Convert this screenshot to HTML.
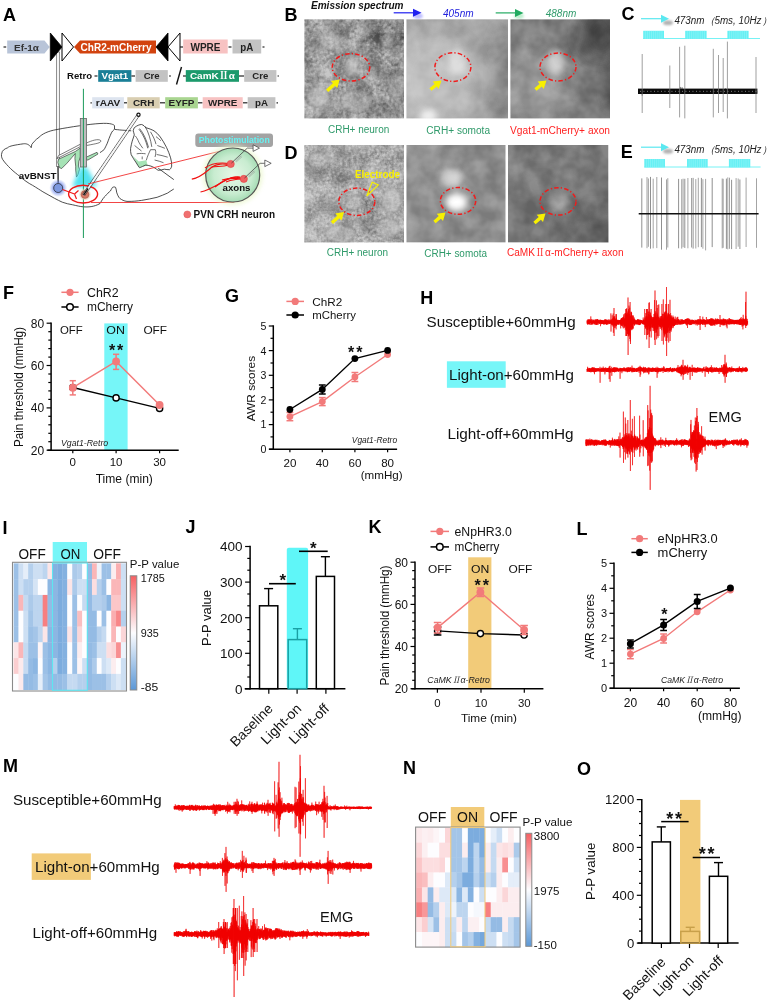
<!DOCTYPE html>
<html><head><meta charset="utf-8"><title>Figure</title>
<style>
html,body{margin:0;padding:0;background:#fff;}
body{width:770px;height:1000px;overflow:hidden;}
svg{display:block;font-family:"Liberation Sans", Arial, sans-serif;}
</style></head>
<body>
<svg width="770" height="1000" viewBox="0 0 770 1000">
<defs>
<filter id="blur1" x="-50%" y="-50%" width="200%" height="200%"><feGaussianBlur stdDeviation="1"/></filter>
<filter id="blur2" x="-50%" y="-50%" width="200%" height="200%"><feGaussianBlur stdDeviation="2"/></filter>
<filter id="blur3" x="-50%" y="-50%" width="200%" height="200%"><feGaussianBlur stdDeviation="3"/></filter>
<filter id="blur4" x="-50%" y="-50%" width="200%" height="200%"><feGaussianBlur stdDeviation="4"/></filter>
<filter id="blur5" x="-50%" y="-50%" width="200%" height="200%"><feGaussianBlur stdDeviation="5"/></filter>
<filter id="blur8" x="-50%" y="-50%" width="200%" height="200%"><feGaussianBlur stdDeviation="8"/></filter>
<radialGradient id="gcirc" cx="0.5" cy="0.5" r="0.5"><stop offset="0" stop-color="#e6f7e6"/><stop offset="0.7" stop-color="#c8ecd0"/><stop offset="1" stop-color="#a6dcb4"/></radialGradient>
<radialGradient id="bglow" cx="0.5" cy="0.5" r="0.5"><stop offset="0.4" stop-color="#5a78e8" stop-opacity="0.9"/><stop offset="1" stop-color="#8aa0f0" stop-opacity="0"/></radialGradient>
<radialGradient id="pglow" cx="0.5" cy="0.5" r="0.5"><stop offset="0.3" stop-color="#d88070"/><stop offset="0.6" stop-color="#e8b0a0"/><stop offset="1" stop-color="#f0f0d0" stop-opacity="0"/></radialGradient>

<filter id="texA" x="0" y="0" width="100%" height="100%" color-interpolation-filters="sRGB"><feTurbulence type="fractalNoise" baseFrequency="0.06" numOctaves="2" seed="3" result="lo"/><feTurbulence type="fractalNoise" baseFrequency="0.3" numOctaves="2" seed="4" result="hi"/><feComposite in="lo" in2="hi" operator="arithmetic" k1="0" k2="0.55" k3="0.45" k4="0"/><feColorMatrix type="matrix" values="2.4 0 0 0 -0.7  2.4 0 0 0 -0.7  2.4 0 0 0 -0.7  0 0 0 0 1"/></filter>
<filter id="texB" x="0" y="0" width="100%" height="100%" color-interpolation-filters="sRGB"><feTurbulence type="fractalNoise" baseFrequency="0.06" numOctaves="2" seed="12" result="lo"/><feTurbulence type="fractalNoise" baseFrequency="0.35" numOctaves="2" seed="13" result="hi"/><feComposite in="lo" in2="hi" operator="arithmetic" k1="0" k2="0.5" k3="0.5" k4="0"/><feColorMatrix type="matrix" values="2.4 0 0 0 -0.7  2.4 0 0 0 -0.7  2.4 0 0 0 -0.7  0 0 0 0 1"/></filter>
<filter id="texF" x="0" y="0" width="100%" height="100%" color-interpolation-filters="sRGB"><feTurbulence type="fractalNoise" baseFrequency="0.05" numOctaves="3" seed="5"/><feColorMatrix type="matrix" values="2 0 0 0 -0.5  2 0 0 0 -0.5  2 0 0 0 -0.5  0 0 0 0 1"/></filter>
<clipPath id="cB1"><rect x="304.3" y="19.2" width="99.7" height="99.4"/></clipPath>
<clipPath id="cB2"><rect x="406.3" y="19.2" width="101.7" height="99.4"/></clipPath>
<clipPath id="cB3"><rect x="510.3" y="19.2" width="99.7" height="99.4"/></clipPath>
<clipPath id="cD1"><rect x="304.3" y="145" width="99.7" height="97.6"/></clipPath>
<clipPath id="cD2"><rect x="406.3" y="145" width="99.4" height="97.6"/></clipPath>
<clipPath id="cD3"><rect x="508" y="145" width="100.5" height="97.6"/></clipPath>
<linearGradient id="cbar" x1="0" y1="0" x2="0" y2="1"><stop offset="0" stop-color="#f66062"/><stop offset="0.5" stop-color="#fdfdff"/><stop offset="1" stop-color="#5c98d6"/></linearGradient></defs>
<rect width="770" height="1000" fill="#fff"/>
<text x="3.0" y="21.0" font-size="18" fill="#000" font-weight="bold">A</text>
<line x1="3.5" y1="47.0" x2="6.2" y2="47.0" stroke="#222" stroke-width="1.2" />
<path d="M7.2,40.5 L44.5,40.5 L49.7,47.0 L44.5,53.5 L7.2,53.5 Z" fill="#b8c4d8" stroke="none" stroke-width="1" />
<text x="26.5" y="50.8" font-size="9.5" fill="#333" text-anchor="middle" font-weight="bold" textLength="25.0" lengthAdjust="spacingAndGlyphs">Ef-1α</text>
<rect x="56.40" y="52.00" width="3.20" height="114.50" fill="#f4f4f4" stroke="#777" stroke-width="0.8" />
<line x1="58.0" y1="166.5" x2="58.2" y2="186.0" stroke="#222" stroke-width="1.3" />
<path d="M50.3,33 L50.3,61 L62,47 Z" fill="#000" stroke="#000" stroke-width="0.8" />
<path d="M62,33 L62,61 L73.5,47 Z" fill="#fff" stroke="#000" stroke-width="1" />
<path d="M74,47.0 L80,40.5 L156,40.5 L156,53.5 L80,53.5 Z" fill="#d2430f" stroke="none" stroke-width="1" />
<text x="116.0" y="51.2" font-size="10" fill="#fff" text-anchor="middle" font-weight="bold" textLength="71.0" lengthAdjust="spacingAndGlyphs">ChR2-mCherry</text>
<path d="M168,33 L168,61 L156,47 Z" fill="#000" stroke="#000" stroke-width="0.8" />
<path d="M180,33 L180,61 L168,47 Z" fill="#fff" stroke="#000" stroke-width="1" />
<line x1="180.0" y1="47.0" x2="183.0" y2="47.0" stroke="#222" stroke-width="1.2" />
<rect x="183.20" y="39.50" width="44.50" height="14.00" fill="#f7c2c2" stroke="none" stroke-width="1" />
<text x="205.5" y="50.5" font-size="10" fill="#222" text-anchor="middle" font-weight="bold" textLength="30.0" lengthAdjust="spacingAndGlyphs">WPRE</text>
<line x1="228.5" y1="47.0" x2="231.5" y2="47.0" stroke="#222" stroke-width="1.2" />
<rect x="232.50" y="39.50" width="28.70" height="14.00" fill="#c3c3c3" stroke="none" stroke-width="1" />
<text x="246.8" y="50.5" font-size="10" fill="#222" text-anchor="middle" font-weight="bold" textLength="13.0" lengthAdjust="spacingAndGlyphs">pA</text>
<line x1="262.5" y1="47.0" x2="264.5" y2="47.0" stroke="#222" stroke-width="1.2" />
<text x="67.0" y="79.2" font-size="9.6" fill="#111" font-weight="bold" textLength="25.0" lengthAdjust="spacingAndGlyphs">Retro</text>
<line x1="94.5" y1="76.0" x2="97.5" y2="76.0" stroke="#222" stroke-width="1.2" />
<rect x="98.20" y="70.10" width="33.20" height="11.70" fill="#1a7f97" stroke="none" stroke-width="1" />
<text x="114.8" y="79.4" font-size="9.8" fill="#fff" text-anchor="middle" font-weight="bold" textLength="26.8" lengthAdjust="spacingAndGlyphs">Vgat1</text>
<line x1="131.4" y1="76.0" x2="135.0" y2="76.0" stroke="#222" stroke-width="1.2" />
<rect x="135.60" y="70.10" width="32.20" height="11.70" fill="#c3c3c3" stroke="none" stroke-width="1" />
<text x="151.7" y="79.4" font-size="9.8" fill="#222" text-anchor="middle" font-weight="bold" textLength="16.0" lengthAdjust="spacingAndGlyphs">Cre</text>
<line x1="169.0" y1="76.0" x2="171.0" y2="76.0" stroke="#222" stroke-width="1.2" />
<line x1="181.5" y1="67.0" x2="176.5" y2="84.5" stroke="#111" stroke-width="1.4" />
<line x1="183.0" y1="76.0" x2="186.0" y2="76.0" stroke="#222" stroke-width="1.2" />
<rect x="185.80" y="70.10" width="53.20" height="11.70" fill="#1c9a6c" stroke="none" stroke-width="1" />
<text x="212.4" y="79.4" font-size="9.8" fill="#fff" text-anchor="middle" font-weight="bold" textLength="45.0" lengthAdjust="spacingAndGlyphs">CamK<tspan font-family="Noto Serif CJK SC, Noto Sans CJK SC, serif">Ⅱ</tspan>α</text>
<line x1="239.0" y1="76.0" x2="244.0" y2="76.0" stroke="#222" stroke-width="1.2" />
<rect x="244.20" y="70.10" width="32.20" height="11.70" fill="#c3c3c3" stroke="none" stroke-width="1" />
<text x="260.3" y="79.4" font-size="9.8" fill="#222" text-anchor="middle" font-weight="bold" textLength="16.0" lengthAdjust="spacingAndGlyphs">Cre</text>
<line x1="277.5" y1="76.0" x2="279.0" y2="76.0" stroke="#222" stroke-width="1.2" />
<line x1="90.5" y1="102.8" x2="91.8" y2="102.8" stroke="#222" stroke-width="1.2" />
<rect x="92.20" y="97.20" width="31.70" height="11.20" fill="#dde4ef" stroke="none" stroke-width="1" />
<text x="108.0" y="106.3" font-size="9.8" fill="#222" text-anchor="middle" font-weight="bold" textLength="24.5" lengthAdjust="spacingAndGlyphs">rAAV</text>
<line x1="124.0" y1="102.8" x2="127.0" y2="102.8" stroke="#222" stroke-width="1.2" />
<rect x="127.30" y="97.20" width="32.40" height="11.20" fill="#d9ceb1" stroke="none" stroke-width="1" />
<text x="143.7" y="106.3" font-size="9.8" fill="#222" text-anchor="middle" font-weight="bold" textLength="21.5" lengthAdjust="spacingAndGlyphs">CRH</text>
<line x1="160.0" y1="102.8" x2="165.0" y2="102.8" stroke="#222" stroke-width="1.2" />
<rect x="165.20" y="97.20" width="32.70" height="11.20" fill="#a9d590" stroke="none" stroke-width="1" />
<text x="181.5" y="106.3" font-size="9.8" fill="#222" text-anchor="middle" font-weight="bold" textLength="26.0" lengthAdjust="spacingAndGlyphs">EYFP</text>
<line x1="198.0" y1="102.8" x2="202.5" y2="102.8" stroke="#222" stroke-width="1.2" />
<rect x="202.70" y="97.20" width="40.00" height="11.20" fill="#f7c2c2" stroke="none" stroke-width="1" />
<text x="222.7" y="106.3" font-size="9.8" fill="#222" text-anchor="middle" font-weight="bold" textLength="29.5" lengthAdjust="spacingAndGlyphs">WPRE</text>
<line x1="243.0" y1="102.8" x2="247.5" y2="102.8" stroke="#222" stroke-width="1.2" />
<rect x="247.70" y="97.20" width="27.70" height="11.20" fill="#c3c3c3" stroke="none" stroke-width="1" />
<text x="261.5" y="106.3" font-size="9.8" fill="#222" text-anchor="middle" font-weight="bold" textLength="13.0" lengthAdjust="spacingAndGlyphs">pA</text>
<line x1="276.5" y1="102.8" x2="278.0" y2="102.8" stroke="#222" stroke-width="1.2" />
<path d="M57.8,162.3 L58.6,159.2 L75.3,151.5 L80.3,148 L80.3,157 L78.8,161.5 L78.4,166.2 L79.6,169.3 L78,174.7 L76.5,177.1 L75.7,170.1 L75.7,166.2 L74.9,158.4 L75.3,153.5 L71.8,157.6 L67.1,163.1 L61.7,168.5 L59.4,167.7 Z" fill="#a6e3b6" stroke="#222" stroke-width="0.6" />
<path d="M86.5,157 L97,152.3 L98,154 L88,160 L86.5,160 Z" fill="#a6e3b6" stroke="#222" stroke-width="0.6" />
<path d="M131.2,153.8 L134.6,159.3 L138.8,166.9 L147.7,165.5 L146.3,160.3 L138.8,161.4 L133.3,156.5 Z" fill="#a6e3b6" stroke="none" stroke-width="1" />
<path d="M57,158.6 L80.4,146.6 L80.4,144.2 L58.5,155.6 Z" fill="#fff" stroke="#222" stroke-width="0.6" />
<path d="M86.5,143 C92,140.5 98,138.5 100.7,140.5 C101.5,143 97,143.5 86.5,145.5 Z" fill="#fff" stroke="#222" stroke-width="0.6" />
<path d="M100,123.5 C90,124 70,127 57,129.5 C48,131 42,134 39,137.3 C35,140 33,143 31.8,144.4 L31.2,147.7 C29,144 26,143.5 23.4,143.8 C15,145 9,146 7.8,147.7 C4,149 2,151 1.9,152.9 C1,155 1.5,157.5 2.6,159.4 C5,163 8,166 10.4,168.4 C14,172 17,174 19.5,176.2 C24,180 28,183 32.5,185.3 C37,188 40,190 42.9,191.8 C47,194 51,196.5 54.5,198.3 C57,199.8 60,201 62.3,202.2 C66,203.5 69,204.2 72.7,204.8 C77,205.8 80,206.5 83.1,206.8 C88,207.2 94,207 100,203.5 C102,200 104,197 105.2,196.2 C107,194 109,192 110.4,191 C111.5,189 112,188 112.5,187.4 C113.5,186.8 115,186.8 115.6,187.4 C116.3,189 116.4,191 116.6,192.1 C117.5,195 118.5,197 119.7,198.3 C122,200 124,201 127,201.4 C133,201.5 137,201 141.6,200.4 C147,199.5 152,198.5 157.1,197.3 C161,196 164,194.5 167.5,193.1 C170,191.5 172,190 173.8,189" fill="none" stroke="#222" stroke-width="0.8" />
<path d="M100,123.5 C105,123.2 109,123.3 111.4,124 C113,124.5 114.2,125 114.5,125.6 L114.5,129.2 C115.5,129.6 116.5,129.7 117.7,129.7 C120,130 122,130.2 124.9,130.3 L131.2,130.8" fill="none" stroke="#222" stroke-width="0.8" />
<path d="M114.5,129.2 C113,130.5 112,131.5 111.4,132.9 C109.5,137 108.5,140 107.3,143.2 C106,146 105,148 104.2,149.5 C102.5,151 101,152 100,152.6" fill="none" stroke="#222" stroke-width="0.8" />
<path d="M133.2,130.8 C133.5,129.5 133.8,128.5 134.3,127.7 C137,125.5 139.5,124.5 141.6,124.5 C143.5,125 144.8,126.5 145.7,127.7 C149,128.5 151.5,129.5 154,130.8 C156.5,132.5 158.5,134.5 160.3,137 C162.5,140 164.5,143.5 166.5,147.4 C168,150.5 169.5,154 170.6,157.8 C171.3,160.5 171.8,163.5 171.7,166.1 C171.3,167.8 170.5,169 169.6,169.7 C167.8,169.8 166,169.4 164.4,169.2 C162.5,169.6 160,170.3 158.2,170.3 C156.8,169.5 156,168.8 155.1,168.2 C153.5,167.2 152,166.4 150.9,166.1 C149,165.5 147.2,165.1 145.7,165.1 C143.5,166 141.5,167 139.5,167.7 C138.3,166.2 137.3,164.6 136.4,163 C134.5,160 132.5,157.5 131.2,154.7 C130.6,152.5 130.4,150.5 130.6,148.4 C131,146 131.6,143.5 132.2,141.2 C132.8,139 133.5,137 134.3,134.9 C134,133.5 133.6,132 133.2,130.8 Z" fill="none" stroke="#222" stroke-width="0.8" />
<path d="M138.8,129.2 C142,133 146,140 147.7,148.3" fill="none" stroke="#222" stroke-width="0.65" />
<path d="M139.6,128.6 C143.5,133 146.5,140 148.6,147.5" fill="none" stroke="#222" stroke-width="0.65" />
<path d="M145,126.3 C148.5,132 150.8,140 151.8,146.9" fill="none" stroke="#222" stroke-width="0.65" />
<path d="M150.5,131.8 C153,136 155,140 156,144.2" fill="none" stroke="#222" stroke-width="0.65" />
<path d="M156,136.6 C158,138 159.5,139.5 160.8,140.7" fill="none" stroke="#222" stroke-width="0.65" />
<path d="M157.3,145.5 C160,146.5 162.5,147.3 164.9,148.3" fill="none" stroke="#222" stroke-width="0.65" />
<path d="M156.7,154.5 C160,155 164,156 167.7,157.2" fill="none" stroke="#222" stroke-width="0.65" />
<path d="M154.6,160 C158,160.8 161,161.7 163.5,162.7" fill="none" stroke="#222" stroke-width="0.65" />
<path d="M134.6,145.5 C137,147.5 139.5,149.5 141.5,151" fill="none" stroke="#222" stroke-width="0.65" />
<path d="M136.7,153.8 C140,153.2 143,153.4 145.6,153.8" fill="none" stroke="#222" stroke-width="0.65" />
<path d="M142.2,156.5 L142.2,159.3" fill="none" stroke="#222" stroke-width="0.65" />
<path d="M150.5,149.7 L155.3,149.7" fill="none" stroke="#222" stroke-width="0.65" />
<path d="M135.3,135.9 C137,138 138,140 138.8,142.1 C140,144.5 141.5,146.5 142.9,148.3" fill="none" stroke="#222" stroke-width="0.65" />
<path d="M155.3,149.7 C156,152 156,154 155,157" fill="none" stroke="#222" stroke-width="0.65" />
<path d="M150.5,149.7 C149,153 147.5,156 146.3,160.3" fill="none" stroke="#222" stroke-width="0.65" />
<line x1="158.2" y1="168.2" x2="173.8" y2="179.6" stroke="#222" stroke-width="0.8" />
<path d="M80.5,167 L86.5,167 L97,185.5 C90,188 78,188 72.2,186.3 Z" fill="#3fe0f0" stroke="none" stroke-width="1" filter="url(#blur2)" opacity="0.9"/>
<rect x="80.30" y="118.40" width="6.20" height="48.60" fill="#bdbdbd" stroke="#666" stroke-width="0.8" />
<line x1="83.4" y1="88.8" x2="83.4" y2="238.0" stroke="#1a9a5a" stroke-width="1" />
<circle cx="58.2" cy="188.0" r="9" fill="url(#bglow)" stroke="none" stroke-width="1" />
<circle cx="58.2" cy="188.0" r="4.5" fill="#7d98e0" stroke="#333" stroke-width="0.8" />
<text x="18.8" y="178.8" font-size="9.8" fill="#111" font-weight="bold" textLength="37.7" lengthAdjust="spacingAndGlyphs">avBNST</text>
<circle cx="85.0" cy="194.5" r="6.5" fill="url(#pglow)" stroke="none" stroke-width="1" />
<circle cx="85.0" cy="194.5" r="3.8" fill="#d97a66" stroke="#a05040" stroke-width="0.5" />
<ellipse cx="83.1" cy="194.1" rx="14.5" ry="8.9" fill="none" stroke="#f01818" stroke-width="1.4"/>
<line x1="62.5" y1="189.5" x2="74.5" y2="194.0" stroke="#f01818" stroke-width="1.2" />
<path d="M74.5,194 L78.5,190.5 M74.5,194 L76.5,199" fill="none" stroke="#f01818" stroke-width="1.2" />
<path d="M137.4,114 L82.4,194.5 M139.6,115.4 L84.6,195.9" fill="none" stroke="#333" stroke-width="0.7" />
<path d="M138.5,114.7 L83.5,195.2" fill="none" stroke="#f6f6f6" stroke-width="1.4" />
<circle cx="138.5" cy="114.7" r="1.6" fill="#fff" stroke="#111" stroke-width="1.2" />
<line x1="83.5" y1="195.2" x2="88.0" y2="188.5" stroke="#111" stroke-width="1.4" />
<line x1="88.0" y1="184.0" x2="221.6" y2="150.8" stroke="#f03030" stroke-width="0.9" />
<line x1="91.0" y1="202.5" x2="234.4" y2="202.5" stroke="#f03030" stroke-width="0.9" />
<rect x="195.30" y="133.50" width="77.70" height="13.50" fill="#a3a3a3" stroke="none" stroke-width="1" rx="3"/>
<text x="198.8" y="143.2" font-size="8.2" fill="#66f2f2" font-weight="bold" textLength="70.9" lengthAdjust="spacingAndGlyphs">Photostimulation</text>
<circle cx="232.7" cy="175.0" r="30" fill="#e8f6c8" stroke="none" stroke-width="1" filter="url(#blur2)" opacity="0.7"/>
<circle cx="232.7" cy="175.0" r="27" fill="url(#gcirc)" stroke="#555" stroke-width="1.2" />
<path d="M191.8,179.1 C200,178 206,172 212,167 C218,163 224,164 230.7,164.5" fill="none" stroke="#f01010" stroke-width="1.1" />
<path d="M205,168 C210,164 218,162 230,163.5" fill="none" stroke="#f01010" stroke-width="1.1" />
<path d="M212,167 C216,166 222,167 229,165" fill="none" stroke="#f01010" stroke-width="1.1" />
<path d="M200.5,192 C210,190 220,183 228,179 C234,176 238,177 243.8,178.9" fill="none" stroke="#f01010" stroke-width="1.1" />
<path d="M215,187 C222,181 232,176 240,177" fill="none" stroke="#f01010" stroke-width="1.1" />
<path d="M222,180 C228,178 236,178 243,179.5" fill="none" stroke="#f01010" stroke-width="1.1" />
<path d="M226,182 C232,179 238,180 243,178" fill="none" stroke="#f01010" stroke-width="1.1" />
<circle cx="230.7" cy="164.0" r="3.6" fill="#f06060" stroke="#e04040" stroke-width="0.6" />
<circle cx="243.8" cy="178.9" r="3.6" fill="#f06060" stroke="#e04040" stroke-width="0.6" />
<path d="M231.5,163 L247.3,148.1 L253.1,148.1" fill="none" stroke="#333" stroke-width="0.7" />
<path d="M253.1,144.8 L259.5,148.1 L253.1,151.4 Z" fill="#fff" stroke="#333" stroke-width="0.7" />
<path d="M244.5,178 L260.1,163.3 L264.8,163.3" fill="none" stroke="#333" stroke-width="0.7" />
<path d="M264.8,160 L271.2,163.3 L264.8,166.6 Z" fill="#fff" stroke="#333" stroke-width="0.7" />
<line x1="234.5" y1="160.5" x2="240.5" y2="155.0" stroke="#888" stroke-width="0.5" />
<line x1="235.3" y1="161.3" x2="241.3" y2="155.8" stroke="#888" stroke-width="0.5" />
<line x1="236.1" y1="162.1" x2="242.1" y2="156.6" stroke="#888" stroke-width="0.5" />
<line x1="247.5" y1="175.5" x2="253.5" y2="170.0" stroke="#888" stroke-width="0.5" />
<line x1="248.3" y1="176.3" x2="254.3" y2="170.8" stroke="#888" stroke-width="0.5" />
<line x1="249.1" y1="177.1" x2="255.1" y2="171.6" stroke="#888" stroke-width="0.5" />
<text x="222.5" y="191.4" font-size="9.9" fill="#111" font-weight="bold" textLength="28.0" lengthAdjust="spacingAndGlyphs">axons</text>
<circle cx="187.3" cy="214.4" r="3.5" fill="#f07070" stroke="#e05858" stroke-width="0.5" />
<text x="193.6" y="218.0" font-size="10" fill="#111" font-weight="bold" textLength="81.4" lengthAdjust="spacingAndGlyphs">PVN CRH neuron</text>
<text x="284.5" y="20.5" font-size="18" fill="#000" font-weight="bold">B</text>
<text x="311.0" y="9.0" font-size="10" fill="#111" font-weight="bold" font-style="italic" textLength="92.5" lengthAdjust="spacingAndGlyphs">Emission spectrum</text>
<ellipse cx="418" cy="16" rx="5" ry="3" fill="#8080ff" opacity="0.5" filter="url(#blur1)"/>
<line x1="393.7" y1="12.8" x2="414.0" y2="12.8" stroke="#2020f0" stroke-width="1.2" />
<path d="M413,8.8 L421.5,12.8 L413,16.8 Z" fill="#2020f0" stroke="none" stroke-width="1" />
<text x="442.9" y="17.0" font-size="10" fill="#2222dd" font-style="italic" textLength="30.8" lengthAdjust="spacingAndGlyphs">405nm</text>
<ellipse cx="519" cy="16" rx="5" ry="3" fill="#80e0a0" opacity="0.5" filter="url(#blur1)"/>
<line x1="495.7" y1="12.9" x2="516.0" y2="12.9" stroke="#22aa60" stroke-width="1.2" />
<path d="M515,8.9 L523.5,12.9 L515,16.9 Z" fill="#22aa60" stroke="none" stroke-width="1" />
<text x="545.7" y="17.0" font-size="10" fill="#2f9a6a" font-style="italic" textLength="30.6" lengthAdjust="spacingAndGlyphs">488nm</text>
<g clip-path="url(#cB1)">
<rect x="304.30" y="19.20" width="99.70" height="99.40" fill="#949494" stroke="none" stroke-width="1" />
<ellipse cx="330" cy="60" rx="25" ry="25" fill="#a8a8a8" opacity="0.6" filter="url(#blur8)"/>
<ellipse cx="320" cy="105" rx="20" ry="15" fill="#b0b0b0" opacity="0.6" filter="url(#blur8)"/>
<ellipse cx="390" cy="35" rx="18" ry="10" fill="#5a5a5a" opacity="0.5" filter="url(#blur5)"/>
<ellipse cx="350" cy="70" rx="14" ry="14" fill="#a0a0a0" opacity="0.5" filter="url(#blur3)"/>
<rect x="304.3" y="19.2" width="99.7" height="99.4" filter="url(#texA)" opacity="0.42" style="mix-blend-mode:overlay"/>
</g>
<g clip-path="url(#cB2)">
<rect x="406.30" y="19.20" width="101.70" height="99.40" fill="#a2a2a2" stroke="none" stroke-width="1" />
<ellipse cx="460" cy="25" rx="45" ry="10" fill="#acacac" opacity="0.5" filter="url(#blur5)"/>
<ellipse cx="435" cy="80" rx="42" ry="48" fill="#c4c4c4" opacity="0.85" filter="url(#blur8)"/>
<ellipse cx="457" cy="62" rx="9" ry="13" fill="#dcdcdc" opacity="0.9" filter="url(#blur3)"/>
<ellipse cx="428" cy="116" rx="9" ry="7" fill="#f0f0f0" opacity="0.9" filter="url(#blur3)"/>
<ellipse cx="507" cy="80" rx="12" ry="50" fill="#767676" opacity="0.7" filter="url(#blur8)"/>
<rect x="406.3" y="19.2" width="101.7" height="99.4" filter="url(#texF)" opacity="0.15" style="mix-blend-mode:overlay"/>
</g>
<g clip-path="url(#cB3)">
<rect x="510.30" y="19.20" width="99.70" height="99.40" fill="#7a7a7a" stroke="none" stroke-width="1" />
<ellipse cx="535" cy="85" rx="35" ry="40" fill="#a0a0a0" opacity="0.8" filter="url(#blur8)"/>
<ellipse cx="556" cy="62" rx="8" ry="12" fill="#d0d0d0" opacity="0.9" filter="url(#blur3)"/>
<ellipse cx="600" cy="35" rx="20" ry="25" fill="#3c3c3c" opacity="0.8" filter="url(#blur8)"/>
<ellipse cx="612" cy="85" rx="8" ry="25" fill="#404040" opacity="0.7" filter="url(#blur5)"/>
<rect x="510.3" y="19.2" width="99.7" height="99.4" filter="url(#texF)" opacity="0.15" style="mix-blend-mode:overlay"/>
</g>
<g clip-path="url(#cB1)">
<ellipse cx="352" cy="66" rx="7" ry="11" transform="rotate(10 352 66)" fill="#c8c8c8" fill-opacity="0.5" stroke="#5a5a5a" stroke-opacity="0.45" stroke-width="1.2" filter="url(#blur1)"/>
<ellipse cx="387" cy="41" rx="7" ry="7" transform="rotate(0 387 41)" fill="#b0b0b0" fill-opacity="0.3" stroke="#5a5a5a" stroke-opacity="0.45" stroke-width="1.2" filter="url(#blur1)"/>
<ellipse cx="318" cy="97" rx="11" ry="10" transform="rotate(0 318 97)" fill="#d0d0d0" fill-opacity="0.45" stroke="#5a5a5a" stroke-opacity="0.45" stroke-width="1.2" filter="url(#blur1)"/>
<ellipse cx="356" cy="101" rx="15" ry="11" transform="rotate(0 356 101)" fill="#c8c8c8" fill-opacity="0.4" stroke="#5a5a5a" stroke-opacity="0.45" stroke-width="1.2" filter="url(#blur1)"/>
<ellipse cx="396" cy="86" rx="9" ry="12" transform="rotate(0 396 86)" fill="#c0c0c0" fill-opacity="0.35" stroke="#5a5a5a" stroke-opacity="0.45" stroke-width="1.2" filter="url(#blur1)"/>
<ellipse cx="330" cy="40" rx="10" ry="9" transform="rotate(0 330 40)" fill="#c0c0c0" fill-opacity="0.3" stroke="#5a5a5a" stroke-opacity="0.45" stroke-width="1.2" filter="url(#blur1)"/>
</g>
<ellipse cx="351" cy="67.3" rx="18.8" ry="13.7" fill="none" stroke="#f01c1c" stroke-width="1.5" stroke-dasharray="4.5,2.2,1.2,2.2"/>
<path d="M328.2,92.0 L335.2,85.8 L337.2,88.2 L339.7,79.6 L330.9,81.0 L332.9,83.3 L326.0,89.4 Z" fill="#f8f000" stroke="none" stroke-width="1" />
<ellipse cx="452.9" cy="67.1" rx="18" ry="14.3" fill="none" stroke="#f01c1c" stroke-width="1.5" stroke-dasharray="4.5,2.2,1.2,2.2"/>
<path d="M431.6,90.8 L436.8,86.6 L438.7,89.0 L441.5,80.5 L432.7,81.5 L434.6,83.9 L429.4,88.2 Z" fill="#f8f000" stroke="none" stroke-width="1" />
<ellipse cx="558" cy="67" rx="18" ry="14" fill="none" stroke="#f01c1c" stroke-width="1.5" stroke-dasharray="4.5,2.2,1.2,2.2"/>
<path d="M536.6,90.8 L541.8,86.6 L543.7,89.0 L546.5,80.5 L537.7,81.5 L539.6,83.9 L534.4,88.2 Z" fill="#f8f000" stroke="none" stroke-width="1" />
<text x="328.0" y="133.0" font-size="10" fill="#2f9a6a" textLength="61.3" lengthAdjust="spacingAndGlyphs">CRH+ neuron</text>
<text x="426.3" y="133.5" font-size="10" fill="#2f9a6a" textLength="63.7" lengthAdjust="spacingAndGlyphs">CRH+ somota</text>
<text x="510.0" y="133.5" font-size="10" fill="#ff2222" textLength="100.0" lengthAdjust="spacingAndGlyphs">Vgat1-mCherry+  axon</text>
<text x="284.4" y="158.7" font-size="18" fill="#000" font-weight="bold">D</text>
<g clip-path="url(#cD1)">
<rect x="304.30" y="145.00" width="99.70" height="97.60" fill="#a8a8a8" stroke="none" stroke-width="1" />
<ellipse cx="330" cy="190" rx="25" ry="25" fill="#b0b0b0" opacity="0.5" filter="url(#blur8)"/>
<ellipse cx="385" cy="205" rx="18" ry="22" fill="#b8b8b8" opacity="0.6" filter="url(#blur5)"/>
<ellipse cx="320" cy="230" rx="18" ry="10" fill="#b8b8b8" opacity="0.6" filter="url(#blur5)"/>
<ellipse cx="365" cy="205" rx="18" ry="12" fill="#7a7a7a" opacity="0.5" filter="url(#blur4)"/>
<ellipse cx="340" cy="175" rx="25" ry="10" fill="#888" opacity="0.4" filter="url(#blur5)"/>
<ellipse cx="365" cy="228" rx="25" ry="10" fill="#8a8a8a" opacity="0.4" filter="url(#blur5)"/>
<rect x="304.3" y="145" width="99.7" height="97.6" filter="url(#texB)" opacity="0.42" style="mix-blend-mode:overlay"/>
</g>
<g clip-path="url(#cD2)">
<rect x="406.30" y="145.00" width="99.40" height="97.60" fill="#8c8c8c" stroke="none" stroke-width="1" />
<ellipse cx="430" cy="160" rx="30" ry="20" fill="#9a9a9a" opacity="0.6" filter="url(#blur8)"/>
<ellipse cx="456.3" cy="202.2" rx="11" ry="9" fill="#ffffff" opacity="1" filter="url(#blur3)"/>
<ellipse cx="452.2" cy="177.4" rx="11" ry="9" fill="#d8d8d8" opacity="0.9" filter="url(#blur3)"/>
<ellipse cx="410" cy="225" rx="6" ry="8" fill="#a8a8a8" opacity="0.7" filter="url(#blur3)"/>
<rect x="406.3" y="145" width="99.4" height="97.6" filter="url(#texF)" opacity="0.15" style="mix-blend-mode:overlay"/>
</g>
<g clip-path="url(#cD3)">
<rect x="508.00" y="145.00" width="100.50" height="97.60" fill="#747474" stroke="none" stroke-width="1" />
<ellipse cx="540" cy="165" rx="45" ry="18" fill="#858585" opacity="0.7" filter="url(#blur8)"/>
<ellipse cx="595" cy="235" rx="30" ry="25" fill="#5c5c5c" opacity="0.7" filter="url(#blur8)"/>
<ellipse cx="558.3" cy="200.8" rx="10" ry="10" fill="#9c9c9c" opacity="0.9" filter="url(#blur3)"/>
<rect x="508" y="145" width="100.5" height="97.6" filter="url(#texF)" opacity="0.15" style="mix-blend-mode:overlay"/>
</g>
<g clip-path="url(#cD1)">
<ellipse cx="391.7" cy="200.7" rx="10" ry="12" transform="rotate(0 391.7 200.7)" fill="#cfcfcf" fill-opacity="0.45" stroke="#5a5a5a" stroke-opacity="0.45" stroke-width="1.2" filter="url(#blur1)"/>
<ellipse cx="354" cy="203" rx="9" ry="7" transform="rotate(-20 354 203)" fill="#d0d0d0" fill-opacity="0.5" stroke="#5a5a5a" stroke-opacity="0.45" stroke-width="1.2" filter="url(#blur1)"/>
<ellipse cx="387" cy="228" rx="12" ry="10" transform="rotate(0 387 228)" fill="#cccccc" fill-opacity="0.4" stroke="#5a5a5a" stroke-opacity="0.45" stroke-width="1.2" filter="url(#blur1)"/>
<ellipse cx="340" cy="234" rx="15" ry="9" transform="rotate(0 340 234)" fill="#d0d0d0" fill-opacity="0.4" stroke="#5a5a5a" stroke-opacity="0.45" stroke-width="1.2" filter="url(#blur1)"/>
<ellipse cx="318" cy="160" rx="10" ry="8" transform="rotate(0 318 160)" fill="#c8c8c8" fill-opacity="0.3" stroke="#5a5a5a" stroke-opacity="0.45" stroke-width="1.2" filter="url(#blur1)"/>
</g>
<ellipse cx="356.8" cy="201.8" rx="18" ry="13.7" fill="none" stroke="#f01c1c" stroke-width="1.5" stroke-dasharray="4.5,2.2,1.2,2.2"/>
<path d="M333.0,224.0 L339.5,218.2 L341.6,220.6 L344.0,212.0 L335.2,213.4 L337.3,215.7 L330.8,221.4 Z" fill="#f8f000" stroke="none" stroke-width="1" />
<ellipse cx="458" cy="200.9" rx="17.7" ry="13.4" fill="none" stroke="#f01c1c" stroke-width="1.5" stroke-dasharray="4.5,2.2,1.2,2.2"/>
<path d="M435.6,223.3 L440.9,218.7 L443.0,221.0 L445.5,212.5 L436.7,213.8 L438.7,216.1 L433.4,220.7 Z" fill="#f8f000" stroke="none" stroke-width="1" />
<ellipse cx="558" cy="201.4" rx="18" ry="13.7" fill="none" stroke="#f01c1c" stroke-width="1.5" stroke-dasharray="4.5,2.2,1.2,2.2"/>
<path d="M535.6,224.3 L540.9,219.7 L543.0,222.0 L545.5,213.5 L536.7,214.8 L538.7,217.1 L533.4,221.7 Z" fill="#f8f000" stroke="none" stroke-width="1" />
<text x="355.0" y="178.3" font-size="10.5" fill="#f8f000" font-weight="bold" textLength="45.0" lengthAdjust="spacingAndGlyphs">Electrode</text>
<path d="M366.7,196 L372.2,182.3 L378.4,185 Z" fill="none" stroke="#f8f000" stroke-width="1.1" />
<text x="326.8" y="256.0" font-size="10" fill="#2f9a6a" textLength="61.3" lengthAdjust="spacingAndGlyphs">CRH+ neuron</text>
<text x="424.3" y="256.5" font-size="10" fill="#2f9a6a" textLength="62.7" lengthAdjust="spacingAndGlyphs">CRH+ somota</text>
<text x="506.9" y="256.4" font-size="10" fill="#ff2222" textLength="116.7" lengthAdjust="spacingAndGlyphs">CaMK<tspan font-family="Noto Serif CJK SC, Noto Sans CJK SC, serif">Ⅱ</tspan>α-mCherry+ axon</text>
<text x="621.4" y="20.2" font-size="18" fill="#000" font-weight="bold">C</text>
<ellipse cx="668" cy="22.7" rx="5" ry="2.5" fill="#555" opacity="0.45" filter="url(#blur1)"/>
<line x1="641.0" y1="18.7" x2="662.0" y2="18.7" stroke="#5ae8f0" stroke-width="1.2" />
<path d="M661,14.7 L669,18.7 L661,22.7 Z" fill="#5ae8f0" stroke="none" stroke-width="1" />
<text x="674.4" y="24.4" font-size="10" fill="#222" font-style="italic" textLength="97.0" lengthAdjust="spacingAndGlyphs">473nm（5ms, 10Hz）</text>
<line x1="643.2" y1="38.5" x2="760.0" y2="38.5" stroke="#66f0f4" stroke-width="0.9" />
<rect x="643.20" y="30.80" width="20.80" height="8.10" fill="#66f0f4" stroke="none" stroke-width="1" />
<line x1="645.3" y1="30.8" x2="645.3" y2="38.9" stroke="#a8f8fa" stroke-width="0.4" />
<line x1="647.4" y1="30.8" x2="647.4" y2="38.9" stroke="#a8f8fa" stroke-width="0.4" />
<line x1="649.4" y1="30.8" x2="649.4" y2="38.9" stroke="#a8f8fa" stroke-width="0.4" />
<line x1="651.5" y1="30.8" x2="651.5" y2="38.9" stroke="#a8f8fa" stroke-width="0.4" />
<line x1="653.6" y1="30.8" x2="653.6" y2="38.9" stroke="#a8f8fa" stroke-width="0.4" />
<line x1="655.7" y1="30.8" x2="655.7" y2="38.9" stroke="#a8f8fa" stroke-width="0.4" />
<line x1="657.8" y1="30.8" x2="657.8" y2="38.9" stroke="#a8f8fa" stroke-width="0.4" />
<line x1="659.8" y1="30.8" x2="659.8" y2="38.9" stroke="#a8f8fa" stroke-width="0.4" />
<line x1="661.9" y1="30.8" x2="661.9" y2="38.9" stroke="#a8f8fa" stroke-width="0.4" />
<rect x="685.20" y="30.80" width="21.40" height="8.10" fill="#66f0f4" stroke="none" stroke-width="1" />
<line x1="687.3" y1="30.8" x2="687.3" y2="38.9" stroke="#a8f8fa" stroke-width="0.4" />
<line x1="689.5" y1="30.8" x2="689.5" y2="38.9" stroke="#a8f8fa" stroke-width="0.4" />
<line x1="691.6" y1="30.8" x2="691.6" y2="38.9" stroke="#a8f8fa" stroke-width="0.4" />
<line x1="693.8" y1="30.8" x2="693.8" y2="38.9" stroke="#a8f8fa" stroke-width="0.4" />
<line x1="695.9" y1="30.8" x2="695.9" y2="38.9" stroke="#a8f8fa" stroke-width="0.4" />
<line x1="698.0" y1="30.8" x2="698.0" y2="38.9" stroke="#a8f8fa" stroke-width="0.4" />
<line x1="700.2" y1="30.8" x2="700.2" y2="38.9" stroke="#a8f8fa" stroke-width="0.4" />
<line x1="702.3" y1="30.8" x2="702.3" y2="38.9" stroke="#a8f8fa" stroke-width="0.4" />
<line x1="704.5" y1="30.8" x2="704.5" y2="38.9" stroke="#a8f8fa" stroke-width="0.4" />
<rect x="727.40" y="30.80" width="21.20" height="8.10" fill="#66f0f4" stroke="none" stroke-width="1" />
<line x1="729.5" y1="30.8" x2="729.5" y2="38.9" stroke="#a8f8fa" stroke-width="0.4" />
<line x1="731.6" y1="30.8" x2="731.6" y2="38.9" stroke="#a8f8fa" stroke-width="0.4" />
<line x1="733.8" y1="30.8" x2="733.8" y2="38.9" stroke="#a8f8fa" stroke-width="0.4" />
<line x1="735.9" y1="30.8" x2="735.9" y2="38.9" stroke="#a8f8fa" stroke-width="0.4" />
<line x1="738.0" y1="30.8" x2="738.0" y2="38.9" stroke="#a8f8fa" stroke-width="0.4" />
<line x1="740.1" y1="30.8" x2="740.1" y2="38.9" stroke="#a8f8fa" stroke-width="0.4" />
<line x1="742.2" y1="30.8" x2="742.2" y2="38.9" stroke="#a8f8fa" stroke-width="0.4" />
<line x1="744.4" y1="30.8" x2="744.4" y2="38.9" stroke="#a8f8fa" stroke-width="0.4" />
<line x1="746.5" y1="30.8" x2="746.5" y2="38.9" stroke="#a8f8fa" stroke-width="0.4" />
<path d="M638.00,91.40 L638.35,91.67 L638.70,91.15 L639.05,90.60 L639.40,90.99 L639.75,90.51 L640.10,91.45 L640.45,92.61 L640.80,90.96 L641.15,90.84 L641.50,91.84 L641.85,91.72 L642.20,95.58 L642.55,90.19 L642.90,90.33 L643.25,89.85 L643.60,90.25 L643.95,92.99 L644.30,90.88 L644.65,89.17 L645.00,88.85 L645.35,90.71 L645.70,90.51 L646.05,91.48 L646.40,91.70 L646.75,91.43 L647.10,88.95 L647.45,90.89 L647.80,91.46 L648.15,91.46 L648.50,90.24 L648.85,91.71 L649.20,90.73 L649.55,90.69 L649.90,91.84 L650.25,90.67 L650.60,91.37 L650.95,92.20 L651.30,90.87 L651.65,91.30 L652.00,91.50 L652.35,91.46 L652.70,90.30 L653.05,91.47 L653.40,92.62 L653.75,90.01 L654.10,92.17 L654.45,91.51 L654.80,90.82 L655.15,93.20 L655.50,92.09 L655.85,90.32 L656.20,91.47 L656.55,91.92 L656.90,91.23 L657.25,92.01 L657.60,91.34 L657.95,92.00 L658.30,92.69 L658.65,90.79 L659.00,91.58 L659.35,90.98 L659.70,91.51 L660.05,90.33 L660.40,90.88 L660.75,91.22 L661.10,92.21 L661.45,92.43 L661.80,90.21 L662.15,90.68 L662.50,91.98 L662.85,89.61 L663.20,90.98 L663.55,91.31 L663.90,92.53 L664.25,92.02 L664.60,91.11 L664.95,91.07 L665.30,91.17 L665.65,92.77 L666.00,91.01 L666.35,91.13 L666.70,91.72 L667.05,91.29 L667.40,91.22 L667.75,90.40 L668.10,91.39 L668.45,91.00 L668.80,92.45 L669.15,91.99 L669.50,91.38 L669.85,92.00 L670.20,91.09 L670.55,92.35 L670.90,91.40 L671.25,91.93 L671.60,90.24 L671.95,91.71 L672.30,89.88 L672.65,89.57 L673.00,91.13 L673.35,90.59 L673.70,91.55 L674.05,93.42 L674.40,90.65 L674.75,90.84 L675.10,91.58 L675.45,91.84 L675.80,91.24 L676.15,91.21 L676.50,92.03 L676.85,91.87 L677.20,90.47 L677.55,91.33 L677.90,91.43 L678.25,90.45 L678.60,91.63 L678.95,90.63 L679.30,92.27 L679.65,91.57 L680.00,92.33 L680.35,86.94 L680.70,88.69 L681.05,91.05 L681.40,91.48 L681.75,91.51 L682.10,87.26 L682.45,91.72 L682.80,89.09 L683.15,92.72 L683.50,92.71 L683.85,92.28 L684.20,90.92 L684.55,89.19 L684.90,92.49 L685.25,92.59 L685.60,90.72 L685.95,91.21 L686.30,90.73 L686.65,90.99 L687.00,92.79 L687.35,91.29 L687.70,91.20 L688.05,90.84 L688.40,90.80 L688.75,90.15 L689.10,92.45 L689.45,90.99 L689.80,92.00 L690.15,91.41 L690.50,90.78 L690.85,91.11 L691.20,90.90 L691.55,91.41 L691.90,91.06 L692.25,91.13 L692.60,90.16 L692.95,90.67 L693.30,92.89 L693.65,90.80 L694.00,90.45 L694.35,91.70 L694.70,92.67 L695.05,90.09 L695.40,91.21 L695.75,90.83 L696.10,89.82 L696.45,92.06 L696.80,91.38 L697.15,91.46 L697.50,90.72 L697.85,91.81 L698.20,90.91 L698.55,91.27 L698.90,90.40 L699.25,90.31 L699.60,92.60 L699.95,90.94 L700.30,91.66 L700.65,91.37 L701.00,91.00 L701.35,90.94 L701.70,91.97 L702.05,91.13 L702.40,91.26 L702.75,91.42 L703.10,92.46 L703.45,92.01 L703.80,91.74 L704.15,90.89 L704.50,90.16 L704.85,92.25 L705.20,92.27 L705.55,91.27 L705.90,91.89 L706.25,92.10 L706.60,92.15 L706.95,92.23 L707.30,90.99 L707.65,92.76 L708.00,90.28 L708.35,92.18 L708.70,91.84 L709.05,92.19 L709.40,93.09 L709.75,92.74 L710.10,90.37 L710.45,89.88 L710.80,92.14 L711.15,90.49 L711.50,91.39 L711.85,92.16 L712.20,89.92 L712.55,89.50 L712.90,91.63 L713.25,91.44 L713.60,91.18 L713.95,91.43 L714.30,90.63 L714.65,90.04 L715.00,91.25 L715.35,90.53 L715.70,89.92 L716.05,91.86 L716.40,91.34 L716.75,91.77 L717.10,90.51 L717.45,90.81 L717.80,90.50 L718.15,90.60 L718.50,91.58 L718.85,90.70 L719.20,91.72 L719.55,91.71 L719.90,93.22 L720.25,90.15 L720.60,92.20 L720.95,91.32 L721.30,91.39 L721.65,90.10 L722.00,90.99 L722.35,92.07 L722.70,91.33 L723.05,91.47 L723.40,91.14 L723.75,92.44 L724.10,91.38 L724.45,89.42 L724.80,90.78 L725.15,89.63 L725.50,88.47 L725.85,90.92 L726.20,92.60 L726.55,91.44 L726.90,90.34 L727.25,92.19 L727.60,92.06 L727.95,91.92 L728.30,93.04 L728.65,88.83 L729.00,90.39 L729.35,92.34 L729.70,92.34 L730.05,91.21 L730.40,91.43 L730.75,92.04 L731.10,89.83 L731.45,91.71 L731.80,90.79 L732.15,91.56 L732.50,90.34 L732.85,90.89 L733.20,93.23 L733.55,93.29 L733.90,90.83 L734.25,91.99 L734.60,91.37 L734.95,89.81 L735.30,91.58 L735.65,91.75 L736.00,91.32 L736.35,90.47 L736.70,90.83 L737.05,91.24 L737.40,92.47 L737.75,91.70 L738.10,91.40 L738.45,92.78 L738.80,90.90 L739.15,91.05 L739.50,89.76 L739.85,92.81 L740.20,92.27 L740.55,92.23 L740.90,92.00 L741.25,91.50 L741.60,91.59 L741.95,91.17 L742.30,91.22 L742.65,91.45 L743.00,92.76 L743.35,91.90 L743.70,91.35 L744.05,90.88 L744.40,90.83 L744.75,92.84 L745.10,91.86 L745.45,91.46 L745.80,91.09 L746.15,90.40 L746.50,91.34 L746.85,92.19 L747.20,91.05 L747.55,91.20 L747.90,91.20 L748.25,91.50 L748.60,89.97 L748.95,91.19 L749.30,90.63 L749.65,92.20 L750.00,90.71 L750.35,91.92 L750.70,92.77 L751.05,91.12 L751.40,90.86 L751.75,91.57 L752.10,91.40 L752.45,90.51 L752.80,91.81 L753.15,93.21 L753.50,91.17 L753.85,91.22 L754.20,90.46 L754.55,91.69 L754.90,90.28 L755.25,90.40 L755.60,92.55 L755.95,90.59 L756.30,92.37 L756.65,92.77 L757.00,91.63 L757.35,91.90" fill="none" stroke="#555" stroke-width="0.5" />
<rect x="638.00" y="88.60" width="119.40" height="5.40" fill="#0a0a0a" stroke="none" stroke-width="1" />
<rect x="640.0" y="90.8" width="0.9" height="1.2" fill="#777"/>
<rect x="643.5" y="90.8" width="0.9" height="1.2" fill="#777"/>
<rect x="647.0" y="90.8" width="0.9" height="1.2" fill="#777"/>
<rect x="650.5" y="90.8" width="0.9" height="1.2" fill="#777"/>
<rect x="654.0" y="90.8" width="0.9" height="1.2" fill="#777"/>
<rect x="657.5" y="90.8" width="0.9" height="1.2" fill="#777"/>
<rect x="661.0" y="90.8" width="0.9" height="1.2" fill="#777"/>
<rect x="664.5" y="90.8" width="0.9" height="1.2" fill="#777"/>
<rect x="668.0" y="90.8" width="0.9" height="1.2" fill="#777"/>
<rect x="671.5" y="90.8" width="0.9" height="1.2" fill="#777"/>
<rect x="675.0" y="90.8" width="0.9" height="1.2" fill="#777"/>
<rect x="678.5" y="90.8" width="0.9" height="1.2" fill="#777"/>
<rect x="682.0" y="90.8" width="0.9" height="1.2" fill="#777"/>
<rect x="685.5" y="90.8" width="0.9" height="1.2" fill="#777"/>
<rect x="689.0" y="90.8" width="0.9" height="1.2" fill="#777"/>
<rect x="692.5" y="90.8" width="0.9" height="1.2" fill="#777"/>
<rect x="696.0" y="90.8" width="0.9" height="1.2" fill="#777"/>
<rect x="699.5" y="90.8" width="0.9" height="1.2" fill="#777"/>
<rect x="703.0" y="90.8" width="0.9" height="1.2" fill="#777"/>
<rect x="706.5" y="90.8" width="0.9" height="1.2" fill="#777"/>
<rect x="710.0" y="90.8" width="0.9" height="1.2" fill="#777"/>
<rect x="713.5" y="90.8" width="0.9" height="1.2" fill="#777"/>
<rect x="717.0" y="90.8" width="0.9" height="1.2" fill="#777"/>
<rect x="720.5" y="90.8" width="0.9" height="1.2" fill="#777"/>
<rect x="724.0" y="90.8" width="0.9" height="1.2" fill="#777"/>
<rect x="727.5" y="90.8" width="0.9" height="1.2" fill="#777"/>
<rect x="731.0" y="90.8" width="0.9" height="1.2" fill="#777"/>
<rect x="734.5" y="90.8" width="0.9" height="1.2" fill="#777"/>
<rect x="738.0" y="90.8" width="0.9" height="1.2" fill="#777"/>
<rect x="741.5" y="90.8" width="0.9" height="1.2" fill="#777"/>
<rect x="745.0" y="90.8" width="0.9" height="1.2" fill="#777"/>
<rect x="748.5" y="90.8" width="0.9" height="1.2" fill="#777"/>
<rect x="752.0" y="90.8" width="0.9" height="1.2" fill="#777"/>
<rect x="755.5" y="90.8" width="0.9" height="1.2" fill="#777"/>
<line x1="642.2" y1="54.0" x2="642.2" y2="113.0" stroke="#777" stroke-width="0.7" />
<line x1="669.8" y1="65.5" x2="669.8" y2="108.0" stroke="#777" stroke-width="0.7" />
<line x1="679.6" y1="46.8" x2="679.6" y2="117.4" stroke="#777" stroke-width="0.7" />
<line x1="684.8" y1="45.7" x2="684.8" y2="118.4" stroke="#777" stroke-width="0.7" />
<line x1="713.3" y1="48.8" x2="713.3" y2="117.4" stroke="#777" stroke-width="0.7" />
<line x1="718.5" y1="55.0" x2="718.5" y2="113.0" stroke="#777" stroke-width="0.7" />
<line x1="723.2" y1="58.0" x2="723.2" y2="112.0" stroke="#777" stroke-width="0.7" />
<line x1="727.4" y1="41.6" x2="727.4" y2="118.4" stroke="#777" stroke-width="0.7" />
<line x1="756.0" y1="57.0" x2="756.0" y2="113.0" stroke="#777" stroke-width="0.7" />
<text x="620.8" y="158.2" font-size="18" fill="#000" font-weight="bold">E</text>
<ellipse cx="668" cy="151.2" rx="5" ry="2.5" fill="#555" opacity="0.45" filter="url(#blur1)"/>
<line x1="641.0" y1="147.2" x2="662.0" y2="147.2" stroke="#5ae8f0" stroke-width="1.2" />
<path d="M661,143.2 L669,147.2 L661,151.2 Z" fill="#5ae8f0" stroke="none" stroke-width="1" />
<text x="674.4" y="152.7" font-size="10" fill="#222" font-style="italic" textLength="97.0" lengthAdjust="spacingAndGlyphs">473nm（5ms, 10Hz）</text>
<line x1="644.3" y1="167.0" x2="760.6" y2="167.0" stroke="#66f0f4" stroke-width="0.9" />
<rect x="644.30" y="159.00" width="20.70" height="8.40" fill="#66f0f4" stroke="none" stroke-width="1" />
<line x1="646.4" y1="159.0" x2="646.4" y2="167.4" stroke="#a8f8fa" stroke-width="0.4" />
<line x1="648.4" y1="159.0" x2="648.4" y2="167.4" stroke="#a8f8fa" stroke-width="0.4" />
<line x1="650.5" y1="159.0" x2="650.5" y2="167.4" stroke="#a8f8fa" stroke-width="0.4" />
<line x1="652.6" y1="159.0" x2="652.6" y2="167.4" stroke="#a8f8fa" stroke-width="0.4" />
<line x1="654.6" y1="159.0" x2="654.6" y2="167.4" stroke="#a8f8fa" stroke-width="0.4" />
<line x1="656.7" y1="159.0" x2="656.7" y2="167.4" stroke="#a8f8fa" stroke-width="0.4" />
<line x1="658.8" y1="159.0" x2="658.8" y2="167.4" stroke="#a8f8fa" stroke-width="0.4" />
<line x1="660.9" y1="159.0" x2="660.9" y2="167.4" stroke="#a8f8fa" stroke-width="0.4" />
<line x1="662.9" y1="159.0" x2="662.9" y2="167.4" stroke="#a8f8fa" stroke-width="0.4" />
<rect x="687.00" y="159.00" width="20.70" height="8.40" fill="#66f0f4" stroke="none" stroke-width="1" />
<line x1="689.1" y1="159.0" x2="689.1" y2="167.4" stroke="#a8f8fa" stroke-width="0.4" />
<line x1="691.1" y1="159.0" x2="691.1" y2="167.4" stroke="#a8f8fa" stroke-width="0.4" />
<line x1="693.2" y1="159.0" x2="693.2" y2="167.4" stroke="#a8f8fa" stroke-width="0.4" />
<line x1="695.3" y1="159.0" x2="695.3" y2="167.4" stroke="#a8f8fa" stroke-width="0.4" />
<line x1="697.4" y1="159.0" x2="697.4" y2="167.4" stroke="#a8f8fa" stroke-width="0.4" />
<line x1="699.4" y1="159.0" x2="699.4" y2="167.4" stroke="#a8f8fa" stroke-width="0.4" />
<line x1="701.5" y1="159.0" x2="701.5" y2="167.4" stroke="#a8f8fa" stroke-width="0.4" />
<line x1="703.6" y1="159.0" x2="703.6" y2="167.4" stroke="#a8f8fa" stroke-width="0.4" />
<line x1="705.6" y1="159.0" x2="705.6" y2="167.4" stroke="#a8f8fa" stroke-width="0.4" />
<rect x="728.90" y="159.00" width="21.40" height="8.40" fill="#66f0f4" stroke="none" stroke-width="1" />
<line x1="731.0" y1="159.0" x2="731.0" y2="167.4" stroke="#a8f8fa" stroke-width="0.4" />
<line x1="733.2" y1="159.0" x2="733.2" y2="167.4" stroke="#a8f8fa" stroke-width="0.4" />
<line x1="735.3" y1="159.0" x2="735.3" y2="167.4" stroke="#a8f8fa" stroke-width="0.4" />
<line x1="737.5" y1="159.0" x2="737.5" y2="167.4" stroke="#a8f8fa" stroke-width="0.4" />
<line x1="739.6" y1="159.0" x2="739.6" y2="167.4" stroke="#a8f8fa" stroke-width="0.4" />
<line x1="741.7" y1="159.0" x2="741.7" y2="167.4" stroke="#a8f8fa" stroke-width="0.4" />
<line x1="743.9" y1="159.0" x2="743.9" y2="167.4" stroke="#a8f8fa" stroke-width="0.4" />
<line x1="746.0" y1="159.0" x2="746.0" y2="167.4" stroke="#a8f8fa" stroke-width="0.4" />
<line x1="748.2" y1="159.0" x2="748.2" y2="167.4" stroke="#a8f8fa" stroke-width="0.4" />
<line x1="641.8" y1="178.4" x2="641.8" y2="247.6" stroke="#444" stroke-width="0.6" />
<line x1="647.0" y1="177.1" x2="647.0" y2="248.2" stroke="#666" stroke-width="0.6" />
<line x1="648.4" y1="178.5" x2="648.4" y2="246.8" stroke="#666" stroke-width="0.6" />
<line x1="650.5" y1="176.9" x2="650.5" y2="248.7" stroke="#444" stroke-width="0.6" />
<line x1="653.2" y1="178.7" x2="653.2" y2="248.3" stroke="#666" stroke-width="0.6" />
<line x1="656.8" y1="177.0" x2="656.8" y2="248.1" stroke="#666" stroke-width="0.6" />
<line x1="661.5" y1="177.5" x2="661.5" y2="249.7" stroke="#444" stroke-width="0.6" />
<line x1="666.5" y1="179.4" x2="666.5" y2="249.7" stroke="#666" stroke-width="0.6" />
<line x1="667.8" y1="178.2" x2="667.8" y2="247.5" stroke="#666" stroke-width="0.6" />
<line x1="678.6" y1="178.9" x2="678.6" y2="248.3" stroke="#444" stroke-width="0.6" />
<line x1="681.7" y1="179.2" x2="681.7" y2="248.6" stroke="#666" stroke-width="0.6" />
<line x1="683.1" y1="178.7" x2="683.1" y2="247.2" stroke="#666" stroke-width="0.6" />
<line x1="684.8" y1="178.8" x2="684.8" y2="247.9" stroke="#444" stroke-width="0.6" />
<line x1="687.9" y1="178.0" x2="687.9" y2="248.3" stroke="#666" stroke-width="0.6" />
<line x1="691.5" y1="178.0" x2="691.5" y2="247.5" stroke="#666" stroke-width="0.6" />
<line x1="693.1" y1="177.9" x2="693.1" y2="248.6" stroke="#444" stroke-width="0.6" />
<line x1="695.8" y1="179.1" x2="695.8" y2="248.5" stroke="#666" stroke-width="0.6" />
<line x1="698.3" y1="177.8" x2="698.3" y2="247.2" stroke="#666" stroke-width="0.6" />
<line x1="701.4" y1="177.9" x2="701.4" y2="247.1" stroke="#444" stroke-width="0.6" />
<line x1="702.9" y1="179.2" x2="702.9" y2="248.7" stroke="#666" stroke-width="0.6" />
<line x1="705.6" y1="178.9" x2="705.6" y2="250.4" stroke="#666" stroke-width="0.6" />
<line x1="712.2" y1="178.0" x2="712.2" y2="247.1" stroke="#444" stroke-width="0.6" />
<line x1="722.2" y1="178.5" x2="722.2" y2="248.3" stroke="#666" stroke-width="0.6" />
<line x1="723.2" y1="178.8" x2="723.2" y2="247.8" stroke="#666" stroke-width="0.6" />
<line x1="726.4" y1="178.6" x2="726.4" y2="248.8" stroke="#444" stroke-width="0.6" />
<line x1="727.8" y1="177.4" x2="727.8" y2="249.3" stroke="#666" stroke-width="0.6" />
<line x1="729.5" y1="177.7" x2="729.5" y2="248.8" stroke="#666" stroke-width="0.6" />
<line x1="731.6" y1="179.8" x2="731.6" y2="249.1" stroke="#444" stroke-width="0.6" />
<line x1="736.1" y1="178.1" x2="736.1" y2="249.0" stroke="#666" stroke-width="0.6" />
<line x1="738.2" y1="178.5" x2="738.2" y2="246.7" stroke="#666" stroke-width="0.6" />
<line x1="739.9" y1="179.5" x2="739.9" y2="249.0" stroke="#444" stroke-width="0.6" />
<line x1="746.1" y1="177.6" x2="746.1" y2="247.0" stroke="#666" stroke-width="0.6" />
<line x1="756.5" y1="178.3" x2="756.5" y2="247.8" stroke="#666" stroke-width="0.6" />
<line x1="638.7" y1="213.7" x2="758.6" y2="213.7" stroke="#111" stroke-width="1.6" />
<text x="2.9" y="298.6" font-size="18" fill="#000" font-weight="bold">F</text>
<line x1="61.4" y1="292.3" x2="78.6" y2="292.3" stroke="#f27a7a" stroke-width="1.5" />
<circle cx="70.0" cy="292.3" r="3.6" fill="#f27a7a" stroke="none" stroke-width="1" />
<text x="87.0" y="296.8" font-size="12.4" fill="#111" textLength="31.6" lengthAdjust="spacingAndGlyphs">ChR2</text>
<line x1="61.4" y1="307.0" x2="78.6" y2="307.0" stroke="#000" stroke-width="1.5" />
<circle cx="70.0" cy="307.0" r="3.3" fill="#fff" stroke="#000" stroke-width="1.5" />
<text x="87.0" y="311.3" font-size="12" fill="#111" textLength="45.9" lengthAdjust="spacingAndGlyphs">mCherry</text>
<rect x="104.30" y="323.40" width="23.30" height="127.20" fill="#76f6f8" stroke="none" stroke-width="1" />
<line x1="51.1" y1="322.5" x2="51.1" y2="450.9" stroke="#000" stroke-width="1.5" />
<line x1="46.6" y1="450.2" x2="51.1" y2="450.2" stroke="#000" stroke-width="1.2" />
<line x1="48.3" y1="441.7" x2="51.1" y2="441.7" stroke="#000" stroke-width="1.2" />
<line x1="48.3" y1="433.3" x2="51.1" y2="433.3" stroke="#000" stroke-width="1.2" />
<line x1="48.3" y1="424.8" x2="51.1" y2="424.8" stroke="#000" stroke-width="1.2" />
<line x1="48.3" y1="416.3" x2="51.1" y2="416.3" stroke="#000" stroke-width="1.2" />
<line x1="46.6" y1="407.9" x2="51.1" y2="407.9" stroke="#000" stroke-width="1.2" />
<line x1="48.3" y1="399.4" x2="51.1" y2="399.4" stroke="#000" stroke-width="1.2" />
<line x1="48.3" y1="390.9" x2="51.1" y2="390.9" stroke="#000" stroke-width="1.2" />
<line x1="48.3" y1="382.5" x2="51.1" y2="382.5" stroke="#000" stroke-width="1.2" />
<line x1="48.3" y1="374.0" x2="51.1" y2="374.0" stroke="#000" stroke-width="1.2" />
<line x1="46.6" y1="365.5" x2="51.1" y2="365.5" stroke="#000" stroke-width="1.2" />
<line x1="48.3" y1="357.1" x2="51.1" y2="357.1" stroke="#000" stroke-width="1.2" />
<line x1="48.3" y1="348.6" x2="51.1" y2="348.6" stroke="#000" stroke-width="1.2" />
<line x1="48.3" y1="340.1" x2="51.1" y2="340.1" stroke="#000" stroke-width="1.2" />
<line x1="48.3" y1="331.7" x2="51.1" y2="331.7" stroke="#000" stroke-width="1.2" />
<line x1="46.6" y1="323.2" x2="51.1" y2="323.2" stroke="#000" stroke-width="1.2" />
<text x="44.1" y="454.5" font-size="12" fill="#111" text-anchor="end">20</text>
<text x="44.1" y="412.2" font-size="12" fill="#111" text-anchor="end">40</text>
<text x="44.1" y="369.9" font-size="12" fill="#111" text-anchor="end">60</text>
<text x="44.1" y="327.5" font-size="12" fill="#111" text-anchor="end">80</text>
<line x1="47.5" y1="450.2" x2="178.7" y2="450.2" stroke="#000" stroke-width="1.5" />
<line x1="72.8" y1="450.2" x2="72.8" y2="453.2" stroke="#000" stroke-width="1.2" />
<text x="72.8" y="466.4" font-size="11.5" fill="#111" text-anchor="middle">0</text>
<line x1="116.1" y1="450.2" x2="116.1" y2="453.2" stroke="#000" stroke-width="1.2" />
<text x="116.1" y="466.4" font-size="11.5" fill="#111" text-anchor="middle">10</text>
<line x1="159.6" y1="450.2" x2="159.6" y2="453.2" stroke="#000" stroke-width="1.2" />
<text x="159.6" y="466.4" font-size="11.5" fill="#111" text-anchor="middle">30</text>
<text x="59.9" y="334.1" font-size="11.5" fill="#111" textLength="22.8" lengthAdjust="spacingAndGlyphs">OFF</text>
<text x="106.3" y="334.1" font-size="11.5" fill="#111" textLength="18.6" lengthAdjust="spacingAndGlyphs">ON</text>
<text x="143.4" y="334.1" font-size="11.5" fill="#111" textLength="23.7" lengthAdjust="spacingAndGlyphs">OFF</text>
<text x="112.1" y="355.5" font-size="16" fill="#111" text-anchor="middle" font-weight="bold">*</text>
<text x="120.2" y="355.5" font-size="16" fill="#111" text-anchor="middle" font-weight="bold">*</text>
<path d="M72.8,387.5 L116.1,397.9 L159.6,408.4" fill="none" stroke="#000" stroke-width="1.4" />
<circle cx="72.8" cy="387.5" r="3.1" fill="#fff" stroke="#000" stroke-width="1.4" />
<circle cx="116.1" cy="397.9" r="3.1" fill="#fff" stroke="#000" stroke-width="1.4" />
<circle cx="159.6" cy="408.4" r="3.1" fill="#fff" stroke="#000" stroke-width="1.4" />
<line x1="72.8" y1="380.7" x2="72.8" y2="394.9" stroke="#f27a7a" stroke-width="1.5" />
<line x1="69.7" y1="380.7" x2="75.9" y2="380.7" stroke="#f27a7a" stroke-width="1.5" />
<line x1="69.7" y1="394.9" x2="75.9" y2="394.9" stroke="#f27a7a" stroke-width="1.5" />
<line x1="116.1" y1="354.3" x2="116.1" y2="369.4" stroke="#f27a7a" stroke-width="1.5" />
<line x1="113.0" y1="354.3" x2="119.2" y2="354.3" stroke="#f27a7a" stroke-width="1.5" />
<line x1="113.0" y1="369.4" x2="119.2" y2="369.4" stroke="#f27a7a" stroke-width="1.5" />
<path d="M72.8,387.7 L116.1,361.4 L159.6,405.0" fill="none" stroke="#f27a7a" stroke-width="1.4" />
<circle cx="72.8" cy="387.7" r="3.9" fill="#f27a7a" stroke="none" stroke-width="1" />
<circle cx="116.1" cy="361.4" r="3.9" fill="#f27a7a" stroke="none" stroke-width="1" />
<circle cx="159.6" cy="405.0" r="3.9" fill="#f27a7a" stroke="none" stroke-width="1" />
<text x="61.0" y="445.6" font-size="8.8" fill="#222" font-style="italic" textLength="47.2" lengthAdjust="spacingAndGlyphs">Vgat1-Retro</text>
<text x="124.3" y="482.7" font-size="12" fill="#111" text-anchor="middle" textLength="57.2" lengthAdjust="spacingAndGlyphs">Time (min)</text>
<text x="22.5" y="387.0" font-size="12" fill="#111" text-anchor="middle" textLength="120.0" lengthAdjust="spacingAndGlyphs" transform="rotate(-90 22.5 387)">Pain threshold (mmHg)</text>
<text x="225.0" y="302.2" font-size="18" fill="#000" font-weight="bold">G</text>
<line x1="286.4" y1="301.4" x2="304.0" y2="301.4" stroke="#f27a7a" stroke-width="1.5" />
<circle cx="295.2" cy="301.4" r="3.6" fill="#f27a7a" stroke="none" stroke-width="1" />
<text x="312.3" y="305.6" font-size="11.7" fill="#111" textLength="30.0" lengthAdjust="spacingAndGlyphs">ChR2</text>
<line x1="286.4" y1="315.0" x2="304.0" y2="315.0" stroke="#000" stroke-width="1.5" />
<circle cx="295.2" cy="315.0" r="3.6" fill="#000" stroke="none" stroke-width="1" />
<text x="312.3" y="319.1" font-size="11.4" fill="#111" textLength="43.6" lengthAdjust="spacingAndGlyphs">mCherry</text>
<line x1="273.3" y1="325.3" x2="273.3" y2="449.9" stroke="#000" stroke-width="1.5" />
<line x1="268.8" y1="449.2" x2="273.3" y2="449.2" stroke="#000" stroke-width="1.2" />
<line x1="270.5" y1="436.9" x2="273.3" y2="436.9" stroke="#000" stroke-width="1.2" />
<line x1="268.8" y1="424.6" x2="273.3" y2="424.6" stroke="#000" stroke-width="1.2" />
<line x1="270.5" y1="412.2" x2="273.3" y2="412.2" stroke="#000" stroke-width="1.2" />
<line x1="268.8" y1="399.9" x2="273.3" y2="399.9" stroke="#000" stroke-width="1.2" />
<line x1="270.5" y1="387.6" x2="273.3" y2="387.6" stroke="#000" stroke-width="1.2" />
<line x1="268.8" y1="375.3" x2="273.3" y2="375.3" stroke="#000" stroke-width="1.2" />
<line x1="270.5" y1="363.0" x2="273.3" y2="363.0" stroke="#000" stroke-width="1.2" />
<line x1="268.8" y1="350.6" x2="273.3" y2="350.6" stroke="#000" stroke-width="1.2" />
<line x1="270.5" y1="338.3" x2="273.3" y2="338.3" stroke="#000" stroke-width="1.2" />
<line x1="268.8" y1="326.0" x2="273.3" y2="326.0" stroke="#000" stroke-width="1.2" />
<text x="266.3" y="453.0" font-size="10.6" fill="#111" text-anchor="end">0</text>
<text x="266.3" y="428.4" font-size="10.6" fill="#111" text-anchor="end">1</text>
<text x="266.3" y="403.7" font-size="10.6" fill="#111" text-anchor="end">2</text>
<text x="266.3" y="379.1" font-size="10.6" fill="#111" text-anchor="end">3</text>
<text x="266.3" y="354.5" font-size="10.6" fill="#111" text-anchor="end">4</text>
<text x="266.3" y="329.8" font-size="10.6" fill="#111" text-anchor="end">5</text>
<line x1="269.1" y1="449.2" x2="397.1" y2="449.2" stroke="#000" stroke-width="1.5" />
<line x1="289.9" y1="449.2" x2="289.9" y2="452.2" stroke="#000" stroke-width="1.2" />
<text x="289.9" y="467.4" font-size="11.6" fill="#111" text-anchor="middle">20</text>
<line x1="322.3" y1="449.2" x2="322.3" y2="452.2" stroke="#000" stroke-width="1.2" />
<text x="322.3" y="467.4" font-size="11.6" fill="#111" text-anchor="middle">40</text>
<line x1="354.9" y1="449.2" x2="354.9" y2="452.2" stroke="#000" stroke-width="1.2" />
<text x="354.9" y="467.4" font-size="11.6" fill="#111" text-anchor="middle">60</text>
<line x1="387.6" y1="449.2" x2="387.6" y2="452.2" stroke="#000" stroke-width="1.2" />
<text x="387.6" y="467.4" font-size="11.6" fill="#111" text-anchor="middle">80</text>
<text x="381.7" y="479.0" font-size="11.6" fill="#111" text-anchor="middle" textLength="41.9" lengthAdjust="spacingAndGlyphs">(mmHg)</text>
<line x1="289.9" y1="412.5" x2="289.9" y2="420.7" stroke="#f27a7a" stroke-width="1.5" />
<line x1="286.5" y1="412.5" x2="293.3" y2="412.5" stroke="#f27a7a" stroke-width="1.5" />
<line x1="286.5" y1="420.7" x2="293.3" y2="420.7" stroke="#f27a7a" stroke-width="1.5" />
<line x1="322.3" y1="397.6" x2="322.3" y2="405.6" stroke="#f27a7a" stroke-width="1.5" />
<line x1="318.9" y1="397.6" x2="325.7" y2="397.6" stroke="#f27a7a" stroke-width="1.5" />
<line x1="318.9" y1="405.6" x2="325.7" y2="405.6" stroke="#f27a7a" stroke-width="1.5" />
<line x1="354.9" y1="372.5" x2="354.9" y2="381.5" stroke="#f27a7a" stroke-width="1.5" />
<line x1="351.5" y1="372.5" x2="358.3" y2="372.5" stroke="#f27a7a" stroke-width="1.5" />
<line x1="351.5" y1="381.5" x2="358.3" y2="381.5" stroke="#f27a7a" stroke-width="1.5" />
<path d="M289.9,416.6 L322.3,401.6 L354.9,377.0 L387.6,354.5" fill="none" stroke="#f27a7a" stroke-width="1.4" />
<circle cx="289.9" cy="416.6" r="3.4" fill="#f27a7a" stroke="none" stroke-width="1" />
<circle cx="322.3" cy="401.6" r="3.4" fill="#f27a7a" stroke="none" stroke-width="1" />
<circle cx="354.9" cy="377.0" r="3.4" fill="#f27a7a" stroke="none" stroke-width="1" />
<circle cx="387.6" cy="354.5" r="3.4" fill="#f27a7a" stroke="none" stroke-width="1" />
<line x1="322.3" y1="385.0" x2="322.3" y2="394.0" stroke="#000" stroke-width="1.5" />
<line x1="318.9" y1="385.0" x2="325.7" y2="385.0" stroke="#000" stroke-width="1.5" />
<line x1="318.9" y1="394.0" x2="325.7" y2="394.0" stroke="#000" stroke-width="1.5" />
<path d="M289.9,409.5 L322.3,389.4 L354.9,358.6 L387.6,350.4" fill="none" stroke="#000" stroke-width="1.4" />
<circle cx="289.9" cy="409.5" r="3.4" fill="#000" stroke="none" stroke-width="1" />
<circle cx="322.3" cy="389.4" r="3.4" fill="#000" stroke="none" stroke-width="1" />
<circle cx="354.9" cy="358.6" r="3.4" fill="#000" stroke="none" stroke-width="1" />
<circle cx="387.6" cy="350.4" r="3.4" fill="#000" stroke="none" stroke-width="1" />
<text x="351.2" y="357.6" font-size="16" fill="#111" text-anchor="middle" font-weight="bold">*</text>
<text x="359.3" y="357.6" font-size="16" fill="#111" text-anchor="middle" font-weight="bold">*</text>
<text x="351.8" y="442.6" font-size="8.4" fill="#222" font-style="italic" textLength="45.3" lengthAdjust="spacingAndGlyphs">Vgat1-Retro</text>
<text x="254.6" y="388.6" font-size="11.8" fill="#111" text-anchor="middle" textLength="65.5" lengthAdjust="spacingAndGlyphs" transform="rotate(-90 254.6 388.6)">AWR scores</text>
<text x="420.3" y="303.7" font-size="18" fill="#000" font-weight="bold">H</text>
<text x="426.6" y="327.1" font-size="15" fill="#111" textLength="149.1" lengthAdjust="spacingAndGlyphs">Susceptible+60mmHg</text>
<rect x="446.90" y="361.30" width="58.80" height="26.50" fill="#76f6f8" stroke="none" stroke-width="1" />
<text x="449.1" y="380.1" font-size="15" fill="#111" textLength="124.8" lengthAdjust="spacingAndGlyphs">Light-on+60mmHg</text>
<text x="447.4" y="438.7" font-size="15" fill="#111" textLength="126.2" lengthAdjust="spacingAndGlyphs">Light-off+60mmHg</text>
<text x="708.6" y="422.1" font-size="14.7" fill="#111" textLength="33.2" lengthAdjust="spacingAndGlyphs">EMG</text>
<path d="M587.0,321.3 L587.1,323.7 L587.2,320.1 L587.3,322.4 L587.4,321.2 L587.5,324.7 L587.6,321.5 L587.7,322.7 L587.8,319.3 L587.9,323.9 L588.0,320.7 L588.1,323.7 L588.2,320.0 L588.3,323.1 L588.4,321.3 L588.5,324.4 L588.6,319.9 L588.7,323.7 L588.8,319.5 L588.9,323.8 L589.0,319.1 L589.1,322.9 L589.2,320.1 L589.3,323.7 L589.4,320.6 L589.5,324.0 L589.6,321.0 L589.7,324.6 L589.8,319.3 L589.9,322.8 L590.0,320.3 L590.1,323.2 L590.2,321.4 L590.3,324.9 L590.4,320.4 L590.5,322.8 L590.6,319.7 L590.7,323.0 L590.8,316.4 L590.9,323.1 L591.0,321.5 L591.1,323.0 L591.2,320.6 L591.3,323.7 L591.4,319.1 L591.5,324.3 L591.6,320.7 L591.7,322.4 L591.8,321.2 L591.9,325.0 L592.0,320.4 L592.1,324.2 L592.2,321.5 L592.3,322.5 L592.4,319.5 L592.5,323.9 L592.6,320.8 L592.7,323.2 L592.8,321.4 L592.9,322.8 L593.0,321.6 L593.1,324.4 L593.2,320.5 L593.3,322.7 L593.4,319.9 L593.5,322.8 L593.6,321.5 L593.7,323.7 L593.8,319.7 L593.9,322.4 L594.0,319.9 L594.1,322.8 L594.2,321.5 L594.3,322.7 L594.4,321.0 L594.5,324.0 L594.6,320.5 L594.7,324.3 L594.8,321.1 L594.9,323.1 L595.0,321.0 L595.1,324.7 L595.2,319.3 L595.3,323.2 L595.4,320.5 L595.5,323.2 L595.6,319.7 L595.7,322.5 L595.8,321.4 L595.9,324.8 L596.0,320.0 L596.1,324.6 L596.2,319.6 L596.3,323.9 L596.4,319.8 L596.5,324.3 L596.6,319.4 L596.7,325.0 L596.8,321.2 L596.9,324.2 L597.0,321.2 L597.1,323.7 L597.2,319.4 L597.3,324.9 L597.4,319.5 L597.5,322.5 L597.6,319.4 L597.7,322.8 L597.8,319.0 L597.9,322.8 L598.0,321.0 L598.1,323.3 L598.2,321.5 L598.3,324.6 L598.4,320.0 L598.5,322.8 L598.6,320.4 L598.7,322.5 L598.8,320.2 L598.9,322.9 L599.0,321.6 L599.1,323.2 L599.2,320.4 L599.3,323.8 L599.4,320.9 L599.5,323.8 L599.6,319.9 L599.7,322.6 L599.8,321.0 L599.9,323.2 L600.0,319.8 L600.1,322.6 L600.2,321.5 L600.3,323.5 L600.4,319.7 L600.5,326.2 L600.6,320.2 L600.7,322.5 L600.8,320.0 L600.9,323.8 L601.0,321.4 L601.1,323.3 L601.2,321.6 L601.3,324.1 L601.4,320.1 L601.5,324.1 L601.6,320.0 L601.7,322.9 L601.8,319.9 L601.9,323.7 L602.0,321.4 L602.1,323.2 L602.2,320.6 L602.3,323.0 L602.4,320.3 L602.5,323.7 L602.6,320.3 L602.7,323.7 L602.8,320.9 L602.9,324.0 L603.0,321.0 L603.1,324.1 L603.2,320.7 L603.3,323.6 L603.4,320.1 L603.5,323.5 L603.6,321.0 L603.7,324.6 L603.8,321.4 L603.9,323.1 L604.0,320.3 L604.1,322.4 L604.2,321.3 L604.3,324.3 L604.4,319.8 L604.5,323.9 L604.6,319.5 L604.7,324.2 L604.8,320.9 L604.9,324.0 L605.0,320.8 L605.1,324.2 L605.2,320.7 L605.3,322.8 L605.4,319.4 L605.5,324.1 L605.6,319.7 L605.7,323.8 L605.8,319.6 L605.9,323.6 L606.0,320.1 L606.1,322.5 L606.2,320.2 L606.3,324.4 L606.4,319.8 L606.5,324.4 L606.6,320.4 L606.7,324.6 L606.8,321.4 L606.9,324.5 L607.0,319.5 L607.1,322.6 L607.2,320.1 L607.3,323.5 L607.4,320.6 L607.5,324.4 L607.6,321.3 L607.7,323.8 L607.8,320.7 L607.9,323.6 L608.0,320.5 L608.1,322.7 L608.2,320.5 L608.3,324.3 L608.4,321.3 L608.5,322.3 L608.6,321.5 L608.7,323.4 L608.8,319.5 L608.9,322.4 L609.0,319.5 L609.1,323.5 L609.2,321.4 L609.3,323.3 L609.4,321.2 L609.5,323.9 L609.6,320.5 L609.7,322.9 L609.8,321.1 L609.9,324.1 L610.0,320.1 L610.1,323.2 L610.2,320.8 L610.3,323.8 L610.4,319.7 L610.5,322.5 L610.6,321.4 L610.7,323.0 L610.8,320.7 L610.9,313.4 L611.0,331.6 L611.1,322.8 L611.2,320.7 L611.3,324.2 L611.4,320.1 L611.5,322.4 L611.6,321.5 L611.7,323.7 L611.8,319.1 L611.9,325.1 L612.0,320.4 L612.1,325.3 L612.2,315.3 L612.3,323.9 L612.4,318.8 L612.5,323.9 L612.6,320.8 L612.7,324.9 L612.8,321.0 L612.9,325.4 L613.0,317.9 L613.1,326.7 L613.2,313.5 L613.3,328.0 L613.4,332.8 L613.5,326.9 L613.6,316.5 L613.7,325.8 L613.8,317.8 L613.9,324.7 L614.0,308.0 L614.1,336.0 L614.2,317.4 L614.3,324.6 L614.4,317.5 L614.5,325.5 L614.6,318.7 L614.7,316.0 L614.8,328.0 L614.9,325.4 L615.0,320.3 L615.1,327.6 L615.2,318.7 L615.3,324.5 L615.4,320.4 L615.5,325.7 L615.6,319.3 L615.7,323.3 L615.8,321.2 L615.9,316.0 L616.0,314.1 L616.1,329.4 L616.2,317.8 L616.3,326.1 L616.4,314.2 L616.5,325.5 L616.6,319.8 L616.7,324.3 L616.8,320.2 L616.9,323.7 L617.0,321.4 L617.1,324.7 L617.2,320.9 L617.3,322.5 L617.4,320.3 L617.5,324.4 L617.6,320.3 L617.7,323.5 L617.8,319.7 L617.9,323.7 L618.0,321.6 L618.1,324.1 L618.2,320.1 L618.3,324.8 L618.4,320.4 L618.5,324.5 L618.6,321.6 L618.7,322.5 L618.8,320.0 L618.9,323.0 L619.0,321.4 L619.1,322.7 L619.2,320.7 L619.3,323.2 L619.4,320.2 L619.5,324.5 L619.6,320.7 L619.7,322.8 L619.8,320.2 L619.9,322.3 L620.0,320.7 L620.1,324.3 L620.2,320.6 L620.3,322.5 L620.4,320.1 L620.5,324.3 L620.6,319.5 L620.7,328.4 L620.8,320.5 L620.9,324.6 L621.0,320.2 L621.1,323.3 L621.2,318.6 L621.3,325.3 L621.4,318.2 L621.5,325.8 L621.6,318.0 L621.7,323.2 L621.8,321.4 L621.9,323.6 L622.0,319.6 L622.1,326.0 L622.2,319.3 L622.3,325.4 L622.4,317.6 L622.5,323.2 L622.6,317.8 L622.7,323.1 L622.8,319.8 L622.9,327.2 L623.0,317.3 L623.1,325.5 L623.2,319.3 L623.3,328.4 L623.4,319.3 L623.5,323.2 L623.6,317.0 L623.7,323.2 L623.8,315.4 L623.9,324.1 L624.0,314.0 L624.1,324.9 L624.2,318.6 L624.3,328.0 L624.4,318.5 L624.5,326.5 L624.6,320.0 L624.7,326.7 L624.8,319.4 L624.9,325.3 L625.0,313.3 L625.1,326.0 L625.2,318.4 L625.3,329.7 L625.4,313.1 L625.5,326.3 L625.6,317.3 L625.7,309.0 L625.8,336.0 L625.9,329.5 L626.0,318.9 L626.1,325.3 L626.2,313.5 L626.3,330.7 L626.4,312.2 L626.5,309.0 L626.6,336.0 L626.7,308.2 L626.8,336.0 L626.9,330.8 L627.0,314.9 L627.1,330.8 L627.2,316.6 L627.3,327.4 L627.4,314.6 L627.5,329.1 L627.6,313.1 L627.7,334.1 L627.8,311.5 L627.9,333.8 L628.0,297.5 L628.1,355.0 L628.2,316.0 L628.3,333.2 L628.4,319.3 L628.5,335.7 L628.6,309.0 L628.7,336.4 L628.8,310.6 L628.9,329.0 L629.0,305.6 L629.1,331.5 L629.2,318.6 L629.3,333.9 L629.4,314.0 L629.5,335.4 L629.6,318.2 L629.7,307.7 L629.8,339.0 L629.9,331.6 L630.0,313.5 L630.1,302.0 L630.2,341.4 L630.3,329.6 L630.4,316.4 L630.5,344.0 L630.6,315.7 L630.7,328.8 L630.8,317.9 L630.9,326.3 L631.0,311.6 L631.1,326.7 L631.2,312.7 L631.3,329.3 L631.4,312.1 L631.5,324.9 L631.6,312.8 L631.7,330.2 L631.8,316.1 L631.9,329.3 L632.0,315.2 L632.1,326.9 L632.2,316.2 L632.3,325.0 L632.4,320.9 L632.5,328.1 L632.6,317.8 L632.7,329.3 L632.8,319.3 L632.9,328.4 L633.0,315.3 L633.1,328.5 L633.2,315.8 L633.3,323.8 L633.4,320.3 L633.5,324.1 L633.6,319.4 L633.7,323.4 L633.8,320.6 L633.9,323.5 L634.0,317.3 L634.1,324.3 L634.2,318.9 L634.3,324.6 L634.4,318.7 L634.5,325.7 L634.6,320.1 L634.7,324.5 L634.8,321.2 L634.9,324.8 L635.0,320.9 L635.1,323.4 L635.2,320.7 L635.3,324.1 L635.4,320.8 L635.5,323.3 L635.6,319.7 L635.7,322.4 L635.8,321.7 L635.9,322.4 L636.0,320.0 L636.1,323.6 L636.2,320.2 L636.3,324.3 L636.4,321.2 L636.5,324.3 L636.6,321.1 L636.7,323.5 L636.8,320.2 L636.9,324.1 L637.0,321.1 L637.1,323.5 L637.2,321.6 L637.3,323.0 L637.4,319.3 L637.5,324.5 L637.6,320.2 L637.7,324.3 L637.8,319.4 L637.9,323.2 L638.0,319.1 L638.1,323.6 L638.2,321.2 L638.3,323.8 L638.4,320.0 L638.5,324.3 L638.6,319.7 L638.7,322.5 L638.8,319.8 L638.9,325.0 L639.0,319.7 L639.1,325.1 L639.2,320.1 L639.3,324.6 L639.4,321.2 L639.5,324.8 L639.6,320.4 L639.7,324.6 L639.8,320.8 L639.9,324.0 L640.0,319.5 L640.1,324.1 L640.2,320.1 L640.3,324.6 L640.4,321.5 L640.5,322.6 L640.6,320.4 L640.7,324.4 L640.8,320.2 L640.9,323.0 L641.0,321.5 L641.1,323.2 L641.2,320.7 L641.3,323.2 L641.4,320.5 L641.5,322.8 L641.6,320.1 L641.7,322.8 L641.8,321.5 L641.9,322.9 L642.0,320.2 L642.1,322.5 L642.2,321.2 L642.3,323.9 L642.4,321.1 L642.5,323.9 L642.6,321.6 L642.7,324.0 L642.8,321.2 L642.9,322.7 L643.0,320.2 L643.1,324.4 L643.2,317.5 L643.3,324.0 L643.4,319.7 L643.5,324.5 L643.6,320.4 L643.7,322.7 L643.8,319.5 L643.9,323.5 L644.0,320.7 L644.1,324.0 L644.2,321.4 L644.3,322.6 L644.4,320.4 L644.5,325.0 L644.6,314.7 L644.7,309.0 L644.8,335.0 L644.9,327.6 L645.0,317.7 L645.1,327.0 L645.2,317.6 L645.3,323.4 L645.4,320.7 L645.5,328.1 L645.6,319.5 L645.7,328.8 L645.8,313.1 L645.9,323.1 L646.0,316.2 L646.1,327.0 L646.2,320.1 L646.3,325.7 L646.4,317.8 L646.5,326.7 L646.6,309.0 L646.7,339.4 L646.8,315.9 L646.9,329.9 L647.0,309.0 L647.1,335.0 L647.2,319.5 L647.3,309.0 L647.4,335.0 L647.5,325.7 L647.6,319.3 L647.7,326.4 L647.8,317.3 L647.9,330.0 L648.0,311.8 L648.1,328.6 L648.2,317.9 L648.3,325.1 L648.4,316.8 L648.5,326.0 L648.6,314.1 L648.7,334.4 L648.8,311.5 L648.9,326.3 L649.0,303.0 L649.1,348.0 L649.2,309.0 L649.3,302.2 L649.4,337.0 L649.5,324.5 L649.6,317.6 L649.7,330.7 L649.8,314.7 L649.9,328.7 L650.0,311.9 L650.1,324.5 L650.2,318.8 L650.3,328.4 L650.4,315.8 L650.5,331.3 L650.6,313.1 L650.7,327.7 L650.8,315.2 L650.9,328.1 L651.0,320.0 L651.1,309.0 L651.2,337.5 L651.3,325.3 L651.4,320.1 L651.5,322.9 L651.6,316.2 L651.7,326.9 L651.8,317.1 L651.9,324.3 L652.0,319.1 L652.1,323.6 L652.2,318.4 L652.3,327.0 L652.4,317.1 L652.5,327.9 L652.6,319.6 L652.7,327.0 L652.8,320.3 L652.9,326.3 L653.0,320.3 L653.1,330.8 L653.2,317.2 L653.3,325.5 L653.4,318.4 L653.5,328.3 L653.6,317.2 L653.7,326.3 L653.8,320.0 L653.9,325.5 L654.0,314.0 L654.1,331.2 L654.2,317.5 L654.3,330.9 L654.4,312.8 L654.5,300.0 L654.6,339.9 L654.7,330.2 L654.8,317.5 L654.9,333.0 L655.0,290.5 L655.1,345.0 L655.2,313.1 L655.3,329.3 L655.4,311.3 L655.5,327.2 L655.6,319.2 L655.7,324.1 L655.8,315.5 L655.9,330.4 L656.0,317.4 L656.1,332.5 L656.2,317.5 L656.3,332.4 L656.4,320.2 L656.5,300.4 L656.6,339.3 L656.7,328.0 L656.8,317.0 L656.9,327.3 L657.0,312.6 L657.1,328.7 L657.2,308.0 L657.3,336.0 L657.4,314.2 L657.5,327.1 L657.6,315.3 L657.7,329.6 L657.8,316.7 L657.9,305.0 L658.0,337.7 L658.1,328.3 L658.2,316.8 L658.3,327.1 L658.4,320.1 L658.5,324.8 L658.6,317.4 L658.7,325.2 L658.8,304.4 L658.9,336.0 L659.0,320.5 L659.1,324.4 L659.2,321.0 L659.3,325.9 L659.4,317.9 L659.5,322.9 L659.6,319.7 L659.7,327.0 L659.8,320.1 L659.9,326.0 L660.0,316.6 L660.1,326.5 L660.2,320.4 L660.3,328.8 L660.4,316.4 L660.5,326.9 L660.6,318.8 L660.7,327.2 L660.8,318.3 L660.9,324.0 L661.0,320.1 L661.1,323.4 L661.2,319.6 L661.3,325.2 L661.4,316.0 L661.5,328.0 L661.6,316.1 L661.7,330.2 L661.8,320.0 L661.9,304.0 L662.0,341.0 L662.1,327.1 L662.2,320.1 L662.3,323.9 L662.4,319.8 L662.5,327.1 L662.6,313.8 L662.7,326.2 L662.8,313.9 L662.9,325.8 L663.0,317.9 L663.1,328.3 L663.2,319.8 L663.3,299.4 L663.4,344.5 L663.5,332.6 L663.6,319.9 L663.7,332.8 L663.8,314.0 L663.9,330.7 L664.0,319.8 L664.1,334.6 L664.2,316.9 L664.3,330.9 L664.4,313.5 L664.5,335.8 L664.6,312.5 L664.7,337.3 L664.8,317.0 L664.9,333.3 L665.0,312.3 L665.1,331.5 L665.2,311.4 L665.3,332.3 L665.4,315.1 L665.5,333.8 L665.6,318.7 L665.7,331.6 L665.8,304.0 L665.9,341.0 L666.0,311.4 L666.1,334.7 L666.2,318.0 L666.3,328.9 L666.4,319.0 L666.5,287.0 L666.6,356.0 L666.7,304.0 L666.8,341.0 L666.9,330.9 L667.0,319.6 L667.1,337.7 L667.2,316.8 L667.3,332.8 L667.4,317.0 L667.5,332.3 L667.6,315.4 L667.7,328.4 L667.8,314.1 L667.9,331.7 L668.0,312.8 L668.1,332.6 L668.2,317.0 L668.3,324.9 L668.4,313.1 L668.5,327.7 L668.6,304.0 L668.7,342.5 L668.8,317.0 L668.9,324.7 L669.0,314.3 L669.1,324.8 L669.2,315.2 L669.3,330.9 L669.4,314.3 L669.5,325.3 L669.6,317.0 L669.7,333.1 L669.8,319.7 L669.9,330.4 L670.0,299.8 L670.1,341.0 L670.2,316.9 L670.3,324.7 L670.4,315.5 L670.5,323.4 L670.6,313.1 L670.7,330.7 L670.8,317.4 L670.9,328.2 L671.0,316.3 L671.1,331.7 L671.2,320.5 L671.3,325.8 L671.4,317.6 L671.5,329.6 L671.6,315.4 L671.7,326.5 L671.8,320.9 L671.9,328.0 L672.0,318.1 L672.1,325.6 L672.2,316.8 L672.3,326.1 L672.4,319.1 L672.5,324.7 L672.6,318.0 L672.7,324.4 L672.8,318.9 L672.9,328.2 L673.0,315.6 L673.1,324.2 L673.2,318.6 L673.3,327.4 L673.4,317.3 L673.5,326.0 L673.6,317.4 L673.7,326.0 L673.8,318.6 L673.9,324.4 L674.0,320.8 L674.1,325.4 L674.2,319.2 L674.3,326.0 L674.4,320.4 L674.5,325.4 L674.6,320.9 L674.7,325.4 L674.8,318.8 L674.9,322.6 L675.0,319.6 L675.1,325.0 L675.2,316.6 L675.3,324.1 L675.4,320.6 L675.5,322.4 L675.6,320.9 L675.7,324.9 L675.8,319.5 L675.9,323.6 L676.0,319.6 L676.1,324.8 L676.2,320.8 L676.3,324.8 L676.4,320.8 L676.5,323.4 L676.6,321.5 L676.7,322.9 L676.8,318.2 L676.9,322.5 L677.0,320.0 L677.1,322.9 L677.2,317.0 L677.3,322.8 L677.4,320.9 L677.5,323.3 L677.6,319.8 L677.7,324.9 L677.8,316.8 L677.9,324.7 L678.0,319.4 L678.1,324.1 L678.2,320.5 L678.3,323.0 L678.4,319.0 L678.5,323.7 L678.6,319.6 L678.7,322.6 L678.8,320.5 L678.9,322.7 L679.0,320.5 L679.1,324.5 L679.2,320.6 L679.3,324.3 L679.4,321.2 L679.5,323.5 L679.6,320.5 L679.7,323.8 L679.8,321.0 L679.9,324.2 L680.0,319.3 L680.1,324.5 L680.2,321.6 L680.3,323.6 L680.4,320.7 L680.5,323.8 L680.6,321.4 L680.7,324.2 L680.8,320.6 L680.9,324.6 L681.0,321.6 L681.1,323.4 L681.2,319.1 L681.3,324.3 L681.4,319.9 L681.5,322.8 L681.6,320.9 L681.7,324.0 L681.8,320.7 L681.9,323.0 L682.0,319.6 L682.1,324.2 L682.2,320.8 L682.3,323.6 L682.4,319.6 L682.5,322.8 L682.6,319.7 L682.7,324.3 L682.8,320.1 L682.9,323.8 L683.0,320.2 L683.1,323.5 L683.2,320.4 L683.3,322.8 L683.4,320.5 L683.5,323.8 L683.6,320.6 L683.7,323.8 L683.8,320.7 L683.9,324.0 L684.0,320.2 L684.1,322.5 L684.2,320.0 L684.3,323.0 L684.4,321.5 L684.5,322.6 L684.6,320.9 L684.7,323.6 L684.8,320.8 L684.9,322.9 L685.0,319.7 L685.1,323.3 L685.2,319.4 L685.3,323.0 L685.4,319.8 L685.5,323.4 L685.6,319.3 L685.7,324.2 L685.8,319.7 L685.9,322.7 L686.0,319.4 L686.1,323.5 L686.2,319.3 L686.3,325.0 L686.4,321.2 L686.5,322.5 L686.6,319.1 L686.7,325.5 L686.8,318.6 L686.9,323.9 L687.0,318.8 L687.1,322.5 L687.2,321.3 L687.3,324.4 L687.4,319.8 L687.5,328.0 L687.6,320.7 L687.7,324.0 L687.8,318.4 L687.9,323.5 L688.0,318.6 L688.1,324.4 L688.2,318.4 L688.3,323.1 L688.4,319.4 L688.5,323.8 L688.6,320.3 L688.7,323.3 L688.8,320.1 L688.9,324.2 L689.0,320.3 L689.1,324.0 L689.2,319.6 L689.3,325.0 L689.4,319.9 L689.5,323.6 L689.6,318.8 L689.7,323.0 L689.8,321.4 L689.9,325.1 L690.0,319.7 L690.1,322.9 L690.2,320.5 L690.3,324.7 L690.4,320.6 L690.5,324.8 L690.6,320.8 L690.7,322.8 L690.8,321.0 L690.9,324.9 L691.0,320.4 L691.1,323.4 L691.2,319.6 L691.3,324.8 L691.4,320.3 L691.5,324.4 L691.6,320.9 L691.7,323.3 L691.8,320.2 L691.9,323.0 L692.0,321.0 L692.1,322.8 L692.2,321.0 L692.3,324.3 L692.4,319.8 L692.5,322.6 L692.6,320.9 L692.7,324.0 L692.8,319.8 L692.9,323.6 L693.0,320.1 L693.1,322.8 L693.2,320.0 L693.3,324.1 L693.4,320.8 L693.5,322.8 L693.6,321.6 L693.7,323.7 L693.8,320.3 L693.9,322.3 L694.0,320.6 L694.1,324.3 L694.2,321.6 L694.3,322.6 L694.4,321.6 L694.5,323.3 L694.6,320.9 L694.7,324.1 L694.8,321.5 L694.9,322.7 L695.0,319.7 L695.1,322.3 L695.2,321.1 L695.3,323.2 L695.4,321.5 L695.5,322.9 L695.6,320.4 L695.7,323.6 L695.8,320.4 L695.9,325.2 L696.0,320.4 L696.1,322.4 L696.2,320.3 L696.3,323.6 L696.4,321.2 L696.5,323.2 L696.6,321.1 L696.7,324.2 L696.8,321.0 L696.9,322.7 L697.0,319.9 L697.1,324.1 L697.2,319.7 L697.3,325.6 L697.4,320.7 L697.5,323.5 L697.6,320.3 L697.7,323.8 L697.8,319.4 L697.9,323.0 L698.0,319.8 L698.1,322.4 L698.2,321.1 L698.3,324.7 L698.4,321.0 L698.5,323.7 L698.6,319.3 L698.7,324.1 L698.8,320.3 L698.9,324.2 L699.0,319.1 L699.1,324.8 L699.2,321.1 L699.3,322.8 L699.4,320.8 L699.5,322.8 L699.6,319.6 L699.7,324.5 L699.8,321.2 L699.9,322.6 L700.0,316.0 L700.1,330.0 L700.2,319.7 L700.3,323.6 L700.4,320.0 L700.5,324.7 L700.6,319.4 L700.7,322.7 L700.8,319.8 L700.9,324.3 L701.0,319.4 L701.1,323.4 L701.2,321.2 L701.3,323.6 L701.4,320.7 L701.5,323.3 L701.6,319.7 L701.7,324.0 L701.8,320.0 L701.9,323.9 L702.0,321.3 L702.1,322.5 L702.2,320.7 L702.3,324.4 L702.4,320.0 L702.5,324.3 L702.6,320.1 L702.7,324.3 L702.8,316.7 L702.9,324.1 L703.0,319.5 L703.1,324.8 L703.2,319.8 L703.3,324.4 L703.4,321.4 L703.5,322.5 L703.6,319.3 L703.7,323.0 L703.8,320.8 L703.9,322.7 L704.0,320.0 L704.1,322.4 L704.2,319.6 L704.3,323.2 L704.4,319.7 L704.5,324.7 L704.6,319.8 L704.7,323.5 L704.8,320.0 L704.9,324.6 L705.0,319.7 L705.1,323.1 L705.2,321.6 L705.3,327.1 L705.4,320.0 L705.5,322.5 L705.6,320.2 L705.7,323.9 L705.8,320.8 L705.9,324.6 L706.0,321.0 L706.1,322.8 L706.2,320.8 L706.3,323.3 L706.4,317.0 L706.5,324.1 L706.6,321.3 L706.7,323.4 L706.8,320.8 L706.9,324.2 L707.0,319.5 L707.1,322.6 L707.2,320.4 L707.3,323.0 L707.4,320.9 L707.5,324.2 L707.6,319.2 L707.7,323.1 L707.8,320.3 L707.9,323.2 L708.0,321.5 L708.1,323.9 L708.2,321.2 L708.3,324.2 L708.4,319.7 L708.5,322.8 L708.6,320.0 L708.7,323.0 L708.8,319.5 L708.9,323.2 L709.0,319.6 L709.1,324.3 L709.2,319.9 L709.3,323.1 L709.4,319.1 L709.5,323.5 L709.6,319.2 L709.7,323.9 L709.8,320.1 L709.9,324.7 L710.0,319.0 L710.1,324.9 L710.2,320.1 L710.3,324.9 L710.4,319.2 L710.5,325.6 L710.6,320.1 L710.7,323.7 L710.8,318.1 L710.9,324.3 L711.0,320.0 L711.1,325.0 L711.2,319.3 L711.3,325.8 L711.4,318.9 L711.5,324.8 L711.6,320.5 L711.7,325.3 L711.8,318.3 L711.9,325.2 L712.0,318.4 L712.1,322.8 L712.2,319.0 L712.3,325.5 L712.4,319.8 L712.5,322.8 L712.6,319.6 L712.7,323.3 L712.8,320.9 L712.9,325.6 L713.0,318.7 L713.1,324.7 L713.2,319.0 L713.3,324.8 L713.4,319.9 L713.5,322.9 L713.6,320.5 L713.7,324.2 L713.8,319.5 L713.9,323.5 L714.0,320.2 L714.1,325.1 L714.2,320.9 L714.3,325.5 L714.4,320.8 L714.5,323.8 L714.6,319.7 L714.7,323.3 L714.8,319.9 L714.9,324.3 L715.0,321.4 L715.1,325.5 L715.2,319.8 L715.3,323.0 L715.4,318.4 L715.5,323.0 L715.6,319.2 L715.7,324.0 L715.8,320.7 L715.9,323.7 L716.0,320.0 L716.1,323.7 L716.2,320.7 L716.3,323.8 L716.4,320.1 L716.5,324.6 L716.6,320.9 L716.7,322.6 L716.8,319.0 L716.9,322.7 L717.0,319.6 L717.1,324.2 L717.2,318.6 L717.3,324.0 L717.4,318.9 L717.5,322.8 L717.6,321.1 L717.7,324.3 L717.8,321.1 L717.9,324.1 L718.0,319.7 L718.1,322.8 L718.2,319.4 L718.3,323.6 L718.4,319.0 L718.5,322.4 L718.6,321.4 L718.7,324.0 L718.8,321.0 L718.9,323.4 L719.0,319.4 L719.1,323.2 L719.2,321.5 L719.3,322.7 L719.4,320.3 L719.5,324.1 L719.6,319.9 L719.7,323.4 L719.8,321.1 L719.9,322.6 L720.0,315.0 L720.1,327.0 L720.2,319.6 L720.3,323.3 L720.4,321.4 L720.5,323.9 L720.6,320.5 L720.7,322.4 L720.8,319.2 L720.9,324.7 L721.0,320.9 L721.1,324.5 L721.2,320.4 L721.3,324.2 L721.4,319.8 L721.5,324.4 L721.6,320.3 L721.7,322.8 L721.8,319.3 L721.9,323.7 L722.0,320.3 L722.1,324.7 L722.2,319.5 L722.3,325.4 L722.4,320.3 L722.5,324.4 L722.6,321.3 L722.7,322.8 L722.8,319.5 L722.9,323.4 L723.0,320.0 L723.1,323.3 L723.2,318.5 L723.3,323.9 L723.4,320.3 L723.5,325.3 L723.6,319.0 L723.7,324.9 L723.8,318.7 L723.9,324.7 L724.0,319.3 L724.1,325.4 L724.2,321.5 L724.3,325.1 L724.4,320.3 L724.5,323.5 L724.6,320.1 L724.7,323.6 L724.8,319.1 L724.9,324.8 L725.0,319.4 L725.1,323.1 L725.2,320.3 L725.3,322.6 L725.4,319.5 L725.5,322.5 L725.6,320.5 L725.7,322.8 L725.8,319.3 L725.9,324.8 L726.0,320.8 L726.1,324.7 L726.2,321.1 L726.3,326.5 L726.4,320.9 L726.5,323.7 L726.6,319.9 L726.7,323.4 L726.8,321.0 L726.9,324.1 L727.0,319.3 L727.1,328.3 L727.2,320.6 L727.3,323.2 L727.4,321.3 L727.5,324.1 L727.6,321.5 L727.7,323.2 L727.8,319.3 L727.9,322.8 L728.0,319.5 L728.1,323.4 L728.2,320.8 L728.3,324.1 L728.4,320.1 L728.5,324.0 L728.6,321.1 L728.7,324.4 L728.8,318.5 L728.9,322.5 L729.0,321.2 L729.1,324.5 L729.2,320.4 L729.3,323.3 L729.4,318.3 L729.5,323.5 L729.6,318.6 L729.7,324.4 L729.8,321.5 L729.9,323.3 L730.0,321.3 L730.1,324.0 L730.2,319.0 L730.3,323.1 L730.4,321.5 L730.5,322.5 L730.6,320.8 L730.7,323.6 L730.8,319.1 L730.9,324.4 L731.0,319.2 L731.1,323.8 L731.2,319.6 L731.3,324.1 L731.4,320.9 L731.5,323.9 L731.6,321.0 L731.7,323.4 L731.8,319.9 L731.9,322.8 L732.0,321.3 L732.1,324.1 L732.2,320.7 L732.3,322.7 L732.4,320.1 L732.5,323.8 L732.6,319.8 L732.7,323.3 L732.8,319.7 L732.9,323.3 L733.0,319.7 L733.1,324.3 L733.2,320.4 L733.3,324.0 L733.4,321.0 L733.5,322.6 L733.6,320.3 L733.7,322.4 L733.8,320.6 L733.9,323.7 L734.0,320.0 L734.1,324.3 L734.2,321.2 L734.3,324.2 L734.4,320.5 L734.5,323.7 L734.6,320.6 L734.7,324.2 L734.8,321.0 L734.9,322.3 L735.0,319.8 L735.1,323.8 L735.2,320.0 L735.3,322.6 L735.4,321.2 L735.5,323.8 L735.6,320.0 L735.7,323.8 L735.8,320.3 L735.9,323.8 L736.0,321.3 L736.1,323.4 L736.2,320.9 L736.3,324.0 L736.4,320.5 L736.5,324.0 L736.6,320.1 L736.7,324.4 L736.8,319.8 L736.9,322.4 L737.0,320.2 L737.1,323.2 L737.2,321.4 L737.3,323.4 L737.4,319.8 L737.5,324.1 L737.6,321.4 L737.7,322.8 L737.8,320.1 L737.9,324.5 L738.0,321.5 L738.1,322.5 L738.2,320.0 L738.3,323.8 L738.4,319.7 L738.5,322.9 L738.6,320.4 L738.7,324.4 L738.8,320.6 L738.9,323.4 L739.0,321.5 L739.1,324.5 L739.2,320.4 L739.3,323.4 L739.4,319.8 L739.5,324.8 L739.6,319.2 L739.7,323.4 L739.8,319.8 L739.9,323.6 L740.0,319.1 L740.1,324.8 L740.2,319.5 L740.3,325.0 L740.4,318.1 L740.5,324.3 L740.6,321.0 L740.7,324.8 L740.8,320.6 L740.9,324.4 L741.0,321.5 L741.1,323.8 L741.2,317.1 L741.3,324.6 L741.4,319.6 L741.5,323.4 L741.6,319.3 L741.7,324.7 L741.8,319.5 L741.9,323.8 L742.0,321.0 L742.1,326.6 L742.2,321.3 L742.3,325.6 L742.4,320.3 L742.5,323.5 L742.6,319.9 L742.7,322.9 L742.8,318.4 L742.9,329.4 L743.0,318.6 L743.1,324.5 L743.2,314.8 L743.3,323.7 L743.4,319.8 L743.5,323.1 L743.6,320.0 L743.7,325.8 L743.8,319.1 L743.9,324.5 L744.0,319.5 L744.1,324.8 L744.2,319.3 L744.3,324.1 L744.4,319.7 L744.5,323.7 L744.6,319.9 L744.7,324.9 L744.8,320.7 L744.9,323.5 L745.0,318.7 L745.1,323.0 L745.2,320.8 L745.3,325.3 L745.4,321.1 L745.5,323.5 L745.6,302.0 L745.7,328.0 L745.8,315.9 L745.9,325.0 L746.0,291.7 L746.1,326.0 L746.2,318.5 L746.3,323.6 L746.4,320.2 L746.5,325.5 L746.6,321.2 L746.7,325.6 L746.8,319.4 L746.9,324.5 L747.0,321.6 L747.1,324.5 L747.2,318.9 L747.3,323.7 L747.4,321.3 L747.5,322.9 L747.6,321.3 L747.7,325.3" fill="none" stroke="#f00000" stroke-width="0.55" stroke-linejoin="bevel"/>
<path d="M587.0,369.0 L587.1,372.0 L587.2,369.1 L587.3,370.5 L587.4,368.8 L587.5,371.2 L587.6,366.8 L587.7,370.3 L587.8,367.9 L587.9,371.6 L588.0,369.5 L588.1,371.1 L588.2,369.3 L588.3,370.6 L588.4,368.8 L588.5,370.9 L588.6,368.7 L588.7,371.7 L588.8,369.0 L588.9,370.4 L589.0,368.3 L589.1,371.8 L589.2,367.9 L589.3,371.7 L589.4,369.4 L589.5,371.7 L589.6,368.4 L589.7,371.6 L589.8,368.8 L589.9,370.5 L590.0,368.1 L590.1,371.3 L590.2,368.1 L590.3,370.4 L590.4,369.3 L590.5,371.4 L590.6,369.2 L590.7,371.7 L590.8,369.3 L590.9,372.4 L591.0,368.8 L591.1,370.7 L591.2,369.2 L591.3,371.5 L591.4,367.8 L591.5,371.5 L591.6,368.4 L591.7,371.5 L591.8,368.5 L591.9,371.2 L592.0,367.7 L592.1,370.7 L592.2,369.0 L592.3,372.0 L592.4,367.6 L592.5,371.1 L592.6,367.8 L592.7,371.7 L592.8,367.5 L592.9,370.3 L593.0,367.5 L593.1,371.2 L593.2,368.5 L593.3,371.7 L593.4,368.1 L593.5,371.1 L593.6,368.8 L593.7,372.2 L593.8,367.6 L593.9,370.4 L594.0,368.5 L594.1,371.9 L594.2,367.5 L594.3,372.3 L594.4,368.9 L594.5,374.2 L594.6,367.9 L594.7,370.3 L594.8,369.0 L594.9,370.5 L595.0,369.3 L595.1,371.5 L595.2,368.0 L595.3,371.5 L595.4,369.3 L595.5,371.8 L595.6,368.2 L595.7,371.6 L595.8,368.4 L595.9,370.9 L596.0,369.2 L596.1,371.8 L596.2,369.3 L596.3,371.0 L596.4,369.3 L596.5,370.2 L596.6,368.4 L596.7,371.5 L596.8,368.8 L596.9,371.3 L597.0,368.2 L597.1,370.9 L597.2,368.3 L597.3,370.5 L597.4,369.3 L597.5,370.8 L597.6,369.6 L597.7,370.1 L597.8,368.4 L597.9,371.5 L598.0,369.5 L598.1,371.2 L598.2,368.3 L598.3,371.1 L598.4,368.7 L598.5,370.8 L598.6,368.4 L598.7,370.4 L598.8,368.3 L598.9,370.4 L599.0,369.5 L599.1,371.5 L599.2,369.4 L599.3,370.4 L599.4,369.5 L599.5,370.0 L599.6,369.4 L599.7,371.5 L599.8,368.4 L599.9,370.7 L600.0,366.8 L600.1,382.8 L600.2,368.7 L600.3,371.5 L600.4,368.7 L600.5,370.2 L600.6,369.4 L600.7,371.5 L600.8,369.1 L600.9,370.4 L601.0,368.7 L601.1,370.6 L601.2,369.0 L601.3,371.6 L601.4,368.6 L601.5,372.0 L601.6,368.9 L601.7,370.7 L601.8,367.7 L601.9,371.0 L602.0,367.9 L602.1,371.0 L602.2,368.6 L602.3,372.0 L602.4,368.8 L602.5,371.3 L602.6,368.2 L602.7,370.2 L602.8,369.2 L602.9,370.7 L603.0,369.5 L603.1,371.7 L603.2,366.6 L603.3,370.9 L603.4,368.5 L603.5,370.2 L603.6,368.5 L603.7,372.0 L603.8,369.4 L603.9,371.6 L604.0,367.9 L604.1,370.6 L604.2,368.8 L604.3,371.2 L604.4,368.2 L604.5,371.0 L604.6,369.2 L604.7,370.8 L604.8,368.9 L604.9,374.4 L605.0,368.2 L605.1,372.4 L605.2,368.4 L605.3,371.3 L605.4,367.4 L605.5,370.9 L605.6,369.4 L605.7,370.5 L605.8,369.5 L605.9,370.5 L606.0,368.2 L606.1,370.6 L606.2,367.8 L606.3,372.0 L606.4,369.3 L606.5,371.7 L606.6,368.2 L606.7,372.0 L606.8,369.2 L606.9,371.5 L607.0,368.9 L607.1,370.5 L607.2,369.1 L607.3,372.0 L607.4,368.7 L607.5,371.1 L607.6,368.1 L607.7,372.0 L607.8,368.1 L607.9,370.2 L608.0,367.9 L608.1,371.7 L608.2,368.0 L608.3,372.0 L608.4,368.0 L608.5,372.2 L608.6,368.4 L608.7,370.5 L608.8,368.3 L608.9,370.2 L609.0,368.9 L609.1,366.8 L609.2,379.1 L609.3,372.1 L609.4,366.3 L609.5,372.3 L609.6,368.4 L609.7,372.1 L609.8,369.3 L609.9,372.2 L610.0,365.8 L610.1,381.8 L610.2,368.6 L610.3,372.1 L610.4,369.1 L610.5,372.3 L610.6,368.2 L610.7,370.3 L610.8,368.7 L610.9,372.4 L611.0,369.0 L611.1,370.2 L611.2,369.2 L611.3,371.4 L611.4,369.4 L611.5,370.2 L611.6,369.3 L611.7,366.8 L611.8,375.8 L611.9,370.4 L612.0,368.7 L612.1,371.5 L612.2,369.5 L612.3,371.9 L612.4,368.4 L612.5,371.5 L612.6,368.7 L612.7,371.7 L612.8,368.1 L612.9,370.7 L613.0,369.1 L613.1,371.9 L613.2,368.6 L613.3,370.9 L613.4,367.7 L613.5,371.5 L613.6,368.0 L613.7,371.8 L613.8,367.7 L613.9,371.6 L614.0,367.3 L614.1,371.9 L614.2,367.6 L614.3,372.0 L614.4,369.4 L614.5,372.4 L614.6,367.6 L614.7,370.4 L614.8,367.7 L614.9,371.9 L615.0,368.2 L615.1,370.9 L615.2,368.1 L615.3,370.6 L615.4,368.5 L615.5,371.6 L615.6,367.8 L615.7,371.4 L615.8,367.5 L615.9,372.1 L616.0,367.5 L616.1,371.4 L616.2,368.9 L616.3,370.2 L616.4,368.3 L616.5,371.2 L616.6,369.5 L616.7,370.4 L616.8,367.7 L616.9,371.5 L617.0,367.9 L617.1,370.7 L617.2,368.8 L617.3,371.1 L617.4,368.0 L617.5,370.1 L617.6,367.8 L617.7,371.1 L617.8,369.0 L617.9,371.5 L618.0,368.2 L618.1,370.1 L618.2,368.9 L618.3,371.0 L618.4,368.9 L618.5,371.5 L618.6,369.1 L618.7,371.4 L618.8,369.0 L618.9,371.4 L619.0,369.4 L619.1,371.4 L619.2,368.2 L619.3,370.9 L619.4,369.1 L619.5,370.7 L619.6,369.4 L619.7,370.5 L619.8,368.7 L619.9,370.9 L620.0,367.8 L620.1,378.8 L620.2,369.2 L620.3,371.3 L620.4,368.1 L620.5,370.6 L620.6,369.5 L620.7,371.4 L620.8,368.3 L620.9,370.9 L621.0,368.0 L621.1,371.1 L621.2,368.3 L621.3,371.1 L621.4,368.9 L621.5,371.3 L621.6,369.4 L621.7,370.6 L621.8,368.7 L621.9,373.2 L622.0,368.3 L622.1,370.1 L622.2,368.6 L622.3,370.3 L622.4,368.9 L622.5,371.5 L622.6,369.1 L622.7,370.2 L622.8,368.1 L622.9,370.4 L623.0,368.6 L623.1,370.4 L623.2,368.1 L623.3,371.2 L623.4,368.4 L623.5,370.2 L623.6,369.0 L623.7,371.3 L623.8,369.1 L623.9,370.2 L624.0,367.0 L624.1,370.4 L624.2,368.6 L624.3,370.3 L624.4,369.4 L624.5,370.8 L624.6,368.5 L624.7,371.3 L624.8,368.0 L624.9,371.0 L625.0,368.3 L625.1,371.4 L625.2,367.9 L625.3,370.7 L625.4,369.5 L625.5,370.5 L625.6,369.2 L625.7,371.3 L625.8,369.2 L625.9,371.0 L626.0,368.8 L626.1,371.7 L626.2,368.9 L626.3,370.6 L626.4,368.9 L626.5,370.5 L626.6,368.1 L626.7,371.3 L626.8,367.9 L626.9,370.4 L627.0,367.7 L627.1,371.4 L627.2,367.3 L627.3,372.3 L627.4,369.1 L627.5,371.5 L627.6,368.9 L627.7,371.7 L627.8,369.1 L627.9,371.5 L628.0,367.7 L628.1,371.5 L628.2,368.7 L628.3,371.9 L628.4,367.3 L628.5,370.8 L628.6,369.2 L628.7,371.1 L628.8,368.5 L628.9,371.1 L629.0,367.2 L629.1,370.7 L629.2,369.3 L629.3,370.5 L629.4,368.3 L629.5,371.7 L629.6,368.3 L629.7,371.8 L629.8,368.7 L629.9,370.5 L630.0,367.3 L630.1,371.3 L630.2,368.7 L630.3,370.2 L630.4,368.0 L630.5,370.7 L630.6,367.7 L630.7,371.1 L630.8,367.6 L630.9,370.9 L631.0,367.7 L631.1,370.3 L631.2,368.7 L631.3,370.9 L631.4,368.6 L631.5,370.6 L631.6,368.8 L631.7,372.2 L631.8,369.3 L631.9,371.2 L632.0,365.6 L632.1,372.2 L632.2,368.6 L632.3,371.2 L632.4,369.2 L632.5,370.5 L632.6,368.1 L632.7,371.3 L632.8,368.4 L632.9,372.2 L633.0,367.6 L633.1,370.5 L633.2,368.0 L633.3,371.9 L633.4,368.5 L633.5,370.4 L633.6,368.6 L633.7,371.6 L633.8,368.2 L633.9,371.7 L634.0,368.5 L634.1,370.1 L634.2,369.5 L634.3,371.6 L634.4,368.5 L634.5,371.8 L634.6,367.9 L634.7,371.3 L634.8,368.4 L634.9,371.5 L635.0,369.2 L635.1,370.8 L635.2,368.3 L635.3,371.1 L635.4,369.2 L635.5,370.7 L635.6,369.3 L635.7,371.6 L635.8,369.2 L635.9,371.3 L636.0,369.2 L636.1,370.3 L636.2,369.5 L636.3,371.6 L636.4,368.0 L636.5,371.7 L636.6,368.6 L636.7,371.6 L636.8,368.4 L636.9,371.7 L637.0,369.2 L637.1,370.5 L637.2,369.1 L637.3,371.5 L637.4,367.9 L637.5,371.4 L637.6,367.9 L637.7,370.3 L637.8,369.3 L637.9,370.3 L638.0,368.9 L638.1,370.7 L638.2,368.8 L638.3,370.4 L638.4,367.4 L638.5,371.3 L638.6,368.0 L638.7,370.4 L638.8,367.6 L638.9,371.3 L639.0,366.8 L639.1,372.8 L639.2,369.2 L639.3,371.0 L639.4,368.7 L639.5,370.3 L639.6,369.4 L639.7,370.6 L639.8,367.1 L639.9,370.2 L640.0,365.8 L640.1,376.8 L640.2,368.4 L640.3,370.7 L640.4,367.3 L640.5,371.7 L640.6,366.8 L640.7,374.5 L640.8,369.4 L640.9,370.8 L641.0,367.5 L641.1,371.2 L641.2,369.3 L641.3,370.3 L641.4,367.6 L641.5,370.9 L641.6,367.7 L641.7,370.6 L641.8,368.4 L641.9,370.5 L642.0,367.9 L642.1,371.6 L642.2,367.7 L642.3,371.0 L642.4,368.1 L642.5,370.3 L642.6,368.3 L642.7,371.5 L642.8,368.0 L642.9,370.7 L643.0,369.5 L643.1,371.4 L643.2,367.9 L643.3,371.2 L643.4,368.5 L643.5,366.8 L643.6,373.3 L643.7,372.0 L643.8,368.0 L643.9,371.5 L644.0,367.9 L644.1,372.3 L644.2,367.3 L644.3,370.2 L644.4,369.4 L644.5,372.5 L644.6,368.6 L644.7,371.9 L644.8,368.5 L644.9,372.1 L645.0,367.6 L645.1,370.9 L645.2,367.7 L645.3,370.2 L645.4,369.3 L645.5,371.4 L645.6,367.2 L645.7,372.5 L645.8,369.3 L645.9,371.0 L646.0,369.1 L646.1,372.3 L646.2,368.5 L646.3,370.9 L646.4,368.4 L646.5,371.1 L646.6,368.2 L646.7,370.8 L646.8,369.2 L646.9,370.8 L647.0,369.2 L647.1,372.4 L647.2,369.1 L647.3,372.2 L647.4,368.7 L647.5,372.4 L647.6,369.1 L647.7,371.5 L647.8,367.8 L647.9,370.2 L648.0,368.2 L648.1,371.3 L648.2,367.6 L648.3,371.0 L648.4,368.3 L648.5,370.5 L648.6,367.9 L648.7,374.4 L648.8,367.8 L648.9,373.7 L649.0,367.9 L649.1,370.6 L649.2,367.5 L649.3,370.3 L649.4,368.5 L649.5,371.8 L649.6,368.0 L649.7,370.6 L649.8,368.9 L649.9,371.2 L650.0,368.7 L650.1,370.4 L650.2,369.0 L650.3,371.5 L650.4,368.6 L650.5,371.1 L650.6,369.3 L650.7,370.1 L650.8,367.8 L650.9,371.6 L651.0,368.6 L651.1,371.3 L651.2,368.3 L651.3,371.9 L651.4,369.3 L651.5,370.1 L651.6,368.2 L651.7,371.5 L651.8,369.4 L651.9,371.5 L652.0,369.5 L652.1,371.6 L652.2,368.6 L652.3,371.0 L652.4,367.8 L652.5,371.4 L652.6,367.5 L652.7,371.6 L652.8,368.7 L652.9,370.6 L653.0,368.1 L653.1,371.5 L653.2,368.5 L653.3,370.5 L653.4,367.8 L653.5,371.5 L653.6,369.2 L653.7,371.2 L653.8,368.5 L653.9,370.1 L654.0,368.4 L654.1,370.2 L654.2,368.4 L654.3,371.2 L654.4,368.0 L654.5,370.6 L654.6,368.5 L654.7,371.4 L654.8,369.4 L654.9,370.5 L655.0,368.4 L655.1,371.7 L655.2,368.7 L655.3,371.9 L655.4,367.6 L655.5,370.9 L655.6,368.8 L655.7,371.4 L655.8,368.2 L655.9,371.9 L656.0,369.1 L656.1,372.0 L656.2,368.5 L656.3,370.7 L656.4,368.7 L656.5,370.6 L656.6,368.8 L656.7,371.8 L656.8,368.7 L656.9,372.1 L657.0,366.8 L657.1,377.8 L657.2,368.6 L657.3,371.4 L657.4,368.2 L657.5,370.8 L657.6,369.5 L657.7,371.3 L657.8,368.8 L657.9,373.5 L658.0,367.7 L658.1,370.8 L658.2,368.7 L658.3,372.1 L658.4,367.9 L658.5,371.7 L658.6,369.0 L658.7,371.9 L658.8,368.3 L658.9,371.0 L659.0,369.0 L659.1,371.4 L659.2,368.0 L659.3,370.9 L659.4,368.1 L659.5,371.4 L659.6,369.0 L659.7,371.3 L659.8,369.3 L659.9,371.0 L660.0,368.6 L660.1,371.4 L660.2,368.2 L660.3,371.1 L660.4,369.5 L660.5,370.3 L660.6,368.4 L660.7,371.6 L660.8,369.4 L660.9,371.5 L661.0,368.6 L661.1,371.3 L661.2,369.5 L661.3,370.8 L661.4,367.8 L661.5,370.3 L661.6,369.1 L661.7,370.8 L661.8,368.6 L661.9,370.1 L662.0,369.4 L662.1,371.2 L662.2,369.5 L662.3,370.5 L662.4,369.0 L662.5,370.5 L662.6,367.8 L662.7,370.5 L662.8,368.3 L662.9,370.4 L663.0,367.8 L663.1,372.9 L663.2,369.1 L663.3,371.1 L663.4,368.5 L663.5,370.1 L663.6,366.3 L663.7,370.5 L663.8,368.2 L663.9,370.2 L664.0,368.7 L664.1,370.8 L664.2,366.8 L664.3,370.6 L664.4,369.3 L664.5,370.6 L664.6,369.4 L664.7,371.8 L664.8,368.9 L664.9,371.7 L665.0,368.6 L665.1,371.7 L665.2,368.7 L665.3,370.4 L665.4,369.1 L665.5,371.7 L665.6,369.3 L665.7,371.2 L665.8,369.4 L665.9,370.9 L666.0,368.6 L666.1,371.7 L666.2,368.8 L666.3,371.6 L666.4,368.7 L666.5,371.1 L666.6,368.1 L666.7,371.0 L666.8,367.9 L666.9,371.5 L667.0,368.9 L667.1,371.3 L667.2,369.3 L667.3,370.4 L667.4,368.1 L667.5,370.5 L667.6,368.1 L667.7,370.3 L667.8,368.8 L667.9,370.3 L668.0,368.4 L668.1,372.3 L668.2,369.1 L668.3,370.3 L668.4,368.1 L668.5,371.1 L668.6,368.6 L668.7,371.1 L668.8,369.6 L668.9,370.2 L669.0,368.3 L669.1,370.6 L669.2,368.4 L669.3,371.4 L669.4,368.1 L669.5,371.6 L669.6,368.1 L669.7,370.5 L669.8,368.2 L669.9,371.3 L670.0,367.9 L670.1,371.5 L670.2,368.7 L670.3,370.4 L670.4,367.2 L670.5,370.3 L670.6,367.8 L670.7,370.3 L670.8,368.9 L670.9,370.8 L671.0,369.3 L671.1,370.9 L671.2,368.6 L671.3,370.1 L671.4,369.3 L671.5,371.2 L671.6,368.8 L671.7,371.9 L671.8,369.4 L671.9,372.1 L672.0,369.2 L672.1,370.6 L672.2,368.4 L672.3,372.1 L672.4,368.2 L672.5,370.5 L672.6,368.3 L672.7,371.2 L672.8,369.4 L672.9,371.2 L673.0,367.9 L673.1,371.6 L673.2,368.9 L673.3,370.7 L673.4,368.7 L673.5,371.1 L673.6,369.4 L673.7,370.9 L673.8,369.3 L673.9,371.2 L674.0,368.5 L674.1,371.6 L674.2,369.1 L674.3,370.7 L674.4,367.9 L674.5,370.6 L674.6,368.6 L674.7,370.3 L674.8,368.4 L674.9,370.2 L675.0,368.4 L675.1,370.5 L675.2,368.6 L675.3,371.1 L675.4,369.2 L675.5,370.5 L675.6,369.5 L675.7,370.7 L675.8,368.9 L675.9,371.0 L676.0,369.3 L676.1,370.5 L676.2,368.9 L676.3,371.3 L676.4,369.0 L676.5,371.5 L676.6,368.5 L676.7,371.6 L676.8,368.0 L676.9,370.6 L677.0,367.8 L677.1,371.0 L677.2,367.7 L677.3,372.7 L677.4,367.6 L677.5,371.4 L677.6,369.2 L677.7,371.3 L677.8,369.3 L677.9,372.1 L678.0,365.1 L678.1,370.4 L678.2,367.4 L678.3,371.4 L678.4,367.6 L678.5,372.0 L678.6,368.6 L678.7,372.6 L678.8,368.9 L678.9,373.1 L679.0,368.0 L679.1,373.1 L679.2,368.7 L679.3,373.0 L679.4,368.5 L679.5,373.1 L679.6,366.9 L679.7,373.3 L679.8,367.0 L679.9,370.7 L680.0,369.0 L680.1,372.7 L680.2,366.5 L680.3,373.4 L680.4,366.7 L680.5,373.9 L680.6,368.1 L680.7,371.7 L680.8,369.0 L680.9,373.6 L681.0,368.3 L681.1,376.3 L681.2,366.6 L681.3,373.4 L681.4,364.8 L681.5,374.8 L681.6,365.6 L681.7,374.4 L681.8,368.7 L681.9,374.5 L682.0,366.5 L682.1,373.9 L682.2,365.3 L682.3,374.0 L682.4,367.1 L682.5,373.5 L682.6,368.9 L682.7,372.2 L682.8,367.1 L682.9,370.5 L683.0,359.8 L683.1,379.8 L683.2,367.0 L683.3,371.8 L683.4,368.7 L683.5,374.9 L683.6,368.6 L683.7,370.7 L683.8,367.5 L683.9,374.9 L684.0,368.9 L684.1,370.8 L684.2,367.7 L684.3,372.5 L684.4,365.8 L684.5,371.6 L684.6,367.4 L684.7,374.0 L684.8,368.2 L684.9,371.4 L685.0,365.7 L685.1,373.4 L685.2,365.3 L685.3,373.7 L685.4,366.5 L685.5,370.6 L685.6,368.8 L685.7,371.3 L685.8,366.4 L685.9,371.6 L686.0,369.1 L686.1,373.8 L686.2,368.0 L686.3,370.4 L686.4,366.7 L686.5,372.7 L686.6,368.3 L686.7,370.6 L686.8,367.0 L686.9,370.4 L687.0,367.2 L687.1,371.8 L687.2,366.7 L687.3,372.6 L687.4,366.8 L687.5,372.0 L687.6,364.8 L687.7,374.8 L687.8,368.3 L687.9,371.3 L688.0,368.7 L688.1,371.8 L688.2,368.2 L688.3,371.2 L688.4,369.3 L688.5,372.6 L688.6,368.7 L688.7,372.8 L688.8,368.8 L688.9,370.2 L689.0,366.9 L689.1,371.9 L689.2,367.5 L689.3,371.2 L689.4,369.2 L689.5,372.1 L689.6,367.3 L689.7,371.2 L689.8,369.3 L689.9,370.9 L690.0,366.8 L690.1,379.8 L690.2,368.6 L690.3,371.1 L690.4,367.9 L690.5,371.8 L690.6,368.4 L690.7,371.7 L690.8,367.4 L690.9,370.8 L691.0,368.3 L691.1,372.0 L691.2,369.3 L691.3,371.9 L691.4,368.8 L691.5,370.7 L691.6,369.1 L691.7,371.2 L691.8,368.0 L691.9,370.8 L692.0,368.2 L692.1,370.4 L692.2,364.8 L692.3,376.0 L692.4,369.3 L692.5,371.4 L692.6,368.0 L692.7,371.0 L692.8,368.2 L692.9,371.5 L693.0,368.3 L693.1,370.4 L693.2,369.4 L693.3,371.1 L693.4,367.8 L693.5,372.1 L693.6,368.2 L693.7,371.4 L693.8,367.8 L693.9,370.9 L694.0,367.3 L694.1,371.3 L694.2,368.7 L694.3,372.3 L694.4,368.8 L694.5,371.6 L694.6,368.7 L694.7,372.3 L694.8,367.9 L694.9,370.2 L695.0,367.8 L695.1,370.6 L695.2,368.2 L695.3,371.6 L695.4,367.9 L695.5,371.9 L695.6,368.2 L695.7,371.7 L695.8,369.4 L695.9,372.8 L696.0,368.1 L696.1,372.1 L696.2,368.6 L696.3,370.3 L696.4,368.2 L696.5,371.0 L696.6,368.3 L696.7,370.2 L696.8,369.3 L696.9,372.7 L697.0,367.9 L697.1,371.4 L697.2,368.8 L697.3,371.4 L697.4,367.7 L697.5,371.9 L697.6,367.7 L697.7,371.2 L697.8,367.5 L697.9,370.9 L698.0,367.5 L698.1,370.4 L698.2,369.4 L698.3,370.5 L698.4,368.2 L698.5,371.9 L698.6,369.2 L698.7,371.2 L698.8,369.5 L698.9,370.9 L699.0,368.0 L699.1,371.7 L699.2,368.0 L699.3,371.2 L699.4,369.4 L699.5,371.4 L699.6,368.1 L699.7,370.8 L699.8,367.7 L699.9,371.5 L700.0,368.5 L700.1,370.2 L700.2,369.5 L700.3,371.0 L700.4,368.6 L700.5,371.2 L700.6,368.4 L700.7,371.5 L700.8,368.4 L700.9,370.5 L701.0,369.0 L701.1,370.7 L701.2,369.0 L701.3,371.6 L701.4,369.3 L701.5,370.4 L701.6,368.6 L701.7,370.5 L701.8,369.0 L701.9,370.9 L702.0,368.3 L702.1,371.3 L702.2,368.8 L702.3,372.8 L702.4,369.0 L702.5,370.3 L702.6,368.7 L702.7,371.2 L702.8,369.6 L702.9,370.9 L703.0,369.4 L703.1,371.1 L703.2,368.1 L703.3,371.2 L703.4,368.5 L703.5,371.0 L703.6,366.9 L703.7,371.1 L703.8,368.8 L703.9,370.6 L704.0,369.1 L704.1,371.2 L704.2,369.5 L704.3,370.7 L704.4,369.1 L704.5,370.7 L704.6,368.9 L704.7,370.4 L704.8,369.3 L704.9,371.4 L705.0,366.8 L705.1,376.8 L705.2,369.4 L705.3,370.4 L705.4,368.7 L705.5,370.5 L705.6,369.3 L705.7,371.4 L705.8,368.8 L705.9,371.2 L706.0,368.5 L706.1,370.7 L706.2,366.3 L706.3,370.1 L706.4,368.7 L706.5,370.2 L706.6,368.0 L706.7,371.3 L706.8,368.0 L706.9,372.0 L707.0,367.5 L707.1,372.0 L707.2,367.9 L707.3,372.1 L707.4,367.6 L707.5,371.8 L707.6,368.7 L707.7,371.5 L707.8,368.4 L707.9,371.9 L708.0,367.5 L708.1,370.9 L708.2,368.5 L708.3,371.5 L708.4,369.4 L708.5,373.7 L708.6,369.0 L708.7,370.8 L708.8,368.2 L708.9,371.8 L709.0,368.7 L709.1,371.5 L709.2,368.9 L709.3,370.4 L709.4,368.4 L709.5,371.1 L709.6,367.8 L709.7,370.7 L709.8,369.1 L709.9,370.5 L710.0,368.1 L710.1,371.5 L710.2,367.2 L710.3,370.9 L710.4,367.7 L710.5,372.0 L710.6,367.7 L710.7,370.8 L710.8,367.6 L710.9,371.9 L711.0,367.8 L711.1,371.3 L711.2,367.9 L711.3,371.4 L711.4,365.3 L711.5,372.4 L711.6,368.7 L711.7,372.2 L711.8,369.1 L711.9,370.3 L712.0,367.7 L712.1,370.7 L712.2,369.3 L712.3,370.7 L712.4,367.2 L712.5,370.5 L712.6,368.5 L712.7,372.4 L712.8,369.4 L712.9,372.2 L713.0,369.0 L713.1,371.8 L713.2,369.4 L713.3,370.2 L713.4,368.7 L713.5,370.7 L713.6,368.5 L713.7,371.3 L713.8,369.3 L713.9,371.6 L714.0,367.2 L714.1,371.9 L714.2,367.9 L714.3,371.5 L714.4,369.1 L714.5,371.0 L714.6,368.0 L714.7,370.9 L714.8,368.6 L714.9,371.0 L715.0,367.7 L715.1,371.5 L715.2,369.1 L715.3,371.9 L715.4,368.4 L715.5,370.6 L715.6,368.3 L715.7,372.0 L715.8,368.2 L715.9,371.0 L716.0,369.4 L716.1,371.1 L716.2,367.5 L716.3,370.3 L716.4,367.6 L716.5,370.8 L716.6,367.9 L716.7,371.9 L716.8,367.7 L716.9,371.5 L717.0,368.2 L717.1,371.0 L717.2,368.0 L717.3,371.4 L717.4,368.1 L717.5,370.7 L717.6,369.4 L717.7,370.2 L717.8,369.4 L717.9,371.8 L718.0,368.4 L718.1,371.7 L718.2,368.8 L718.3,371.9 L718.4,369.0 L718.5,371.9 L718.6,368.0 L718.7,370.5 L718.8,369.0 L718.9,370.8 L719.0,369.0 L719.1,374.0 L719.2,369.1 L719.3,371.1 L719.4,369.0 L719.5,371.5 L719.6,367.9 L719.7,371.4 L719.8,368.5 L719.9,370.9 L720.0,367.5 L720.1,370.4 L720.2,368.4 L720.3,371.4 L720.4,368.3 L720.5,372.1 L720.6,368.2 L720.7,370.4 L720.8,368.9 L720.9,372.2 L721.0,369.1 L721.1,370.2 L721.2,368.1 L721.3,371.6 L721.4,368.9 L721.5,371.4 L721.6,365.0 L721.7,372.1 L721.8,368.8 L721.9,371.8 L722.0,368.1 L722.1,371.1 L722.2,367.8 L722.3,370.7 L722.4,368.8 L722.5,371.5 L722.6,366.8 L722.7,371.6 L722.8,368.7 L722.9,373.8 L723.0,368.6 L723.1,373.4 L723.2,365.3 L723.3,373.5 L723.4,368.9 L723.5,374.1 L723.6,364.3 L723.7,372.9 L723.8,367.3 L723.9,375.3 L724.0,367.9 L724.1,376.6 L724.2,365.2 L724.3,372.8 L724.4,364.7 L724.5,375.2 L724.6,366.9 L724.7,373.2 L724.8,364.0 L724.9,374.1 L725.0,354.8 L725.1,382.8 L725.2,365.9 L725.3,373.5 L725.4,365.6 L725.5,371.4 L725.6,368.9 L725.7,373.2 L725.8,365.8 L725.9,373.6 L726.0,368.5 L726.1,371.6 L726.2,362.5 L726.3,376.8 L726.4,363.8 L726.5,376.9 L726.6,367.5 L726.7,371.3 L726.8,367.8 L726.9,373.7 L727.0,366.7 L727.1,372.9 L727.2,368.4 L727.3,372.4 L727.4,368.4 L727.5,371.5 L727.6,368.2 L727.7,372.5 L727.8,368.6 L727.9,371.6 L728.0,367.7 L728.1,370.6 L728.2,368.4 L728.3,370.5 L728.4,367.8 L728.5,370.2 L728.6,368.0 L728.7,372.4 L728.8,369.1 L728.9,370.3 L729.0,367.9 L729.1,371.1 L729.2,368.9 L729.3,371.0 L729.4,367.5 L729.5,371.5 L729.6,367.1 L729.7,371.6 L729.8,368.2 L729.9,370.7 L730.0,368.3 L730.1,370.6 L730.2,368.1 L730.3,370.7 L730.4,367.6 L730.5,370.7 L730.6,369.3 L730.7,372.3 L730.8,368.6 L730.9,371.3 L731.0,368.8 L731.1,372.2 L731.2,367.9 L731.3,370.2 L731.4,369.3 L731.5,371.2 L731.6,367.9 L731.7,371.3 L731.8,366.5 L731.9,371.9 L732.0,368.5 L732.1,370.6 L732.2,368.4 L732.3,371.0 L732.4,369.2 L732.5,371.2 L732.6,368.1 L732.7,370.3 L732.8,369.4 L732.9,370.1 L733.0,368.2 L733.1,371.5 L733.2,369.3 L733.3,371.7 L733.4,368.0 L733.5,370.6 L733.6,368.3 L733.7,370.7 L733.8,369.5 L733.9,370.6 L734.0,369.0 L734.1,370.5 L734.2,368.8 L734.3,370.8 L734.4,368.9 L734.5,370.9 L734.6,368.7 L734.7,370.1 L734.8,368.3 L734.9,370.8 L735.0,369.5 L735.1,370.2 L735.2,368.4 L735.3,371.2 L735.4,368.9 L735.5,371.3 L735.6,369.3 L735.7,371.6 L735.8,368.9 L735.9,371.2 L736.0,368.6 L736.1,371.4 L736.2,368.9 L736.3,370.5 L736.4,369.2 L736.5,371.0 L736.6,368.7 L736.7,370.8 L736.8,368.1 L736.9,371.9 L737.0,369.1 L737.1,370.3 L737.2,368.1 L737.3,372.1 L737.4,367.9 L737.5,370.5 L737.6,369.1 L737.7,371.3 L737.8,369.4 L737.9,370.9 L738.0,368.6 L738.1,371.8 L738.2,368.3 L738.3,371.6 L738.4,368.7 L738.5,372.1 L738.6,369.3 L738.7,371.9 L738.8,368.9 L738.9,370.7 L739.0,367.6 L739.1,371.3 L739.2,367.7 L739.3,370.5 L739.4,366.3 L739.5,370.2 L739.6,367.9 L739.7,370.4 L739.8,368.5 L739.9,371.4 L740.0,368.6 L740.1,371.5 L740.2,368.4 L740.3,371.1 L740.4,368.0 L740.5,371.0 L740.6,368.0 L740.7,371.6 L740.8,368.5 L740.9,370.7 L741.0,368.3 L741.1,371.2 L741.2,368.2 L741.3,372.1 L741.4,368.1 L741.5,370.9 L741.6,368.1 L741.7,370.8 L741.8,369.1 L741.9,372.6 L742.0,369.5 L742.1,370.4 L742.2,368.3 L742.3,371.5 L742.4,368.8 L742.5,371.2 L742.6,368.8 L742.7,370.6 L742.8,366.9 L742.9,370.3 L743.0,368.6 L743.1,371.3 L743.2,369.0 L743.3,371.5 L743.4,369.1 L743.5,370.7 L743.6,368.9 L743.7,370.6 L743.8,368.2 L743.9,370.8 L744.0,367.9 L744.1,371.0 L744.2,368.9 L744.3,371.1 L744.4,368.3 L744.5,370.4 L744.6,368.7 L744.7,370.5 L744.8,369.5 L744.9,371.4 L745.0,367.7 L745.1,371.7 L745.2,368.6 L745.3,370.5 L745.4,367.6 L745.5,371.3 L745.6,367.7 L745.7,370.8 L745.8,368.1 L745.9,371.8 L746.0,367.9 L746.1,370.9 L746.2,367.3 L746.3,371.8 L746.4,368.9 L746.5,370.6 L746.6,367.7 L746.7,370.7 L746.8,368.8 L746.9,371.5 L747.0,368.8 L747.1,370.6 L747.2,368.5 L747.3,370.9 L747.4,368.7" fill="none" stroke="#f00000" stroke-width="0.55" stroke-linejoin="bevel"/>
<path d="M585.8,439.5 L585.9,445.6 L586.0,439.7 L586.1,443.9 L586.2,441.9 L586.3,445.9 L586.4,440.2 L586.5,443.0 L586.6,439.3 L586.7,446.1 L586.8,440.0 L586.9,445.6 L587.0,441.9 L587.1,444.4 L587.2,439.7 L587.3,444.3 L587.4,440.6 L587.5,443.4 L587.6,439.8 L587.7,444.5 L587.8,441.4 L587.9,445.3 L588.0,439.4 L588.1,444.6 L588.2,440.1 L588.3,445.8 L588.4,442.1 L588.5,444.7 L588.6,439.5 L588.7,443.3 L588.8,441.6 L588.9,444.5 L589.0,440.2 L589.1,444.5 L589.2,440.7 L589.3,443.1 L589.4,440.2 L589.5,443.9 L589.6,442.0 L589.7,445.5 L589.8,438.6 L589.9,444.2 L590.0,440.3 L590.1,444.2 L590.2,441.9 L590.3,444.6 L590.4,440.3 L590.5,444.9 L590.6,440.8 L590.7,445.4 L590.8,439.8 L590.9,445.3 L591.0,441.2 L591.1,443.7 L591.2,439.2 L591.3,444.7 L591.4,441.8 L591.5,444.5 L591.6,441.0 L591.7,443.0 L591.8,439.7 L591.9,444.1 L592.0,439.7 L592.1,443.1 L592.2,439.8 L592.3,445.4 L592.4,440.6 L592.5,443.5 L592.6,440.1 L592.7,443.4 L592.8,441.3 L592.9,444.8 L593.0,441.0 L593.1,444.3 L593.2,441.4 L593.3,443.5 L593.4,441.2 L593.5,445.3 L593.6,439.9 L593.7,443.2 L593.8,440.6 L593.9,444.0 L594.0,441.0 L594.1,445.8 L594.2,439.9 L594.3,444.5 L594.4,440.7 L594.5,445.6 L594.6,441.1 L594.7,445.3 L594.8,440.1 L594.9,445.2 L595.0,440.8 L595.1,445.0 L595.2,439.7 L595.3,443.9 L595.4,439.9 L595.5,444.5 L595.6,440.6 L595.7,444.4 L595.8,441.0 L595.9,445.3 L596.0,441.0 L596.1,443.6 L596.2,439.9 L596.3,444.2 L596.4,440.5 L596.5,445.7 L596.6,440.4 L596.7,444.5 L596.8,441.4 L596.9,444.9 L597.0,439.7 L597.1,444.9 L597.2,440.2 L597.3,443.8 L597.4,441.4 L597.5,443.9 L597.6,441.0 L597.7,445.2 L597.8,441.1 L597.9,443.4 L598.0,440.9 L598.1,443.6 L598.2,440.7 L598.3,443.8 L598.4,440.1 L598.5,444.0 L598.6,440.9 L598.7,444.2 L598.8,441.3 L598.9,445.1 L599.0,442.2 L599.1,444.6 L599.2,441.7 L599.3,443.1 L599.4,441.9 L599.5,444.6 L599.6,440.3 L599.7,444.6 L599.8,441.6 L599.9,444.0 L600.0,442.0 L600.1,443.9 L600.2,441.7 L600.3,443.0 L600.4,441.6 L600.5,444.9 L600.6,441.1 L600.7,443.5 L600.8,442.0 L600.9,444.9 L601.0,442.1 L601.1,443.0 L601.2,442.0 L601.3,444.6 L601.4,440.2 L601.5,443.1 L601.6,440.9 L601.7,444.4 L601.8,441.1 L601.9,443.2 L602.0,440.7 L602.1,443.9 L602.2,440.1 L602.3,445.3 L602.4,440.7 L602.5,443.2 L602.6,441.4 L602.7,444.5 L602.8,440.1 L602.9,444.1 L603.0,441.3 L603.1,444.6 L603.2,440.0 L603.3,443.5 L603.4,440.6 L603.5,444.7 L603.6,440.9 L603.7,444.0 L603.8,439.5 L603.9,445.3 L604.0,441.7 L604.1,443.0 L604.2,441.4 L604.3,444.3 L604.4,441.7 L604.5,444.1 L604.6,440.0 L604.7,445.4 L604.8,439.6 L604.9,445.6 L605.0,441.1 L605.1,444.7 L605.2,439.9 L605.3,444.9 L605.4,440.4 L605.5,445.4 L605.6,439.5 L605.7,445.6 L605.8,440.3 L605.9,444.0 L606.0,441.4 L606.1,445.2 L606.2,441.3 L606.3,445.0 L606.4,440.6 L606.5,445.5 L606.6,441.9 L606.7,445.1 L606.8,442.1 L606.9,444.5 L607.0,440.9 L607.1,443.6 L607.2,441.6 L607.3,443.9 L607.4,441.1 L607.5,443.3 L607.6,441.3 L607.7,443.1 L607.8,441.2 L607.9,444.1 L608.0,441.4 L608.1,444.0 L608.2,441.0 L608.3,444.1 L608.4,441.8 L608.5,443.5 L608.6,441.6 L608.7,445.2 L608.8,441.1 L608.9,444.6 L609.0,441.8 L609.1,444.2 L609.2,439.9 L609.3,443.5 L609.4,441.7 L609.5,443.6 L609.6,440.4 L609.7,444.8 L609.8,440.1 L609.9,443.8 L610.0,440.9 L610.1,444.8 L610.2,440.8 L610.3,447.5 L610.4,442.2 L610.5,444.8 L610.6,441.9 L610.7,444.4 L610.8,441.2 L610.9,444.2 L611.0,440.1 L611.1,443.2 L611.2,441.6 L611.3,445.6 L611.4,440.8 L611.5,444.2 L611.6,441.7 L611.7,444.5 L611.8,440.3 L611.9,445.6 L612.0,441.0 L612.1,443.4 L612.2,440.0 L612.3,444.0 L612.4,437.7 L612.5,445.4 L612.6,439.3 L612.7,443.6 L612.8,441.3 L612.9,444.3 L613.0,439.6 L613.1,444.4 L613.2,440.8 L613.3,445.7 L613.4,441.7 L613.5,443.4 L613.6,441.8 L613.7,444.7 L613.8,441.4 L613.9,444.3 L614.0,440.5 L614.1,444.8 L614.2,440.8 L614.3,443.5 L614.4,439.5 L614.5,445.9 L614.6,440.3 L614.7,444.0 L614.8,438.9 L614.9,443.5 L615.0,439.3 L615.1,445.1 L615.2,441.3 L615.3,445.0 L615.4,440.3 L615.5,443.1 L615.6,440.6 L615.7,445.6 L615.8,440.1 L615.9,443.5 L616.0,441.4 L616.1,445.3 L616.2,442.1 L616.3,445.3 L616.4,440.4 L616.5,444.3 L616.6,439.1 L616.7,444.6 L616.8,441.8 L616.9,446.0 L617.0,440.7 L617.1,445.2 L617.2,441.8 L617.3,445.9 L617.4,439.9 L617.5,443.9 L617.6,439.2 L617.7,445.9 L617.8,440.6 L617.9,444.0 L618.0,439.5 L618.1,443.1 L618.2,439.1 L618.3,446.2 L618.4,441.9 L618.5,446.1 L618.6,441.2 L618.7,445.7 L618.8,436.4 L618.9,443.7 L619.0,441.0 L619.1,446.2 L619.2,439.6 L619.3,447.9 L619.4,441.3 L619.5,445.5 L619.6,442.0 L619.7,444.0 L619.8,441.3 L619.9,443.3 L620.0,432.6 L620.1,457.6 L620.2,439.0 L620.3,444.8 L620.4,439.7 L620.5,445.1 L620.6,441.7 L620.7,444.9 L620.8,442.1 L620.9,444.4 L621.0,439.9 L621.1,444.0 L621.2,438.9 L621.3,445.9 L621.4,442.0 L621.5,445.2 L621.6,438.7 L621.7,444.5 L621.8,441.5 L621.9,444.6 L622.0,440.0 L622.1,445.3 L622.2,440.9 L622.3,445.7 L622.4,437.3 L622.5,447.0 L622.6,437.5 L622.7,446.8 L622.8,441.6 L622.9,444.3 L623.0,440.4 L623.1,449.0 L623.2,441.5 L623.3,447.6 L623.4,411.6 L623.5,462.9 L623.6,438.1 L623.7,448.8 L623.8,437.1 L623.9,445.3 L624.0,440.4 L624.1,445.2 L624.2,440.1 L624.3,445.5 L624.4,438.0 L624.5,446.5 L624.6,437.1 L624.7,452.2 L624.8,435.6 L624.9,444.7 L625.0,434.2 L625.1,447.7 L625.2,439.9 L625.3,417.5 L625.4,459.5 L625.5,447.0 L625.6,437.1 L625.7,445.3 L625.8,423.6 L625.9,448.9 L626.0,436.3 L626.1,447.7 L626.2,433.0 L626.3,453.5 L626.4,436.7 L626.5,444.1 L626.6,435.1 L626.7,448.0 L626.8,439.9 L626.9,449.4 L627.0,434.5 L627.1,451.5 L627.2,440.3 L627.3,454.1 L627.4,436.8 L627.5,454.0 L627.6,437.3 L627.7,453.9 L627.8,420.0 L627.9,457.6 L628.0,433.3 L628.1,451.4 L628.2,436.0 L628.3,444.1 L628.4,435.7 L628.5,450.8 L628.6,433.8 L628.7,448.2 L628.8,440.8 L628.9,451.6 L629.0,438.0 L629.1,447.6 L629.2,435.4 L629.3,444.5 L629.4,441.1 L629.5,454.4 L629.6,433.5 L629.7,452.7 L629.8,436.8 L629.9,448.4 L630.0,439.5 L630.1,444.5 L630.2,434.0 L630.3,400.0 L630.4,471.0 L630.5,444.8 L630.6,438.9 L630.7,449.0 L630.8,437.7 L630.9,446.6 L631.0,434.0 L631.1,445.0 L631.2,435.5 L631.3,450.4 L631.4,430.7 L631.5,446.3 L631.6,435.2 L631.7,452.1 L631.8,436.0 L631.9,450.6 L632.0,436.2 L632.1,448.9 L632.2,436.0 L632.3,449.7 L632.4,418.8 L632.5,465.2 L632.6,456.6 L632.7,445.2 L632.8,435.9 L632.9,452.7 L633.0,440.4 L633.1,444.3 L633.2,438.6 L633.3,446.8 L633.4,440.1 L633.5,446.7 L633.6,438.0 L633.7,446.1 L633.8,437.2 L633.9,447.8 L634.0,438.4 L634.1,444.9 L634.2,435.8 L634.3,449.4 L634.4,416.2 L634.5,457.0 L634.6,434.5 L634.7,449.9 L634.8,435.8 L634.9,448.4 L635.0,437.3 L635.1,449.4 L635.2,439.6 L635.3,445.9 L635.4,436.4 L635.5,446.4 L635.6,441.5 L635.7,447.5 L635.8,435.9 L635.9,447.1 L636.0,437.9 L636.1,450.6 L636.2,440.6 L636.3,445.1 L636.4,441.6 L636.5,446.4 L636.6,440.9 L636.7,447.9 L636.8,439.6 L636.9,444.3 L637.0,437.4 L637.1,448.9 L637.2,436.4 L637.3,446.1 L637.4,438.6 L637.5,447.9 L637.6,436.9 L637.7,449.7 L637.8,439.9 L637.9,444.9 L638.0,440.4 L638.1,445.1 L638.2,438.0 L638.3,447.1 L638.4,441.3 L638.5,446.9 L638.6,438.9 L638.7,446.0 L638.8,438.8 L638.9,443.7 L639.0,439.2 L639.1,443.6 L639.2,438.7 L639.3,445.7 L639.4,438.9 L639.5,443.9 L639.6,415.7 L639.7,456.7 L639.8,441.8 L639.9,444.4 L640.0,434.6 L640.1,452.6 L640.2,441.7 L640.3,443.3 L640.4,440.1 L640.5,443.8 L640.6,441.2 L640.7,443.2 L640.8,441.0 L640.9,448.3 L641.0,440.3 L641.1,443.1 L641.2,441.9 L641.3,445.8 L641.4,440.1 L641.5,443.6 L641.6,440.2 L641.7,445.5 L641.8,439.6 L641.9,445.1 L642.0,441.7 L642.1,445.7 L642.2,440.0 L642.3,445.6 L642.4,440.6 L642.5,445.7 L642.6,439.7 L642.7,444.1 L642.8,441.7 L642.9,447.1 L643.0,441.5 L643.1,444.1 L643.2,420.2 L643.3,456.3 L643.4,441.0 L643.5,445.2 L643.6,440.3 L643.7,443.6 L643.8,440.0 L643.9,445.6 L644.0,440.5 L644.1,443.2 L644.2,439.1 L644.3,446.0 L644.4,441.8 L644.5,444.4 L644.6,438.7 L644.7,446.1 L644.8,441.2 L644.9,447.1 L645.0,441.7 L645.1,447.8 L645.2,437.8 L645.3,446.7 L645.4,439.5 L645.5,447.6 L645.6,438.7 L645.7,444.0 L645.8,437.1 L645.9,447.8 L646.0,441.6 L646.1,448.9 L646.2,438.6 L646.3,447.4 L646.4,437.1 L646.5,449.5 L646.6,438.2 L646.7,445.4 L646.8,438.7 L646.9,449.9 L647.0,436.7 L647.1,448.1 L647.2,436.8 L647.3,448.1 L647.4,433.1 L647.5,452.7 L647.6,437.8 L647.7,405.1 L647.8,466.1 L647.9,446.9 L648.0,423.4 L648.1,410.4 L648.2,465.4 L648.3,450.3 L648.4,429.3 L648.5,445.9 L648.6,435.1 L648.7,455.5 L648.8,431.1 L648.9,452.5 L649.0,430.4 L649.1,444.8 L649.2,429.6 L649.3,452.9 L649.4,427.0 L649.5,447.9 L649.6,418.2 L649.7,470.6 L649.8,427.6 L649.9,456.5 L650.0,425.1 L650.1,385.8 L650.2,489.9 L650.3,453.3 L650.4,436.2 L650.5,452.9 L650.6,429.5 L650.7,409.6 L650.8,460.8 L650.9,450.5 L651.0,414.2 L651.1,462.5 L651.2,428.2 L651.3,449.6 L651.4,431.4 L651.5,452.8 L651.6,412.9 L651.7,462.6 L651.8,433.4 L651.9,449.9 L652.0,433.8 L652.1,450.3 L652.2,436.2 L652.3,415.3 L652.4,461.3 L652.5,444.5 L652.6,436.5 L652.7,451.9 L652.8,435.3 L652.9,446.0 L653.0,437.4 L653.1,444.5 L653.2,436.4 L653.3,446.5 L653.4,437.3 L653.5,450.4 L653.6,437.4 L653.7,448.9 L653.8,441.7 L653.9,445.6 L654.0,438.1 L654.1,444.6 L654.2,438.5 L654.3,445.4 L654.4,439.2 L654.5,443.8 L654.6,438.2 L654.7,444.6 L654.8,440.3 L654.9,444.0 L655.0,440.8 L655.1,443.9 L655.2,438.0 L655.3,446.3 L655.4,439.2 L655.5,444.2 L655.6,441.2 L655.7,446.1 L655.8,439.3 L655.9,443.6 L656.0,440.4 L656.1,444.9 L656.2,441.1 L656.3,443.9 L656.4,441.6 L656.5,444.6 L656.6,441.5 L656.7,444.7 L656.8,442.2 L656.9,444.3 L657.0,440.1 L657.1,443.3 L657.2,442.3 L657.3,444.8 L657.4,441.7 L657.5,444.4 L657.6,442.2 L657.7,444.2 L657.8,441.2 L657.9,443.0 L658.0,441.4 L658.1,445.6 L658.2,440.9 L658.3,443.8 L658.4,440.5 L658.5,445.0 L658.6,441.9 L658.7,445.4 L658.8,441.2 L658.9,444.6 L659.0,439.7 L659.1,444.9 L659.2,441.0 L659.3,445.0 L659.4,441.3 L659.5,443.5 L659.6,440.4 L659.7,444.1 L659.8,439.9 L659.9,443.1 L660.0,440.3 L660.1,444.2 L660.2,442.1 L660.3,444.1 L660.4,440.0 L660.5,445.4 L660.6,440.5 L660.7,444.9 L660.8,437.3 L660.9,448.1 L661.0,440.8 L661.1,443.5 L661.2,440.4 L661.3,443.1 L661.4,442.0 L661.5,444.4 L661.6,440.6 L661.7,443.3 L661.8,440.5 L661.9,445.0 L662.0,439.8 L662.1,444.2 L662.2,439.7 L662.3,443.5 L662.4,440.7 L662.5,443.6 L662.6,441.2 L662.7,444.6 L662.8,439.7 L662.9,445.4 L663.0,440.7 L663.1,443.2 L663.2,441.7 L663.3,443.4 L663.4,441.5 L663.5,444.1 L663.6,441.2 L663.7,444.1 L663.8,440.2 L663.9,444.0 L664.0,440.9 L664.1,444.2 L664.2,441.6 L664.3,446.0 L664.4,441.8 L664.5,443.2 L664.6,440.8 L664.7,444.6 L664.8,442.0 L664.9,444.2 L665.0,442.0 L665.1,443.8 L665.2,440.7 L665.3,444.5 L665.4,441.2 L665.5,446.9 L665.6,440.3 L665.7,443.4 L665.8,437.8 L665.9,443.5 L666.0,440.2 L666.1,444.3 L666.2,440.1 L666.3,443.7 L666.4,440.3 L666.5,443.7 L666.6,440.7 L666.7,444.6 L666.8,440.4 L666.9,444.4 L667.0,441.3 L667.1,442.9 L667.2,440.6 L667.3,444.2 L667.4,442.0 L667.5,444.5 L667.6,441.4 L667.7,444.4 L667.8,441.3 L667.9,444.7 L668.0,440.6 L668.1,444.9 L668.2,440.3 L668.3,442.9 L668.4,440.9 L668.5,445.2 L668.6,442.2 L668.7,446.6 L668.8,441.6 L668.9,445.8 L669.0,442.1 L669.1,444.5 L669.2,440.2 L669.3,444.7 L669.4,440.6 L669.5,445.1 L669.6,440.9 L669.7,443.5 L669.8,440.9 L669.9,445.0 L670.0,441.5 L670.1,444.0 L670.2,440.2 L670.3,443.1 L670.4,442.1 L670.5,443.8 L670.6,440.1 L670.7,443.3 L670.8,440.8 L670.9,444.7 L671.0,441.7 L671.1,445.1 L671.2,440.3 L671.3,443.0 L671.4,441.1 L671.5,444.0 L671.6,440.4 L671.7,443.0 L671.8,441.4 L671.9,443.1 L672.0,441.0 L672.1,443.1 L672.2,440.3 L672.3,443.8 L672.4,442.3 L672.5,443.7 L672.6,440.9 L672.7,443.5 L672.8,441.9 L672.9,444.8 L673.0,440.9 L673.1,443.0 L673.2,440.6 L673.3,443.1 L673.4,440.4 L673.5,444.9 L673.6,441.6 L673.7,442.9 L673.8,441.0 L673.9,444.3 L674.0,440.5 L674.1,445.1 L674.2,441.8 L674.3,445.2 L674.4,442.0 L674.5,445.4 L674.6,441.6 L674.7,444.5 L674.8,441.6 L674.9,443.1 L675.0,440.9 L675.1,443.6 L675.2,440.5 L675.3,443.8 L675.4,439.9 L675.5,444.5 L675.6,440.9 L675.7,444.3 L675.8,440.6 L675.9,444.5 L676.0,440.7 L676.1,443.6 L676.2,440.0 L676.3,445.5 L676.4,441.5 L676.5,444.8 L676.6,438.3 L676.7,444.1 L676.8,440.1 L676.9,443.6 L677.0,442.1 L677.1,443.6 L677.2,440.0 L677.3,443.4 L677.4,440.4 L677.5,444.6 L677.6,440.6 L677.7,443.9 L677.8,439.7 L677.9,445.2 L678.0,441.2 L678.1,443.1 L678.2,441.0 L678.3,443.1 L678.4,441.8 L678.5,443.6 L678.6,441.0 L678.7,444.3 L678.8,441.2 L678.9,443.0 L679.0,441.9 L679.1,444.4 L679.2,442.3 L679.3,444.7 L679.4,440.9 L679.5,444.2 L679.6,440.3 L679.7,443.8 L679.8,440.9 L679.9,443.9 L680.0,440.5 L680.1,444.3 L680.2,440.9 L680.3,444.0 L680.4,440.1 L680.5,444.3 L680.6,441.7 L680.7,443.2 L680.8,439.9 L680.9,445.3 L681.0,440.5 L681.1,445.0 L681.2,439.7 L681.3,445.0 L681.4,441.3 L681.5,447.3 L681.6,440.5 L681.7,443.6 L681.8,440.6 L681.9,445.7 L682.0,439.4 L682.1,444.1 L682.2,439.4 L682.3,443.8 L682.4,441.1 L682.5,443.7 L682.6,441.1 L682.7,446.0 L682.8,441.5 L682.9,443.7 L683.0,441.1 L683.1,445.7 L683.2,441.2 L683.3,444.2 L683.4,440.7 L683.5,445.5 L683.6,441.1 L683.7,445.2 L683.8,439.8 L683.9,443.5 L684.0,439.6 L684.1,443.9 L684.2,440.7 L684.3,443.1 L684.4,439.6 L684.5,443.3 L684.6,439.5 L684.7,444.5 L684.8,440.2 L684.9,444.9 L685.0,442.1 L685.1,444.9 L685.2,441.6 L685.3,443.2 L685.4,439.7 L685.5,443.6 L685.6,439.9 L685.7,443.6 L685.8,440.3 L685.9,445.0 L686.0,440.1 L686.1,444.2 L686.2,440.0 L686.3,443.5 L686.4,442.2 L686.5,444.9 L686.6,440.0 L686.7,443.9 L686.8,441.8 L686.9,443.5 L687.0,441.0 L687.1,445.2 L687.2,440.4 L687.3,444.8 L687.4,441.4 L687.5,443.6 L687.6,440.7 L687.7,445.0 L687.8,440.8 L687.9,445.1 L688.0,441.3 L688.1,443.7 L688.2,442.1 L688.3,443.6 L688.4,440.4 L688.5,447.0 L688.6,441.6 L688.7,443.9 L688.8,441.9 L688.9,444.3 L689.0,441.0 L689.1,446.0 L689.2,439.5 L689.3,446.2 L689.4,441.6 L689.5,444.4 L689.6,438.6 L689.7,444.2 L689.8,440.5 L689.9,443.7 L690.0,441.9 L690.1,446.3 L690.2,439.9 L690.3,445.3 L690.4,439.5 L690.5,452.8 L690.6,441.2 L690.7,424.3 L690.8,457.6 L690.9,444.0 L691.0,419.9 L691.1,460.3 L691.2,440.9 L691.3,446.5 L691.4,440.8 L691.5,448.3 L691.6,434.9 L691.7,445.2 L691.8,433.4 L691.9,459.3 L692.0,431.9 L692.1,449.0 L692.2,435.8 L692.3,444.2 L692.4,432.0 L692.5,452.3 L692.6,434.3 L692.7,452.4 L692.8,438.5 L692.9,453.1 L693.0,433.1 L693.1,446.7 L693.2,432.3 L693.3,450.8 L693.4,432.4 L693.5,446.2 L693.6,430.6 L693.7,449.2 L693.8,430.3 L693.9,456.8 L694.0,440.3 L694.1,452.9 L694.2,440.5 L694.3,448.7 L694.4,425.5 L694.5,462.6 L694.6,430.8 L694.7,451.0 L694.8,435.6 L694.9,446.4 L695.0,431.6 L695.1,458.2 L695.2,433.7 L695.3,417.5 L695.4,464.0 L695.5,421.2 L695.6,458.0 L695.7,457.8 L695.8,438.6 L695.9,458.7 L696.0,428.8 L696.1,471.6 L696.2,438.8 L696.3,452.3 L696.4,429.5 L696.5,417.8 L696.6,457.6 L696.7,458.8 L696.8,438.7 L696.9,408.0 L697.0,470.0 L697.1,456.6 L697.2,427.7 L697.3,415.9 L697.4,461.9 L697.5,457.4 L697.6,431.9 L697.7,453.8 L697.8,439.6 L697.9,448.7 L698.0,427.1 L698.1,453.8 L698.2,424.4 L698.3,457.6 L698.4,421.9 L698.5,449.7 L698.6,433.3 L698.7,448.0 L698.8,437.9 L698.9,451.2 L699.0,434.4 L699.1,454.0 L699.2,432.0 L699.3,449.0 L699.4,437.7 L699.5,452.1 L699.6,438.5 L699.7,447.9 L699.8,435.1 L699.9,452.7 L700.0,436.5 L700.1,448.1 L700.2,433.7 L700.3,451.6 L700.4,435.0 L700.5,451.8 L700.6,436.8 L700.7,453.0 L700.8,435.1 L700.9,446.4 L701.0,439.1 L701.1,450.3 L701.2,440.8 L701.3,448.5 L701.4,435.6 L701.5,447.4 L701.6,426.2 L701.7,450.4 L701.8,437.1 L701.9,447.5 L702.0,436.6 L702.1,454.6 L702.2,435.6 L702.3,445.9 L702.4,439.2 L702.5,447.3 L702.6,436.9 L702.7,447.5 L702.8,435.9 L702.9,446.6 L703.0,439.2 L703.1,447.2 L703.2,436.4 L703.3,447.0 L703.4,438.9 L703.5,446.3 L703.6,441.7 L703.7,443.5 L703.8,439.3 L703.9,444.3 L704.0,438.6 L704.1,445.7 L704.2,438.6 L704.3,446.3 L704.4,440.1 L704.5,446.4 L704.6,440.7 L704.7,446.2 L704.8,440.0 L704.9,446.3 L705.0,436.6 L705.1,450.6 L705.2,439.3 L705.3,445.5 L705.4,439.6 L705.5,444.8 L705.6,439.7 L705.7,443.6 L705.8,440.8 L705.9,443.3 L706.0,440.2 L706.1,444.8 L706.2,441.0 L706.3,444.3 L706.4,441.1 L706.5,444.3 L706.6,440.5 L706.7,443.9 L706.8,441.2 L706.9,443.4 L707.0,441.7 L707.1,443.4 L707.2,441.2 L707.3,443.4 L707.4,441.6 L707.5,445.5 L707.6,440.5 L707.7,444.9 L707.8,439.9 L707.9,443.5 L708.0,441.2 L708.1,444.3 L708.2,439.8 L708.3,444.8 L708.4,440.1 L708.5,446.2 L708.6,441.3 L708.7,444.5 L708.8,441.5 L708.9,445.0 L709.0,440.4 L709.1,443.9 L709.2,440.5 L709.3,443.5 L709.4,440.0 L709.5,443.4 L709.6,440.8 L709.7,444.1 L709.8,442.0 L709.9,444.4 L710.0,442.2 L710.1,443.1 L710.2,441.4 L710.3,445.4 L710.4,442.1 L710.5,443.4 L710.6,441.5 L710.7,444.8 L710.8,440.5 L710.9,445.4 L711.0,440.9 L711.1,444.1 L711.2,439.7 L711.3,444.2 L711.4,441.6 L711.5,443.5 L711.6,441.7 L711.7,444.5 L711.8,441.1 L711.9,443.1 L712.0,439.7 L712.1,443.1 L712.2,440.2 L712.3,444.8 L712.4,440.1 L712.5,445.5 L712.6,440.3 L712.7,443.2 L712.8,441.8 L712.9,445.3 L713.0,440.9 L713.1,445.6 L713.2,442.0 L713.3,445.5 L713.4,442.1 L713.5,445.3 L713.6,441.3 L713.7,445.0 L713.8,442.1 L713.9,443.6 L714.0,440.1 L714.1,443.9 L714.2,441.9 L714.3,444.3 L714.4,440.0 L714.5,446.2 L714.6,442.0 L714.7,446.1 L714.8,442.1 L714.9,444.9 L715.0,440.7 L715.1,444.9 L715.2,439.5 L715.3,446.4 L715.4,441.9 L715.5,445.3 L715.6,441.3 L715.7,444.6 L715.8,441.6 L715.9,444.5 L716.0,440.7 L716.1,444.0 L716.2,441.3 L716.3,449.1 L716.4,440.2 L716.5,444.4 L716.6,442.0 L716.7,443.2 L716.8,441.4 L716.9,445.3 L717.0,439.8 L717.1,444.8 L717.2,441.1 L717.3,445.5 L717.4,440.2 L717.5,444.4 L717.6,440.5 L717.7,445.6 L717.8,441.0 L717.9,445.4 L718.0,439.7 L718.1,443.1 L718.2,441.0 L718.3,445.2 L718.4,441.2 L718.5,443.3 L718.6,440.5 L718.7,445.4 L718.8,441.4 L718.9,445.0 L719.0,439.8 L719.1,444.4 L719.2,440.0 L719.3,444.4 L719.4,440.9 L719.5,444.6 L719.6,441.1 L719.7,445.2 L719.8,440.5 L719.9,444.7 L720.0,440.1 L720.1,444.0 L720.2,440.6 L720.3,445.1 L720.4,439.9 L720.5,444.8 L720.6,441.7 L720.7,444.4 L720.8,442.0 L720.9,443.7 L721.0,441.8 L721.1,443.2 L721.2,441.7 L721.3,443.3 L721.4,440.2 L721.5,444.2 L721.6,441.2 L721.7,443.6 L721.8,440.2 L721.9,444.0 L722.0,440.5 L722.1,443.7 L722.2,442.0 L722.3,445.1 L722.4,440.2 L722.5,445.0 L722.6,439.9 L722.7,444.3 L722.8,441.5 L722.9,445.6 L723.0,440.9 L723.1,448.0 L723.2,441.9 L723.3,443.1 L723.4,441.8 L723.5,445.7 L723.6,440.2 L723.7,445.1 L723.8,439.7 L723.9,445.9 L724.0,440.8 L724.1,443.4 L724.2,439.9 L724.3,445.5 L724.4,440.1 L724.5,443.6 L724.6,440.0 L724.7,446.6 L724.8,439.9 L724.9,445.1 L725.0,439.4 L725.1,443.8 L725.2,441.1 L725.3,443.1 L725.4,438.3 L725.5,444.2 L725.6,439.8 L725.7,443.4 L725.8,440.5 L725.9,445.3 L726.0,440.9 L726.1,444.6 L726.2,439.8 L726.3,445.1 L726.4,442.2 L726.5,444.4 L726.6,441.4 L726.7,444.0 L726.8,441.7 L726.9,445.1 L727.0,440.8 L727.1,443.8 L727.2,440.8 L727.3,443.3 L727.4,440.5 L727.5,444.7 L727.6,440.9 L727.7,443.2 L727.8,441.0 L727.9,442.9 L728.0,442.1 L728.1,443.8 L728.2,441.9 L728.3,444.1 L728.4,441.0 L728.5,443.9 L728.6,441.9 L728.7,444.7 L728.8,440.8 L728.9,444.6 L729.0,442.1 L729.1,443.0 L729.2,442.3 L729.3,444.1 L729.4,440.7 L729.5,443.6 L729.6,440.5 L729.7,444.3 L729.8,441.8 L729.9,444.3 L730.0,441.5 L730.1,443.1 L730.2,442.3 L730.3,443.0 L730.4,442.0 L730.5,444.1 L730.6,441.8 L730.7,443.2 L730.8,441.5 L730.9,443.0 L731.0,441.2 L731.1,443.4 L731.2,441.2 L731.3,444.0 L731.4,440.7 L731.5,443.5 L731.6,440.6 L731.7,443.0 L731.8,440.2 L731.9,443.6 L732.0,442.3 L732.1,443.7 L732.2,440.5 L732.3,443.4 L732.4,441.9 L732.5,444.8 L732.6,440.5 L732.7,444.0 L732.8,440.2 L732.9,444.8 L733.0,442.1 L733.1,443.6 L733.2,440.8 L733.3,443.8 L733.4,441.5 L733.5,444.1 L733.6,441.6 L733.7,445.7 L733.8,439.9 L733.9,444.5 L734.0,439.6 L734.1,444.0 L734.2,440.2 L734.3,444.4 L734.4,441.6 L734.5,444.0 L734.6,441.0 L734.7,443.1 L734.8,440.7 L734.9,443.5 L735.0,440.0 L735.1,443.2 L735.2,440.7 L735.3,444.0 L735.4,439.8 L735.5,443.8 L735.6,440.0 L735.7,443.1 L735.8,441.4 L735.9,443.3 L736.0,441.7 L736.1,444.6 L736.2,439.8 L736.3,443.0 L736.4,441.5 L736.5,445.1 L736.6,441.2 L736.7,443.0 L736.8,440.6 L736.9,444.0 L737.0,439.5 L737.1,443.4 L737.2,440.4 L737.3,444.5 L737.4,439.6 L737.5,445.4 L737.6,440.7 L737.7,443.6 L737.8,440.4 L737.9,443.1 L738.0,440.9 L738.1,444.7 L738.2,441.0 L738.3,444.9 L738.4,441.5 L738.5,444.8 L738.6,441.4 L738.7,445.6 L738.8,440.6 L738.9,443.9 L739.0,441.1 L739.1,443.1 L739.2,440.9 L739.3,443.2 L739.4,440.6 L739.5,444.3 L739.6,439.8 L739.7,443.6 L739.8,439.7 L739.9,444.1 L740.0,441.9 L740.1,444.9 L740.2,441.9 L740.3,443.6 L740.4,439.6 L740.5,444.2 L740.6,440.1 L740.7,446.5 L740.8,441.5 L740.9,445.0 L741.0,442.0 L741.1,443.0 L741.2,441.6 L741.3,443.0 L741.4,438.3 L741.5,445.3 L741.6,440.5 L741.7,444.1 L741.8,440.9 L741.9,444.7 L742.0,441.6 L742.1,444.4 L742.2,440.0 L742.3,444.8 L742.4,441.7 L742.5,444.7 L742.6,441.6 L742.7,444.6 L742.8,442.0 L742.9,445.0 L743.0,440.7 L743.1,444.6 L743.2,440.5 L743.3,443.9 L743.4,442.0 L743.5,445.0 L743.6,440.3 L743.7,443.9 L743.8,440.1 L743.9,444.1 L744.0,441.0 L744.1,445.9 L744.2,441.2 L744.3,444.1 L744.4,439.8 L744.5,443.1 L744.6,441.2 L744.7,444.8 L744.8,440.3 L744.9,443.8 L745.0,438.9 L745.1,444.0 L745.2,440.0 L745.3,445.0 L745.4,442.1 L745.5,444.1 L745.6,439.8 L745.7,445.0 L745.8,439.4 L745.9,445.1 L746.0,440.8 L746.1,443.5 L746.2,439.4 L746.3,443.3 L746.4,441.5 L746.5,444.6 L746.6,440.9 L746.7,443.7 L746.8,440.3 L746.9,447.7 L747.0,440.2 L747.1,445.9 L747.2,440.6 L747.3,443.1 L747.4,440.0 L747.5,444.8 L747.6,441.6 L747.7,444.4 L747.8,442.2 L747.9,444.3 L748.0,440.8 L748.1,445.5 L748.2,441.6" fill="none" stroke="#f00000" stroke-width="0.55" stroke-linejoin="bevel"/>
<text x="2.6" y="533.8" font-size="18" fill="#000" font-weight="bold">I</text>
<rect x="52.70" y="542.00" width="34.30" height="19.80" fill="#76f6f8" stroke="none" stroke-width="1" />
<text x="18.5" y="558.5" font-size="13.8" fill="#111" textLength="27.2" lengthAdjust="spacingAndGlyphs">OFF</text>
<text x="60.5" y="558.5" font-size="13.8" fill="#111" textLength="19.9" lengthAdjust="spacingAndGlyphs">ON</text>
<text x="93.3" y="558.5" font-size="13.8" fill="#111" textLength="27.7" lengthAdjust="spacingAndGlyphs">OFF</text>
<rect x="13.65" y="563.35" width="5.19" height="16.14" fill="#9cc0e6" stroke="none" stroke-width="1" />
<rect x="13.65" y="579.14" width="5.19" height="16.14" fill="#9cc0e6" stroke="none" stroke-width="1" />
<rect x="13.65" y="594.93" width="5.19" height="16.14" fill="#9cc0e6" stroke="none" stroke-width="1" />
<rect x="13.65" y="610.72" width="5.19" height="16.14" fill="#9cc0e6" stroke="none" stroke-width="1" />
<rect x="13.65" y="626.51" width="5.19" height="16.14" fill="#9cc0e6" stroke="none" stroke-width="1" />
<rect x="13.65" y="642.30" width="5.19" height="16.14" fill="#fce5e7" stroke="none" stroke-width="1" />
<rect x="13.65" y="658.09" width="5.19" height="16.14" fill="#fbced0" stroke="none" stroke-width="1" />
<rect x="13.65" y="673.88" width="5.19" height="16.14" fill="#fdfdff" stroke="none" stroke-width="1" />
<rect x="18.49" y="563.35" width="5.19" height="16.14" fill="#cddff3" stroke="none" stroke-width="1" />
<rect x="18.49" y="579.14" width="5.19" height="16.14" fill="#cddff3" stroke="none" stroke-width="1" />
<rect x="18.49" y="594.93" width="5.19" height="16.14" fill="#fab6b8" stroke="none" stroke-width="1" />
<rect x="18.49" y="610.72" width="5.19" height="16.14" fill="#fdfdff" stroke="none" stroke-width="1" />
<rect x="18.49" y="626.51" width="5.19" height="16.14" fill="#fdfdff" stroke="none" stroke-width="1" />
<rect x="18.49" y="642.30" width="5.19" height="16.14" fill="#fab6b8" stroke="none" stroke-width="1" />
<rect x="18.49" y="658.09" width="5.19" height="16.14" fill="#fceaec" stroke="none" stroke-width="1" />
<rect x="18.49" y="673.88" width="5.19" height="16.14" fill="#fceaec" stroke="none" stroke-width="1" />
<rect x="23.32" y="563.35" width="5.19" height="16.14" fill="#e5eef9" stroke="none" stroke-width="1" />
<rect x="23.32" y="579.14" width="5.19" height="16.14" fill="#b5d0ed" stroke="none" stroke-width="1" />
<rect x="23.32" y="594.93" width="5.19" height="16.14" fill="#c5daf1" stroke="none" stroke-width="1" />
<rect x="23.32" y="610.72" width="5.19" height="16.14" fill="#cddff3" stroke="none" stroke-width="1" />
<rect x="23.32" y="626.51" width="5.19" height="16.14" fill="#cddff3" stroke="none" stroke-width="1" />
<rect x="23.32" y="642.30" width="5.19" height="16.14" fill="#c5daf1" stroke="none" stroke-width="1" />
<rect x="23.32" y="658.09" width="5.19" height="16.14" fill="#c5daf1" stroke="none" stroke-width="1" />
<rect x="23.32" y="673.88" width="5.19" height="16.14" fill="#94bbe4" stroke="none" stroke-width="1" />
<rect x="28.16" y="563.35" width="5.19" height="16.14" fill="#b5d0ed" stroke="none" stroke-width="1" />
<rect x="28.16" y="579.14" width="5.19" height="16.14" fill="#b5d0ed" stroke="none" stroke-width="1" />
<rect x="28.16" y="594.93" width="5.19" height="16.14" fill="#accaea" stroke="none" stroke-width="1" />
<rect x="28.16" y="610.72" width="5.19" height="16.14" fill="#a4c5e8" stroke="none" stroke-width="1" />
<rect x="28.16" y="626.51" width="5.19" height="16.14" fill="#9cc0e6" stroke="none" stroke-width="1" />
<rect x="28.16" y="642.30" width="5.19" height="16.14" fill="#9cc0e6" stroke="none" stroke-width="1" />
<rect x="28.16" y="658.09" width="5.19" height="16.14" fill="#94bbe4" stroke="none" stroke-width="1" />
<rect x="28.16" y="673.88" width="5.19" height="16.14" fill="#94bbe4" stroke="none" stroke-width="1" />
<rect x="33.00" y="563.35" width="5.19" height="16.14" fill="#cddff3" stroke="none" stroke-width="1" />
<rect x="33.00" y="579.14" width="5.19" height="16.14" fill="#d5e4f5" stroke="none" stroke-width="1" />
<rect x="33.00" y="594.93" width="5.19" height="16.14" fill="#bdd5ef" stroke="none" stroke-width="1" />
<rect x="33.00" y="610.72" width="5.19" height="16.14" fill="#bdd5ef" stroke="none" stroke-width="1" />
<rect x="33.00" y="626.51" width="5.19" height="16.14" fill="#a4c5e8" stroke="none" stroke-width="1" />
<rect x="33.00" y="642.30" width="5.19" height="16.14" fill="#9cc0e6" stroke="none" stroke-width="1" />
<rect x="33.00" y="658.09" width="5.19" height="16.14" fill="#8cb6e2" stroke="none" stroke-width="1" />
<rect x="33.00" y="673.88" width="5.19" height="16.14" fill="#9cc0e6" stroke="none" stroke-width="1" />
<rect x="37.84" y="563.35" width="5.19" height="16.14" fill="#cddff3" stroke="none" stroke-width="1" />
<rect x="37.84" y="579.14" width="5.19" height="16.14" fill="#fdfdff" stroke="none" stroke-width="1" />
<rect x="37.84" y="594.93" width="5.19" height="16.14" fill="#bdd5ef" stroke="none" stroke-width="1" />
<rect x="37.84" y="610.72" width="5.19" height="16.14" fill="#bdd5ef" stroke="none" stroke-width="1" />
<rect x="37.84" y="626.51" width="5.19" height="16.14" fill="#bdd5ef" stroke="none" stroke-width="1" />
<rect x="37.84" y="642.30" width="5.19" height="16.14" fill="#fdf5f7" stroke="none" stroke-width="1" />
<rect x="37.84" y="658.09" width="5.19" height="16.14" fill="#fdfdff" stroke="none" stroke-width="1" />
<rect x="37.84" y="673.88" width="5.19" height="16.14" fill="#e5eef9" stroke="none" stroke-width="1" />
<rect x="42.68" y="563.35" width="5.19" height="16.14" fill="#bdd5ef" stroke="none" stroke-width="1" />
<rect x="42.68" y="579.14" width="5.19" height="16.14" fill="#fdfdff" stroke="none" stroke-width="1" />
<rect x="42.68" y="594.93" width="5.19" height="16.14" fill="#f77f81" stroke="none" stroke-width="1" />
<rect x="42.68" y="610.72" width="5.19" height="16.14" fill="#f77f81" stroke="none" stroke-width="1" />
<rect x="42.68" y="626.51" width="5.19" height="16.14" fill="#fce5e7" stroke="none" stroke-width="1" />
<rect x="42.68" y="642.30" width="5.19" height="16.14" fill="#9cc0e6" stroke="none" stroke-width="1" />
<rect x="42.68" y="658.09" width="5.19" height="16.14" fill="#9cc0e6" stroke="none" stroke-width="1" />
<rect x="42.68" y="673.88" width="5.19" height="16.14" fill="#a4c5e8" stroke="none" stroke-width="1" />
<rect x="47.51" y="563.35" width="5.19" height="16.14" fill="#fce5e7" stroke="none" stroke-width="1" />
<rect x="47.51" y="579.14" width="5.19" height="16.14" fill="#8cb6e2" stroke="none" stroke-width="1" />
<rect x="47.51" y="594.93" width="5.19" height="16.14" fill="#94bbe4" stroke="none" stroke-width="1" />
<rect x="47.51" y="610.72" width="5.19" height="16.14" fill="#94bbe4" stroke="none" stroke-width="1" />
<rect x="47.51" y="626.51" width="5.19" height="16.14" fill="#8cb6e2" stroke="none" stroke-width="1" />
<rect x="47.51" y="642.30" width="5.19" height="16.14" fill="#8cb6e2" stroke="none" stroke-width="1" />
<rect x="47.51" y="658.09" width="5.19" height="16.14" fill="#8cb6e2" stroke="none" stroke-width="1" />
<rect x="47.51" y="673.88" width="5.19" height="16.14" fill="#94bbe4" stroke="none" stroke-width="1" />
<rect x="52.35" y="563.35" width="5.32" height="16.14" fill="#84b1e0" stroke="none" stroke-width="1" />
<rect x="52.35" y="579.14" width="5.32" height="16.14" fill="#8cb6e2" stroke="none" stroke-width="1" />
<rect x="52.35" y="594.93" width="5.32" height="16.14" fill="#8cb6e2" stroke="none" stroke-width="1" />
<rect x="52.35" y="610.72" width="5.32" height="16.14" fill="#8cb6e2" stroke="none" stroke-width="1" />
<rect x="52.35" y="626.51" width="5.32" height="16.14" fill="#8cb6e2" stroke="none" stroke-width="1" />
<rect x="52.35" y="642.30" width="5.32" height="16.14" fill="#8cb6e2" stroke="none" stroke-width="1" />
<rect x="52.35" y="658.09" width="5.32" height="16.14" fill="#b5d0ed" stroke="none" stroke-width="1" />
<rect x="52.35" y="673.88" width="5.32" height="16.14" fill="#94bbe4" stroke="none" stroke-width="1" />
<rect x="57.32" y="563.35" width="5.32" height="16.14" fill="#7cacde" stroke="none" stroke-width="1" />
<rect x="57.32" y="579.14" width="5.32" height="16.14" fill="#7cacde" stroke="none" stroke-width="1" />
<rect x="57.32" y="594.93" width="5.32" height="16.14" fill="#7cacde" stroke="none" stroke-width="1" />
<rect x="57.32" y="610.72" width="5.32" height="16.14" fill="#7cacde" stroke="none" stroke-width="1" />
<rect x="57.32" y="626.51" width="5.32" height="16.14" fill="#7cacde" stroke="none" stroke-width="1" />
<rect x="57.32" y="642.30" width="5.32" height="16.14" fill="#7cacde" stroke="none" stroke-width="1" />
<rect x="57.32" y="658.09" width="5.32" height="16.14" fill="#7cacde" stroke="none" stroke-width="1" />
<rect x="57.32" y="673.88" width="5.32" height="16.14" fill="#94bbe4" stroke="none" stroke-width="1" />
<rect x="62.29" y="563.35" width="5.32" height="16.14" fill="#84b1e0" stroke="none" stroke-width="1" />
<rect x="62.29" y="579.14" width="5.32" height="16.14" fill="#84b1e0" stroke="none" stroke-width="1" />
<rect x="62.29" y="594.93" width="5.32" height="16.14" fill="#84b1e0" stroke="none" stroke-width="1" />
<rect x="62.29" y="610.72" width="5.32" height="16.14" fill="#84b1e0" stroke="none" stroke-width="1" />
<rect x="62.29" y="626.51" width="5.32" height="16.14" fill="#84b1e0" stroke="none" stroke-width="1" />
<rect x="62.29" y="642.30" width="5.32" height="16.14" fill="#84b1e0" stroke="none" stroke-width="1" />
<rect x="62.29" y="658.09" width="5.32" height="16.14" fill="#84b1e0" stroke="none" stroke-width="1" />
<rect x="62.29" y="673.88" width="5.32" height="16.14" fill="#9cc0e6" stroke="none" stroke-width="1" />
<rect x="67.26" y="563.35" width="5.32" height="16.14" fill="#fdfdff" stroke="none" stroke-width="1" />
<rect x="67.26" y="579.14" width="5.32" height="16.14" fill="#fce5e7" stroke="none" stroke-width="1" />
<rect x="67.26" y="594.93" width="5.32" height="16.14" fill="#fdfdff" stroke="none" stroke-width="1" />
<rect x="67.26" y="610.72" width="5.32" height="16.14" fill="#fdfdff" stroke="none" stroke-width="1" />
<rect x="67.26" y="626.51" width="5.32" height="16.14" fill="#fce5e7" stroke="none" stroke-width="1" />
<rect x="67.26" y="642.30" width="5.32" height="16.14" fill="#fdfdff" stroke="none" stroke-width="1" />
<rect x="67.26" y="658.09" width="5.32" height="16.14" fill="#fdfdff" stroke="none" stroke-width="1" />
<rect x="67.26" y="673.88" width="5.32" height="16.14" fill="#c5daf1" stroke="none" stroke-width="1" />
<rect x="72.24" y="563.35" width="5.32" height="16.14" fill="#accaea" stroke="none" stroke-width="1" />
<rect x="72.24" y="579.14" width="5.32" height="16.14" fill="#accaea" stroke="none" stroke-width="1" />
<rect x="72.24" y="594.93" width="5.32" height="16.14" fill="#9cc0e6" stroke="none" stroke-width="1" />
<rect x="72.24" y="610.72" width="5.32" height="16.14" fill="#9cc0e6" stroke="none" stroke-width="1" />
<rect x="72.24" y="626.51" width="5.32" height="16.14" fill="#9cc0e6" stroke="none" stroke-width="1" />
<rect x="72.24" y="642.30" width="5.32" height="16.14" fill="#9cc0e6" stroke="none" stroke-width="1" />
<rect x="72.24" y="658.09" width="5.32" height="16.14" fill="#9cc0e6" stroke="none" stroke-width="1" />
<rect x="72.24" y="673.88" width="5.32" height="16.14" fill="#c5daf1" stroke="none" stroke-width="1" />
<rect x="77.21" y="563.35" width="5.32" height="16.14" fill="#b5d0ed" stroke="none" stroke-width="1" />
<rect x="77.21" y="579.14" width="5.32" height="16.14" fill="#cddff3" stroke="none" stroke-width="1" />
<rect x="77.21" y="594.93" width="5.32" height="16.14" fill="#fdfdff" stroke="none" stroke-width="1" />
<rect x="77.21" y="610.72" width="5.32" height="16.14" fill="#fabec0" stroke="none" stroke-width="1" />
<rect x="77.21" y="626.51" width="5.32" height="16.14" fill="#fbd6d8" stroke="none" stroke-width="1" />
<rect x="77.21" y="642.30" width="5.32" height="16.14" fill="#fcedef" stroke="none" stroke-width="1" />
<rect x="77.21" y="658.09" width="5.32" height="16.14" fill="#fdf5f7" stroke="none" stroke-width="1" />
<rect x="77.21" y="673.88" width="5.32" height="16.14" fill="#b5d0ed" stroke="none" stroke-width="1" />
<rect x="82.18" y="563.35" width="5.32" height="16.14" fill="#fdfdff" stroke="none" stroke-width="1" />
<rect x="82.18" y="579.14" width="5.32" height="16.14" fill="#cddff3" stroke="none" stroke-width="1" />
<rect x="82.18" y="594.93" width="5.32" height="16.14" fill="#c5daf1" stroke="none" stroke-width="1" />
<rect x="82.18" y="610.72" width="5.32" height="16.14" fill="#fdfdff" stroke="none" stroke-width="1" />
<rect x="82.18" y="626.51" width="5.32" height="16.14" fill="#fdfdff" stroke="none" stroke-width="1" />
<rect x="82.18" y="642.30" width="5.32" height="16.14" fill="#fdfdff" stroke="none" stroke-width="1" />
<rect x="82.18" y="658.09" width="5.32" height="16.14" fill="#cddff3" stroke="none" stroke-width="1" />
<rect x="82.18" y="673.88" width="5.32" height="16.14" fill="#b5d0ed" stroke="none" stroke-width="1" />
<rect x="87.15" y="563.35" width="5.16" height="16.14" fill="#94bbe4" stroke="none" stroke-width="1" />
<rect x="87.15" y="579.14" width="5.16" height="16.14" fill="#94bbe4" stroke="none" stroke-width="1" />
<rect x="87.15" y="594.93" width="5.16" height="16.14" fill="#94bbe4" stroke="none" stroke-width="1" />
<rect x="87.15" y="610.72" width="5.16" height="16.14" fill="#94bbe4" stroke="none" stroke-width="1" />
<rect x="87.15" y="626.51" width="5.16" height="16.14" fill="#94bbe4" stroke="none" stroke-width="1" />
<rect x="87.15" y="642.30" width="5.16" height="16.14" fill="#94bbe4" stroke="none" stroke-width="1" />
<rect x="87.15" y="658.09" width="5.16" height="16.14" fill="#94bbe4" stroke="none" stroke-width="1" />
<rect x="87.15" y="673.88" width="5.16" height="16.14" fill="#94bbe4" stroke="none" stroke-width="1" />
<rect x="91.96" y="563.35" width="5.16" height="16.14" fill="#fab6b8" stroke="none" stroke-width="1" />
<rect x="91.96" y="579.14" width="5.16" height="16.14" fill="#fcdee0" stroke="none" stroke-width="1" />
<rect x="91.96" y="594.93" width="5.16" height="16.14" fill="#b5d0ed" stroke="none" stroke-width="1" />
<rect x="91.96" y="610.72" width="5.16" height="16.14" fill="#94bbe4" stroke="none" stroke-width="1" />
<rect x="91.96" y="626.51" width="5.16" height="16.14" fill="#94bbe4" stroke="none" stroke-width="1" />
<rect x="91.96" y="642.30" width="5.16" height="16.14" fill="#9cc0e6" stroke="none" stroke-width="1" />
<rect x="91.96" y="658.09" width="5.16" height="16.14" fill="#accaea" stroke="none" stroke-width="1" />
<rect x="91.96" y="673.88" width="5.16" height="16.14" fill="#9cc0e6" stroke="none" stroke-width="1" />
<rect x="96.78" y="563.35" width="5.16" height="16.14" fill="#edf3fb" stroke="none" stroke-width="1" />
<rect x="96.78" y="579.14" width="5.16" height="16.14" fill="#b5d0ed" stroke="none" stroke-width="1" />
<rect x="96.78" y="594.93" width="5.16" height="16.14" fill="#b5d0ed" stroke="none" stroke-width="1" />
<rect x="96.78" y="610.72" width="5.16" height="16.14" fill="#fdfdff" stroke="none" stroke-width="1" />
<rect x="96.78" y="626.51" width="5.16" height="16.14" fill="#b5d0ed" stroke="none" stroke-width="1" />
<rect x="96.78" y="642.30" width="5.16" height="16.14" fill="#cddff3" stroke="none" stroke-width="1" />
<rect x="96.78" y="658.09" width="5.16" height="16.14" fill="#fdfdff" stroke="none" stroke-width="1" />
<rect x="96.78" y="673.88" width="5.16" height="16.14" fill="#9cc0e6" stroke="none" stroke-width="1" />
<rect x="101.59" y="563.35" width="5.16" height="16.14" fill="#9cc0e6" stroke="none" stroke-width="1" />
<rect x="101.59" y="579.14" width="5.16" height="16.14" fill="#9cc0e6" stroke="none" stroke-width="1" />
<rect x="101.59" y="594.93" width="5.16" height="16.14" fill="#accaea" stroke="none" stroke-width="1" />
<rect x="101.59" y="610.72" width="5.16" height="16.14" fill="#9cc0e6" stroke="none" stroke-width="1" />
<rect x="101.59" y="626.51" width="5.16" height="16.14" fill="#c5daf1" stroke="none" stroke-width="1" />
<rect x="101.59" y="642.30" width="5.16" height="16.14" fill="#cddff3" stroke="none" stroke-width="1" />
<rect x="101.59" y="658.09" width="5.16" height="16.14" fill="#cddff3" stroke="none" stroke-width="1" />
<rect x="101.59" y="673.88" width="5.16" height="16.14" fill="#9cc0e6" stroke="none" stroke-width="1" />
<rect x="106.40" y="563.35" width="5.16" height="16.14" fill="#9cc0e6" stroke="none" stroke-width="1" />
<rect x="106.40" y="579.14" width="5.16" height="16.14" fill="#fdfdff" stroke="none" stroke-width="1" />
<rect x="106.40" y="594.93" width="5.16" height="16.14" fill="#8cb6e2" stroke="none" stroke-width="1" />
<rect x="106.40" y="610.72" width="5.16" height="16.14" fill="#fdfdff" stroke="none" stroke-width="1" />
<rect x="106.40" y="626.51" width="5.16" height="16.14" fill="#fdfdff" stroke="none" stroke-width="1" />
<rect x="106.40" y="642.30" width="5.16" height="16.14" fill="#fcdee0" stroke="none" stroke-width="1" />
<rect x="106.40" y="658.09" width="5.16" height="16.14" fill="#dde9f7" stroke="none" stroke-width="1" />
<rect x="106.40" y="673.88" width="5.16" height="16.14" fill="#b5d0ed" stroke="none" stroke-width="1" />
<rect x="111.21" y="563.35" width="5.16" height="16.14" fill="#fcedef" stroke="none" stroke-width="1" />
<rect x="111.21" y="579.14" width="5.16" height="16.14" fill="#fab6b8" stroke="none" stroke-width="1" />
<rect x="111.21" y="594.93" width="5.16" height="16.14" fill="#fbc6c8" stroke="none" stroke-width="1" />
<rect x="111.21" y="610.72" width="5.16" height="16.14" fill="#faaeb0" stroke="none" stroke-width="1" />
<rect x="111.21" y="626.51" width="5.16" height="16.14" fill="#fab6b8" stroke="none" stroke-width="1" />
<rect x="111.21" y="642.30" width="5.16" height="16.14" fill="#fbd6d8" stroke="none" stroke-width="1" />
<rect x="111.21" y="658.09" width="5.16" height="16.14" fill="#fcedef" stroke="none" stroke-width="1" />
<rect x="111.21" y="673.88" width="5.16" height="16.14" fill="#cddff3" stroke="none" stroke-width="1" />
<rect x="116.03" y="563.35" width="5.16" height="16.14" fill="#faaeb0" stroke="none" stroke-width="1" />
<rect x="116.03" y="579.14" width="5.16" height="16.14" fill="#fab6b8" stroke="none" stroke-width="1" />
<rect x="116.03" y="594.93" width="5.16" height="16.14" fill="#fbc6c8" stroke="none" stroke-width="1" />
<rect x="116.03" y="610.72" width="5.16" height="16.14" fill="#f88789" stroke="none" stroke-width="1" />
<rect x="116.03" y="626.51" width="5.16" height="16.14" fill="#fdfdff" stroke="none" stroke-width="1" />
<rect x="116.03" y="642.30" width="5.16" height="16.14" fill="#f88f91" stroke="none" stroke-width="1" />
<rect x="116.03" y="658.09" width="5.16" height="16.14" fill="#fdfdff" stroke="none" stroke-width="1" />
<rect x="116.03" y="673.88" width="5.16" height="16.14" fill="#dde9f7" stroke="none" stroke-width="1" />
<rect x="120.84" y="563.35" width="5.16" height="16.14" fill="#cddff3" stroke="none" stroke-width="1" />
<rect x="120.84" y="579.14" width="5.16" height="16.14" fill="#cddff3" stroke="none" stroke-width="1" />
<rect x="120.84" y="594.93" width="5.16" height="16.14" fill="#cddff3" stroke="none" stroke-width="1" />
<rect x="120.84" y="610.72" width="5.16" height="16.14" fill="#b5d0ed" stroke="none" stroke-width="1" />
<rect x="120.84" y="626.51" width="5.16" height="16.14" fill="#fbd6d8" stroke="none" stroke-width="1" />
<rect x="120.84" y="642.30" width="5.16" height="16.14" fill="#edf3fb" stroke="none" stroke-width="1" />
<rect x="120.84" y="658.09" width="5.16" height="16.14" fill="#cddff3" stroke="none" stroke-width="1" />
<rect x="120.84" y="673.88" width="5.16" height="16.14" fill="#cddff3" stroke="none" stroke-width="1" />
<rect x="12.50" y="562.30" width="114.00" height="128.70" fill="none" stroke="#8a8a8a" stroke-width="1.1" />
<rect x="52.50" y="563.00" width="34.80" height="127.30" fill="none" stroke="#5ee6f0" stroke-width="1.1" />
<rect x="130.20" y="575.80" width="6.60" height="114.20" fill="url(#cbar)" stroke="#8a8a8a" stroke-width="1" />
<text x="129.8" y="568.3" font-size="11.4" fill="#111" textLength="49.5" lengthAdjust="spacingAndGlyphs">P-P value</text>
<text x="140.7" y="582.2" font-size="10.8" fill="#111" textLength="24.0" lengthAdjust="spacingAndGlyphs">1785</text>
<text x="140.7" y="636.5" font-size="10.8" fill="#111" textLength="18.0" lengthAdjust="spacingAndGlyphs">935</text>
<text x="140.7" y="691.0" font-size="10.8" fill="#111" textLength="17.5" lengthAdjust="spacingAndGlyphs">-85</text>
<text x="185.5" y="532.7" font-size="18" fill="#000" font-weight="bold">J</text>
<rect x="286.80" y="547.70" width="21.30" height="141.00" fill="#5ff6f8" stroke="none" stroke-width="1" rx="2"/>
<line x1="250.1" y1="545.8" x2="250.1" y2="689.6" stroke="#000" stroke-width="1.5" />
<line x1="245.1" y1="688.9" x2="250.1" y2="688.9" stroke="#000" stroke-width="1.2" />
<line x1="247.3" y1="677.0" x2="250.1" y2="677.0" stroke="#000" stroke-width="1.2" />
<line x1="247.3" y1="665.2" x2="250.1" y2="665.2" stroke="#000" stroke-width="1.2" />
<line x1="245.1" y1="653.3" x2="250.1" y2="653.3" stroke="#000" stroke-width="1.2" />
<line x1="247.3" y1="641.4" x2="250.1" y2="641.4" stroke="#000" stroke-width="1.2" />
<line x1="247.3" y1="629.6" x2="250.1" y2="629.6" stroke="#000" stroke-width="1.2" />
<line x1="245.1" y1="617.7" x2="250.1" y2="617.7" stroke="#000" stroke-width="1.2" />
<line x1="247.3" y1="605.8" x2="250.1" y2="605.8" stroke="#000" stroke-width="1.2" />
<line x1="247.3" y1="594.0" x2="250.1" y2="594.0" stroke="#000" stroke-width="1.2" />
<line x1="245.1" y1="582.1" x2="250.1" y2="582.1" stroke="#000" stroke-width="1.2" />
<line x1="247.3" y1="570.2" x2="250.1" y2="570.2" stroke="#000" stroke-width="1.2" />
<line x1="247.3" y1="558.4" x2="250.1" y2="558.4" stroke="#000" stroke-width="1.2" />
<line x1="245.1" y1="546.5" x2="250.1" y2="546.5" stroke="#000" stroke-width="1.2" />
<text x="242.5" y="693.8" font-size="13.5" fill="#111" text-anchor="end">0</text>
<text x="242.5" y="658.2" font-size="13.5" fill="#111" text-anchor="end">100</text>
<text x="242.5" y="622.6" font-size="13.5" fill="#111" text-anchor="end">200</text>
<text x="242.5" y="587.0" font-size="13.5" fill="#111" text-anchor="end">300</text>
<text x="242.5" y="551.4" font-size="13.5" fill="#111" text-anchor="end">400</text>
<line x1="244.7" y1="688.7" x2="345.4" y2="688.7" stroke="#000" stroke-width="1.5" />
<line x1="268.8" y1="688.7" x2="268.8" y2="693.7" stroke="#000" stroke-width="1.2" />
<line x1="297.1" y1="688.7" x2="297.1" y2="693.7" stroke="#000" stroke-width="1.2" />
<line x1="325.9" y1="688.7" x2="325.9" y2="693.7" stroke="#000" stroke-width="1.2" />
<line x1="268.6" y1="605.8" x2="268.6" y2="588.6" stroke="#000" stroke-width="1.4" />
<line x1="264.1" y1="588.6" x2="273.1" y2="588.6" stroke="#000" stroke-width="1.4" />
<rect x="259.50" y="605.80" width="18.30" height="82.90" fill="#fff" stroke="#000" stroke-width="1.5" />
<line x1="297.4" y1="639.6" x2="297.4" y2="628.7" stroke="#1aa0a4" stroke-width="1.4" />
<line x1="292.9" y1="628.7" x2="301.9" y2="628.7" stroke="#1aa0a4" stroke-width="1.4" />
<rect x="288.20" y="639.60" width="18.50" height="49.10" fill="none" stroke="#1aa0a4" stroke-width="1.5" />
<line x1="325.4" y1="576.4" x2="325.4" y2="556.7" stroke="#000" stroke-width="1.4" />
<line x1="320.9" y1="556.7" x2="329.9" y2="556.7" stroke="#000" stroke-width="1.4" />
<rect x="316.30" y="576.40" width="18.20" height="112.30" fill="#fff" stroke="#000" stroke-width="1.5" />
<line x1="269.0" y1="583.7" x2="295.8" y2="583.7" stroke="#000" stroke-width="1.6" />
<text x="282.7" y="586.2" font-size="17" fill="#111" text-anchor="middle" font-weight="bold">*</text>
<line x1="299.0" y1="551.3" x2="327.7" y2="551.3" stroke="#000" stroke-width="1.6" />
<text x="313.3" y="553.5" font-size="17" fill="#111" text-anchor="middle" font-weight="bold">*</text>
<text x="273.7" y="709.5" font-size="14" fill="#111" text-anchor="end" transform="rotate(-45 273.7 709.5)">Baseline</text>
<text x="302.3" y="709.5" font-size="14" fill="#111" text-anchor="end" transform="rotate(-45 302.3 709.5)">Light-on</text>
<text x="330.1" y="709.5" font-size="14" fill="#111" text-anchor="end" transform="rotate(-45 330.1 709.5)">Light-off</text>
<text x="211.0" y="618.0" font-size="12" fill="#111" text-anchor="middle" textLength="55.9" lengthAdjust="spacingAndGlyphs" transform="rotate(-90 211 618)">P-P value</text>
<text x="368.5" y="533.3" font-size="18" fill="#000" font-weight="bold">K</text>
<line x1="430.5" y1="531.4" x2="449.0" y2="531.4" stroke="#f27a7a" stroke-width="1.5" />
<circle cx="439.8" cy="531.4" r="3.6" fill="#f27a7a" stroke="none" stroke-width="1" />
<text x="454.5" y="535.7" font-size="12" fill="#111" textLength="57.3" lengthAdjust="spacingAndGlyphs">eNpHR3.0</text>
<line x1="430.5" y1="546.9" x2="449.0" y2="546.9" stroke="#000" stroke-width="1.5" />
<circle cx="439.8" cy="546.9" r="3.3" fill="#fff" stroke="#000" stroke-width="1.5" />
<text x="454.5" y="551.2" font-size="12" fill="#111" textLength="45.0" lengthAdjust="spacingAndGlyphs">mCherry</text>
<rect x="468.20" y="557.30" width="23.20" height="131.40" fill="#f2cb79" stroke="none" stroke-width="1" />
<line x1="415.0" y1="561.5" x2="415.0" y2="689.4" stroke="#000" stroke-width="1.5" />
<line x1="410.5" y1="688.7" x2="415.0" y2="688.7" stroke="#000" stroke-width="1.2" />
<line x1="412.2" y1="680.3" x2="415.0" y2="680.3" stroke="#000" stroke-width="1.2" />
<line x1="412.2" y1="671.8" x2="415.0" y2="671.8" stroke="#000" stroke-width="1.2" />
<line x1="412.2" y1="663.4" x2="415.0" y2="663.4" stroke="#000" stroke-width="1.2" />
<line x1="412.2" y1="655.0" x2="415.0" y2="655.0" stroke="#000" stroke-width="1.2" />
<line x1="410.5" y1="646.5" x2="415.0" y2="646.5" stroke="#000" stroke-width="1.2" />
<line x1="412.2" y1="638.1" x2="415.0" y2="638.1" stroke="#000" stroke-width="1.2" />
<line x1="412.2" y1="629.7" x2="415.0" y2="629.7" stroke="#000" stroke-width="1.2" />
<line x1="412.2" y1="621.2" x2="415.0" y2="621.2" stroke="#000" stroke-width="1.2" />
<line x1="412.2" y1="612.8" x2="415.0" y2="612.8" stroke="#000" stroke-width="1.2" />
<line x1="410.5" y1="604.4" x2="415.0" y2="604.4" stroke="#000" stroke-width="1.2" />
<line x1="412.2" y1="595.9" x2="415.0" y2="595.9" stroke="#000" stroke-width="1.2" />
<line x1="412.2" y1="587.5" x2="415.0" y2="587.5" stroke="#000" stroke-width="1.2" />
<line x1="412.2" y1="579.1" x2="415.0" y2="579.1" stroke="#000" stroke-width="1.2" />
<line x1="412.2" y1="570.6" x2="415.0" y2="570.6" stroke="#000" stroke-width="1.2" />
<line x1="410.5" y1="562.2" x2="415.0" y2="562.2" stroke="#000" stroke-width="1.2" />
<text x="408.0" y="693.0" font-size="12" fill="#111" text-anchor="end">20</text>
<text x="408.0" y="650.9" font-size="12" fill="#111" text-anchor="end">40</text>
<text x="408.0" y="608.7" font-size="12" fill="#111" text-anchor="end">60</text>
<text x="408.0" y="566.5" font-size="12" fill="#111" text-anchor="end">80</text>
<line x1="411.4" y1="688.7" x2="543.4" y2="688.7" stroke="#000" stroke-width="1.5" />
<line x1="437.4" y1="688.7" x2="437.4" y2="692.7" stroke="#000" stroke-width="1.2" />
<text x="437.4" y="707.3" font-size="11.4" fill="#111" text-anchor="middle">0</text>
<line x1="481.0" y1="688.7" x2="481.0" y2="692.7" stroke="#000" stroke-width="1.2" />
<text x="481.0" y="707.3" font-size="11.4" fill="#111" text-anchor="middle">10</text>
<line x1="524.3" y1="688.7" x2="524.3" y2="692.7" stroke="#000" stroke-width="1.2" />
<text x="524.3" y="707.3" font-size="11.4" fill="#111" text-anchor="middle">30</text>
<text x="428.0" y="573.0" font-size="11.8" fill="#111" textLength="23.8" lengthAdjust="spacingAndGlyphs">OFF</text>
<text x="470.9" y="573.0" font-size="11.8" fill="#111" textLength="18.3" lengthAdjust="spacingAndGlyphs">ON</text>
<text x="508.5" y="573.0" font-size="11.8" fill="#111" textLength="23.8" lengthAdjust="spacingAndGlyphs">OFF</text>
<text x="477.7" y="591.2" font-size="16" fill="#111" text-anchor="middle" font-weight="bold">*</text>
<text x="485.9" y="591.2" font-size="16" fill="#111" text-anchor="middle" font-weight="bold">*</text>
<line x1="437.6" y1="627.0" x2="437.6" y2="635.0" stroke="#000" stroke-width="1.5" />
<line x1="433.8" y1="627.0" x2="441.4" y2="627.0" stroke="#000" stroke-width="1.5" />
<line x1="433.8" y1="635.0" x2="441.4" y2="635.0" stroke="#000" stroke-width="1.5" />
<path d="M437.6,630.9 L480.4,633.6 L524.1,635.0" fill="none" stroke="#000" stroke-width="1.4" />
<circle cx="437.6" cy="630.9" r="3.1" fill="#fff" stroke="#000" stroke-width="1.4" />
<circle cx="480.4" cy="633.6" r="3.1" fill="#fff" stroke="#000" stroke-width="1.4" />
<circle cx="524.1" cy="635.0" r="3.1" fill="#fff" stroke="#000" stroke-width="1.4" />
<line x1="437.6" y1="622.5" x2="437.6" y2="633.0" stroke="#f27a7a" stroke-width="1.5" />
<line x1="433.8" y1="622.5" x2="441.4" y2="622.5" stroke="#f27a7a" stroke-width="1.5" />
<line x1="433.8" y1="633.0" x2="441.4" y2="633.0" stroke="#f27a7a" stroke-width="1.5" />
<line x1="480.4" y1="588.0" x2="480.4" y2="596.5" stroke="#f27a7a" stroke-width="1.5" />
<line x1="476.6" y1="588.0" x2="484.2" y2="588.0" stroke="#f27a7a" stroke-width="1.5" />
<line x1="476.6" y1="596.5" x2="484.2" y2="596.5" stroke="#f27a7a" stroke-width="1.5" />
<line x1="524.1" y1="625.5" x2="524.1" y2="634.5" stroke="#f27a7a" stroke-width="1.5" />
<line x1="520.3" y1="625.5" x2="527.9" y2="625.5" stroke="#f27a7a" stroke-width="1.5" />
<line x1="520.3" y1="634.5" x2="527.9" y2="634.5" stroke="#f27a7a" stroke-width="1.5" />
<path d="M437.6,627.6 L480.4,592.2 L524.1,630.0" fill="none" stroke="#f27a7a" stroke-width="1.4" />
<circle cx="437.6" cy="627.6" r="3.9" fill="#f27a7a" stroke="none" stroke-width="1" />
<circle cx="480.4" cy="592.2" r="3.9" fill="#f27a7a" stroke="none" stroke-width="1" />
<circle cx="524.1" cy="630.0" r="3.9" fill="#f27a7a" stroke="none" stroke-width="1" />
<text x="489.0" y="721.6" font-size="11.75" fill="#111" text-anchor="middle" textLength="56.1" lengthAdjust="spacingAndGlyphs">Time (min)</text>
<text x="427.3" y="683.0" font-size="8.8" fill="#222" font-style="italic" textLength="62.7" lengthAdjust="spacingAndGlyphs">CaMK<tspan font-family="Noto Serif CJK SC, Noto Sans CJK SC, serif">Ⅱ</tspan>α-Retro</text>
<text x="388.5" y="625.5" font-size="12" fill="#111" text-anchor="middle" textLength="120.0" lengthAdjust="spacingAndGlyphs" transform="rotate(-90 388.5 625.5)">Pain threshold (mmHg)</text>
<text x="576.4" y="534.9" font-size="18" fill="#000" font-weight="bold">L</text>
<line x1="631.4" y1="538.7" x2="647.8" y2="538.7" stroke="#f27a7a" stroke-width="1.5" />
<circle cx="639.6" cy="538.7" r="3.6" fill="#f27a7a" stroke="none" stroke-width="1" />
<text x="657.6" y="543.0" font-size="12" fill="#111" textLength="60.0" lengthAdjust="spacingAndGlyphs">eNpHR3.0</text>
<line x1="631.4" y1="552.4" x2="647.8" y2="552.4" stroke="#000" stroke-width="1.5" />
<circle cx="639.6" cy="552.4" r="3.6" fill="#000" stroke="none" stroke-width="1" />
<text x="657.6" y="556.7" font-size="12" fill="#111" textLength="49.7" lengthAdjust="spacingAndGlyphs">mCherry</text>
<line x1="614.0" y1="562.6" x2="614.0" y2="688.9" stroke="#000" stroke-width="1.5" />
<line x1="609.5" y1="688.2" x2="614.0" y2="688.2" stroke="#000" stroke-width="1.2" />
<line x1="611.2" y1="675.7" x2="614.0" y2="675.7" stroke="#000" stroke-width="1.2" />
<line x1="609.5" y1="663.2" x2="614.0" y2="663.2" stroke="#000" stroke-width="1.2" />
<line x1="611.2" y1="650.7" x2="614.0" y2="650.7" stroke="#000" stroke-width="1.2" />
<line x1="609.5" y1="638.2" x2="614.0" y2="638.2" stroke="#000" stroke-width="1.2" />
<line x1="611.2" y1="625.8" x2="614.0" y2="625.8" stroke="#000" stroke-width="1.2" />
<line x1="609.5" y1="613.3" x2="614.0" y2="613.3" stroke="#000" stroke-width="1.2" />
<line x1="611.2" y1="600.8" x2="614.0" y2="600.8" stroke="#000" stroke-width="1.2" />
<line x1="609.5" y1="588.3" x2="614.0" y2="588.3" stroke="#000" stroke-width="1.2" />
<line x1="611.2" y1="575.8" x2="614.0" y2="575.8" stroke="#000" stroke-width="1.2" />
<line x1="609.5" y1="563.3" x2="614.0" y2="563.3" stroke="#000" stroke-width="1.2" />
<text x="607.0" y="692.2" font-size="11" fill="#111" text-anchor="end">0</text>
<text x="607.0" y="667.2" font-size="11" fill="#111" text-anchor="end">1</text>
<text x="607.0" y="642.2" font-size="11" fill="#111" text-anchor="end">2</text>
<text x="607.0" y="617.2" font-size="11" fill="#111" text-anchor="end">3</text>
<text x="607.0" y="592.2" font-size="11" fill="#111" text-anchor="end">4</text>
<text x="607.0" y="567.3" font-size="11" fill="#111" text-anchor="end">5</text>
<line x1="609.6" y1="688.2" x2="739.9" y2="688.2" stroke="#000" stroke-width="1.5" />
<line x1="630.4" y1="688.2" x2="630.4" y2="691.2" stroke="#000" stroke-width="1.2" />
<text x="630.4" y="706.5" font-size="12" fill="#111" text-anchor="middle">20</text>
<line x1="663.6" y1="688.2" x2="663.6" y2="691.2" stroke="#000" stroke-width="1.2" />
<text x="663.6" y="706.5" font-size="12" fill="#111" text-anchor="middle">40</text>
<line x1="697.2" y1="688.2" x2="697.2" y2="691.2" stroke="#000" stroke-width="1.2" />
<text x="697.2" y="706.5" font-size="12" fill="#111" text-anchor="middle">60</text>
<line x1="730.4" y1="688.2" x2="730.4" y2="691.2" stroke="#000" stroke-width="1.2" />
<text x="730.4" y="706.5" font-size="12" fill="#111" text-anchor="middle">80</text>
<text x="719.8" y="720.0" font-size="12" fill="#111" text-anchor="middle" textLength="43.7" lengthAdjust="spacingAndGlyphs">(mmHg)</text>
<line x1="630.4" y1="649.5" x2="630.4" y2="658.7" stroke="#f27a7a" stroke-width="1.5" />
<line x1="627.0" y1="649.5" x2="633.8" y2="649.5" stroke="#f27a7a" stroke-width="1.5" />
<line x1="627.0" y1="658.7" x2="633.8" y2="658.7" stroke="#f27a7a" stroke-width="1.5" />
<line x1="663.6" y1="634.0" x2="663.6" y2="643.0" stroke="#f27a7a" stroke-width="1.5" />
<line x1="660.2" y1="634.0" x2="667.0" y2="634.0" stroke="#f27a7a" stroke-width="1.5" />
<line x1="660.2" y1="643.0" x2="667.0" y2="643.0" stroke="#f27a7a" stroke-width="1.5" />
<path d="M630.4,654.1 L663.6,638.5 L697.2,611.8 L730.4,590.0" fill="none" stroke="#f27a7a" stroke-width="1.4" />
<circle cx="630.4" cy="654.1" r="3.4" fill="#f27a7a" stroke="none" stroke-width="1" />
<circle cx="663.6" cy="638.5" r="3.4" fill="#f27a7a" stroke="none" stroke-width="1" />
<circle cx="697.2" cy="611.8" r="3.4" fill="#f27a7a" stroke="none" stroke-width="1" />
<circle cx="730.4" cy="590.0" r="3.4" fill="#f27a7a" stroke="none" stroke-width="1" />
<line x1="630.4" y1="640.0" x2="630.4" y2="648.0" stroke="#000" stroke-width="1.5" />
<line x1="627.0" y1="640.0" x2="633.8" y2="640.0" stroke="#000" stroke-width="1.5" />
<line x1="627.0" y1="648.0" x2="633.8" y2="648.0" stroke="#000" stroke-width="1.5" />
<line x1="663.6" y1="619.5" x2="663.6" y2="630.5" stroke="#000" stroke-width="1.5" />
<line x1="660.2" y1="619.5" x2="667.0" y2="619.5" stroke="#000" stroke-width="1.5" />
<line x1="660.2" y1="630.5" x2="667.0" y2="630.5" stroke="#000" stroke-width="1.5" />
<line x1="697.2" y1="594.5" x2="697.2" y2="608.5" stroke="#000" stroke-width="1.5" />
<line x1="693.8" y1="594.5" x2="700.6" y2="594.5" stroke="#000" stroke-width="1.5" />
<line x1="693.8" y1="608.5" x2="700.6" y2="608.5" stroke="#000" stroke-width="1.5" />
<path d="M630.4,643.7 L663.6,624.9 L697.2,601.4 L730.4,588.1" fill="none" stroke="#000" stroke-width="1.4" />
<circle cx="630.4" cy="643.7" r="3.5" fill="#000" stroke="none" stroke-width="1" />
<circle cx="663.6" cy="624.9" r="3.5" fill="#000" stroke="none" stroke-width="1" />
<circle cx="697.2" cy="601.4" r="3.5" fill="#000" stroke="none" stroke-width="1" />
<circle cx="730.4" cy="588.1" r="3.5" fill="#000" stroke="none" stroke-width="1" />
<text x="664.4" y="619.8" font-size="16" fill="#111" text-anchor="middle" font-weight="bold">*</text>
<text x="660.9" y="683.0" font-size="8.8" fill="#222" font-style="italic" textLength="62.1" lengthAdjust="spacingAndGlyphs">CaMK<tspan font-family="Noto Serif CJK SC, Noto Sans CJK SC, serif">Ⅱ</tspan>α-Retro</text>
<text x="594.3" y="626.8" font-size="12" fill="#111" text-anchor="middle" textLength="65.5" lengthAdjust="spacingAndGlyphs" transform="rotate(-90 594.3 626.8)">AWR scores</text>
<text x="3.1" y="772.1" font-size="18" fill="#000" font-weight="bold">M</text>
<text x="13.0" y="805.1" font-size="15" fill="#111" textLength="148.6" lengthAdjust="spacingAndGlyphs">Susceptible+60mmHg</text>
<rect x="31.70" y="853.40" width="59.20" height="26.50" fill="#f2cb79" stroke="none" stroke-width="1" />
<text x="35.0" y="872.0" font-size="15" fill="#111" textLength="124.7" lengthAdjust="spacingAndGlyphs">Light-on+60mmHg</text>
<text x="32.5" y="938.3" font-size="15" fill="#111" textLength="124.6" lengthAdjust="spacingAndGlyphs">Light-off+60mmHg</text>
<text x="320.0" y="922.2" font-size="14.7" fill="#111" textLength="33.3" lengthAdjust="spacingAndGlyphs">EMG</text>
<path d="M174.1,806.2 L174.2,809.1 L174.3,806.3 L174.4,808.2 L174.5,806.5 L174.6,809.6 L174.7,806.9 L174.8,808.2 L174.9,806.0 L175.0,809.1 L175.1,807.3 L175.2,809.1 L175.3,804.3 L175.4,808.4 L175.5,806.1 L175.6,809.3 L175.7,807.1 L175.8,808.4 L175.9,805.7 L176.0,808.8 L176.1,806.6 L176.2,809.4 L176.3,806.6 L176.4,808.1 L176.5,806.9 L176.6,809.2 L176.7,805.8 L176.8,809.5 L176.9,806.5 L177.0,808.6 L177.1,805.6 L177.2,808.6 L177.3,805.7 L177.4,809.4 L177.5,806.0 L177.6,809.2 L177.7,806.9 L177.8,808.6 L177.9,805.7 L178.0,809.0 L178.1,807.4 L178.2,808.7 L178.3,804.9 L178.4,810.1 L178.5,805.8 L178.6,809.3 L178.7,805.2 L178.8,808.9 L178.9,805.7 L179.0,808.2 L179.1,805.7 L179.2,810.7 L179.3,805.5 L179.4,808.4 L179.5,805.8 L179.6,809.0 L179.7,805.0 L179.8,808.2 L179.9,807.4 L180.0,808.4 L180.1,806.5 L180.2,810.4 L180.3,806.0 L180.4,809.9 L180.5,807.3 L180.6,808.6 L180.7,806.5 L180.8,809.8 L180.9,805.6 L181.0,809.6 L181.1,806.7 L181.2,808.6 L181.3,806.4 L181.4,808.8 L181.5,805.6 L181.6,810.3 L181.7,805.5 L181.8,808.5 L181.9,805.5 L182.0,808.2 L182.1,807.1 L182.2,811.7 L182.3,806.7 L182.4,810.1 L182.5,805.8 L182.6,809.7 L182.7,806.0 L182.8,810.3 L182.9,805.5 L183.0,808.2 L183.1,805.2 L183.2,809.2 L183.3,806.7 L183.4,810.2 L183.5,805.3 L183.6,809.9 L183.7,805.8 L183.8,808.1 L183.9,806.8 L184.0,810.0 L184.1,805.2 L184.2,808.8 L184.3,805.8 L184.4,808.4 L184.5,805.8 L184.6,808.9 L184.7,807.3 L184.8,808.5 L184.9,806.2 L185.0,809.2 L185.1,806.0 L185.2,808.9 L185.3,806.2 L185.4,808.9 L185.5,805.9 L185.6,808.1 L185.7,806.3 L185.8,809.3 L185.9,807.4 L186.0,809.6 L186.1,806.2 L186.2,810.0 L186.3,807.1 L186.4,808.9 L186.5,805.8 L186.6,809.9 L186.7,806.2 L186.8,808.8 L186.9,806.1 L187.0,808.9 L187.1,806.5 L187.2,809.4 L187.3,805.7 L187.4,808.1 L187.5,806.1 L187.6,809.9 L187.7,806.7 L187.8,808.6 L187.9,806.3 L188.0,808.2 L188.1,805.7 L188.2,809.2 L188.3,806.0 L188.4,809.9 L188.5,807.4 L188.6,808.6 L188.7,806.4 L188.8,809.7 L188.9,806.5 L189.0,808.9 L189.1,807.4 L189.2,809.3 L189.3,805.0 L189.4,808.3 L189.5,805.8 L189.6,808.8 L189.7,804.8 L189.8,810.4 L189.9,806.8 L190.0,811.0 L190.1,806.5 L190.2,810.2 L190.3,806.6 L190.4,809.1 L190.5,807.2 L190.6,809.1 L190.7,806.2 L190.8,808.3 L190.9,807.0 L191.0,808.2 L191.1,805.0 L191.2,809.4 L191.3,804.9 L191.4,809.5 L191.5,805.9 L191.6,809.2 L191.7,805.3 L191.8,809.1 L191.9,805.3 L192.0,809.3 L192.1,807.1 L192.2,809.3 L192.3,807.4 L192.4,809.2 L192.5,806.4 L192.6,810.0 L192.7,804.9 L192.8,808.6 L192.9,805.9 L193.0,810.3 L193.1,805.7 L193.2,808.8 L193.3,806.3 L193.4,810.5 L193.5,806.1 L193.6,809.9 L193.7,806.6 L193.8,810.2 L193.9,806.0 L194.0,810.2 L194.1,806.7 L194.2,808.8 L194.3,806.9 L194.4,809.8 L194.5,807.2 L194.6,809.1 L194.7,805.6 L194.8,808.9 L194.9,806.7 L195.0,809.8 L195.1,806.1 L195.2,810.2 L195.3,806.7 L195.4,809.6 L195.5,804.8 L195.6,809.6 L195.7,806.6 L195.8,810.5 L195.9,804.9 L196.0,810.2 L196.1,806.5 L196.2,809.6 L196.3,806.5 L196.4,810.7 L196.5,807.4 L196.6,810.5 L196.7,806.7 L196.8,808.6 L196.9,805.3 L197.0,810.2 L197.1,807.3 L197.2,808.9 L197.3,807.2 L197.4,810.0 L197.5,805.2 L197.6,808.9 L197.7,806.6 L197.8,808.2 L197.9,807.2 L198.0,808.3 L198.1,805.8 L198.2,808.6 L198.3,806.4 L198.4,808.8 L198.5,806.3 L198.6,809.4 L198.7,806.7 L198.8,808.7 L198.9,805.5 L199.0,810.1 L199.1,806.5 L199.2,809.0 L199.3,806.4 L199.4,810.6 L199.5,805.5 L199.6,809.1 L199.7,806.7 L199.8,810.1 L199.9,806.1 L200.0,808.4 L200.1,806.3 L200.2,809.9 L200.3,806.3 L200.4,808.7 L200.5,806.7 L200.6,809.7 L200.7,806.3 L200.8,808.1 L200.9,806.8 L201.0,809.7 L201.1,807.4 L201.2,809.0 L201.3,806.3 L201.4,808.8 L201.5,806.0 L201.6,808.3 L201.7,805.5 L201.8,809.7 L201.9,805.6 L202.0,809.2 L202.1,806.5 L202.2,808.8 L202.3,807.3 L202.4,809.2 L202.5,806.8 L202.6,810.0 L202.7,807.1 L202.8,808.2 L202.9,805.8 L203.0,810.2 L203.1,806.5 L203.2,810.0 L203.3,805.9 L203.4,809.8 L203.5,806.2 L203.6,809.2 L203.7,806.1 L203.8,809.8 L203.9,805.4 L204.0,810.0 L204.1,805.9 L204.2,810.1 L204.3,807.4 L204.4,808.1 L204.5,806.9 L204.6,808.1 L204.7,806.2 L204.8,808.6 L204.9,805.6 L205.0,808.8 L205.1,805.8 L205.2,808.7 L205.3,805.5 L205.4,808.9 L205.5,806.9 L205.6,808.8 L205.7,806.0 L205.8,810.0 L205.9,806.0 L206.0,809.0 L206.1,806.7 L206.2,809.2 L206.3,806.9 L206.4,810.1 L206.5,806.0 L206.6,809.6 L206.7,806.9 L206.8,809.3 L206.9,807.0 L207.0,808.8 L207.1,805.9 L207.2,808.7 L207.3,806.1 L207.4,808.6 L207.5,805.8 L207.6,808.5 L207.7,805.7 L207.8,808.2 L207.9,807.0 L208.0,809.5 L208.1,806.7 L208.2,808.5 L208.3,807.2 L208.4,809.2 L208.5,806.0 L208.6,810.0 L208.7,806.0 L208.8,809.1 L208.9,806.2 L209.0,808.6 L209.1,806.6 L209.2,809.7 L209.3,805.7 L209.4,808.4 L209.5,806.8 L209.6,809.7 L209.7,806.9 L209.8,808.8 L209.9,807.3 L210.0,809.8 L210.1,807.3 L210.2,809.5 L210.3,807.3 L210.4,808.6 L210.5,805.7 L210.6,808.3 L210.7,805.9 L210.8,808.5 L210.9,805.9 L211.0,808.8 L211.1,806.4 L211.2,809.7 L211.3,807.3 L211.4,808.9 L211.5,805.7 L211.6,809.4 L211.7,806.4 L211.8,809.9 L211.9,806.1 L212.0,809.9 L212.1,805.1 L212.2,809.4 L212.3,807.4 L212.4,809.9 L212.5,806.7 L212.6,809.2 L212.7,806.5 L212.8,808.7 L212.9,804.8 L213.0,813.8 L213.1,806.5 L213.2,808.4 L213.3,806.1 L213.4,809.5 L213.5,803.8 L213.6,809.6 L213.7,806.0 L213.8,809.9 L213.9,807.2 L214.0,808.9 L214.1,804.8 L214.2,813.8 L214.3,805.6 L214.4,808.5 L214.5,804.8 L214.6,813.8 L214.7,807.4 L214.8,810.2 L214.9,804.8 L215.0,805.8 L215.1,815.8 L215.2,812.3 L215.3,806.4 L215.4,812.9 L215.5,806.7 L215.6,808.9 L215.7,806.1 L215.8,811.8 L215.9,804.8 L216.0,813.8 L216.1,805.8 L216.2,811.7 L216.3,805.7 L216.4,810.6 L216.5,804.6 L216.6,810.5 L216.7,805.0 L216.8,808.5 L216.9,804.8 L217.0,813.8 L217.1,805.8 L217.2,809.9 L217.3,804.9 L217.4,809.9 L217.5,805.3 L217.6,809.3 L217.7,806.5 L217.8,810.0 L217.9,806.9 L218.0,808.4 L218.1,805.0 L218.2,808.8 L218.3,805.3 L218.4,811.2 L218.5,804.7 L218.6,808.6 L218.7,805.8 L218.8,810.0 L218.9,806.2 L219.0,809.5 L219.1,804.3 L219.2,808.8 L219.3,804.7 L219.4,810.7 L219.5,806.7 L219.6,809.4 L219.7,805.7 L219.8,811.1 L219.9,807.4 L220.0,811.0 L220.1,806.6 L220.2,809.2 L220.3,807.4 L220.4,811.2 L220.5,804.5 L220.6,809.6 L220.7,805.3 L220.8,808.4 L220.9,805.7 L221.0,810.6 L221.1,805.8 L221.2,809.1 L221.3,805.5 L221.4,809.6 L221.5,806.0 L221.6,809.6 L221.7,806.4 L221.8,809.6 L221.9,805.4 L222.0,809.9 L222.1,807.0 L222.2,810.0 L222.3,806.9 L222.4,809.9 L222.5,805.5 L222.6,809.8 L222.7,805.4 L222.8,809.2 L222.9,805.0 L223.0,810.4 L223.1,806.1 L223.2,808.9 L223.3,805.1 L223.4,809.6 L223.5,807.1 L223.6,809.2 L223.7,807.1 L223.8,809.4 L223.9,806.7 L224.0,808.6 L224.1,805.5 L224.2,809.0 L224.3,804.9 L224.4,810.0 L224.5,806.4 L224.6,809.0 L224.7,807.0 L224.8,809.2 L224.9,805.9 L225.0,808.2 L225.1,805.8 L225.2,808.8 L225.3,806.9 L225.4,808.6 L225.5,806.6 L225.6,811.8 L225.7,806.6 L225.8,810.1 L225.9,806.0 L226.0,809.2 L226.1,804.7 L226.2,810.9 L226.3,806.8 L226.4,809.6 L226.5,805.7 L226.6,809.3 L226.7,806.2 L226.8,811.1 L226.9,805.5 L227.0,811.1 L227.1,806.2 L227.2,810.3 L227.3,805.6 L227.4,813.5 L227.5,806.6 L227.6,808.4 L227.7,801.8 L227.8,811.2 L227.9,807.2 L228.0,811.3 L228.1,805.6 L228.2,808.6 L228.3,806.4 L228.4,808.9 L228.5,805.4 L228.6,811.8 L228.7,805.8 L228.8,810.8 L228.9,806.1 L229.0,808.9 L229.1,803.6 L229.2,811.6 L229.3,806.9 L229.4,809.3 L229.5,805.3 L229.6,810.9 L229.7,806.2 L229.8,808.5 L229.9,806.4 L230.0,812.3 L230.1,804.6 L230.2,808.3 L230.3,805.1 L230.4,810.1 L230.5,806.3 L230.6,809.7 L230.7,807.3 L230.8,809.7 L230.9,805.2 L231.0,809.1 L231.1,805.8 L231.2,810.0 L231.3,807.1 L231.4,809.3 L231.5,806.7 L231.6,808.8 L231.7,806.0 L231.8,808.3 L231.9,806.2 L232.0,809.8 L232.1,807.0 L232.2,808.2 L232.3,805.5 L232.4,810.1 L232.5,806.7 L232.6,810.1 L232.7,806.9 L232.8,808.6 L232.9,805.7 L233.0,808.5 L233.1,806.6 L233.2,809.8 L233.3,806.8 L233.4,808.2 L233.5,805.2 L233.6,809.0 L233.7,806.7 L233.8,809.5 L233.9,805.3 L234.0,809.3 L234.1,801.8 L234.2,813.8 L234.3,804.8 L234.4,809.9 L234.5,805.1 L234.6,808.9 L234.7,805.6 L234.8,808.6 L234.9,806.4 L235.0,809.1 L235.1,804.4 L235.2,811.8 L235.3,806.8 L235.4,801.8 L235.5,813.8 L235.6,812.1 L235.7,806.3 L235.8,810.9 L235.9,804.3 L236.0,808.5 L236.1,801.8 L236.2,813.8 L236.3,804.9 L236.4,811.5 L236.5,806.6 L236.6,809.4 L236.7,803.6 L236.8,810.2 L236.9,801.8 L237.0,798.8 L237.1,815.8 L237.2,809.0 L237.3,804.9 L237.4,811.3 L237.5,805.7 L237.6,810.6 L237.7,804.0 L237.8,800.8 L237.9,813.8 L238.0,811.3 L238.1,806.4 L238.2,810.2 L238.3,804.4 L238.4,809.6 L238.5,801.8 L238.6,813.8 L238.7,813.8 L238.8,810.1 L238.9,805.8 L239.0,808.8 L239.1,806.0 L239.2,810.8 L239.3,806.8 L239.4,810.7 L239.5,804.9 L239.6,811.0 L239.7,805.7 L239.8,809.9 L239.9,805.8 L240.0,810.0 L240.1,804.6 L240.2,810.1 L240.3,805.5 L240.4,810.8 L240.5,806.3 L240.6,808.4 L240.7,804.2 L240.8,809.6 L240.9,805.6 L241.0,810.0 L241.1,804.8 L241.2,809.1 L241.3,806.4 L241.4,809.1 L241.5,804.8 L241.6,809.8 L241.7,800.4 L241.8,811.3 L241.9,804.0 L242.0,809.0 L242.1,806.6 L242.2,810.9 L242.3,805.1 L242.4,809.3 L242.5,806.0 L242.6,808.3 L242.7,804.1 L242.8,808.6 L242.9,804.7 L243.0,809.8 L243.1,805.0 L243.2,808.5 L243.3,805.6 L243.4,809.8 L243.5,805.1 L243.6,808.7 L243.7,804.4 L243.8,811.4 L243.9,806.7 L244.0,808.5 L244.1,805.7 L244.2,809.6 L244.3,805.4 L244.4,811.2 L244.5,805.1 L244.6,810.5 L244.7,804.7 L244.8,810.1 L244.9,806.3 L245.0,808.7 L245.1,806.5 L245.2,810.0 L245.3,806.6 L245.4,809.0 L245.5,805.3 L245.6,810.6 L245.7,806.5 L245.8,810.9 L245.9,805.2 L246.0,809.3 L246.1,806.0 L246.2,808.6 L246.3,805.2 L246.4,810.8 L246.5,805.2 L246.6,808.5 L246.7,804.8 L246.8,809.2 L246.9,805.7 L247.0,809.0 L247.1,806.4 L247.2,809.1 L247.3,807.4 L247.4,809.8 L247.5,806.0 L247.6,810.1 L247.7,806.2 L247.8,811.0 L247.9,805.3 L248.0,810.4 L248.1,806.5 L248.2,810.9 L248.3,805.1 L248.4,803.8 L248.5,811.8 L248.6,809.9 L248.7,807.3 L248.8,808.8 L248.9,805.2 L249.0,811.0 L249.1,804.7 L249.2,810.9 L249.3,807.2 L249.4,809.0 L249.5,805.1 L249.6,809.8 L249.7,801.4 L249.8,811.2 L249.9,804.6 L250.0,810.6 L250.1,806.4 L250.2,809.6 L250.3,807.3 L250.4,810.7 L250.5,807.0 L250.6,809.6 L250.7,807.3 L250.8,808.5 L250.9,804.5 L251.0,809.4 L251.1,803.8 L251.2,811.8 L251.3,805.3 L251.4,811.9 L251.5,803.8 L251.6,811.8 L251.7,803.8 L251.8,811.8 L251.9,804.1 L252.0,801.8 L252.1,813.8 L252.2,809.4 L252.3,804.1 L252.4,811.2 L252.5,805.7 L252.6,809.4 L252.7,806.3 L252.8,811.6 L252.9,804.2 L253.0,809.8 L253.1,806.4 L253.2,811.4 L253.3,805.2 L253.4,810.9 L253.5,805.7 L253.6,809.7 L253.7,805.7 L253.8,810.6 L253.9,804.5 L254.0,803.8 L254.1,811.8 L254.2,810.4 L254.3,803.8 L254.4,811.8 L254.5,803.2 L254.6,809.3 L254.7,805.2 L254.8,812.3 L254.9,803.6 L255.0,808.9 L255.1,805.3 L255.2,809.5 L255.3,805.8 L255.4,812.2 L255.5,804.9 L255.6,810.3 L255.7,805.9 L255.8,811.8 L255.9,805.1 L256.0,812.2 L256.1,803.9 L256.2,812.1 L256.3,806.9 L256.4,810.2 L256.5,804.0 L256.6,810.1 L256.7,803.7 L256.8,803.8 L256.9,811.8 L257.0,808.6 L257.1,801.5 L257.2,810.0 L257.3,803.8 L257.4,811.0 L257.5,804.5 L257.6,810.8 L257.7,803.8 L257.8,808.6 L257.9,804.7 L258.0,811.4 L258.1,806.9 L258.2,810.1 L258.3,806.2 L258.4,810.4 L258.5,806.6 L258.6,809.6 L258.7,805.4 L258.8,808.7 L258.9,804.9 L259.0,808.7 L259.1,807.3 L259.2,810.0 L259.3,805.8 L259.4,809.9 L259.5,806.5 L259.6,810.4 L259.7,804.6 L259.8,810.7 L259.9,805.1 L260.0,808.2 L260.1,804.8 L260.2,808.5 L260.3,804.7 L260.4,809.5 L260.5,805.5 L260.6,808.7 L260.7,806.7 L260.8,810.0 L260.9,804.4 L261.0,809.2 L261.1,805.6 L261.2,810.3 L261.3,806.6 L261.4,810.6 L261.5,804.4 L261.6,811.0 L261.7,805.5 L261.8,813.4 L261.9,806.8 L262.0,811.1 L262.1,806.9 L262.2,809.7 L262.3,805.1 L262.4,810.6 L262.5,802.7 L262.6,809.9 L262.7,804.8 L262.8,810.1 L262.9,805.9 L263.0,808.8 L263.1,805.4 L263.2,810.9 L263.3,807.1 L263.4,809.3 L263.5,805.0 L263.6,809.9 L263.7,805.7 L263.8,809.6 L263.9,807.4 L264.0,810.0 L264.1,805.8 L264.2,810.5 L264.3,805.7 L264.4,802.8 L264.5,812.8 L264.6,802.8 L264.7,813.9 L264.8,810.4 L264.9,806.9 L265.0,810.6 L265.1,804.9 L265.2,809.2 L265.3,806.4 L265.4,811.0 L265.5,806.6 L265.6,810.4 L265.7,805.2 L265.8,811.4 L265.9,806.4 L266.0,810.7 L266.1,804.1 L266.2,811.6 L266.3,805.7 L266.4,810.0 L266.5,804.5 L266.6,810.9 L266.7,805.4 L266.8,811.3 L266.9,806.1 L267.0,810.6 L267.1,802.8 L267.2,812.8 L267.3,803.4 L267.4,808.8 L267.5,806.8 L267.6,810.6 L267.7,805.5 L267.8,808.8 L267.9,806.2 L268.0,799.8 L268.1,815.8 L268.2,811.8 L268.3,804.1 L268.4,808.4 L268.5,804.7 L268.6,809.5 L268.7,807.2 L268.8,809.5 L268.9,803.3 L269.0,812.1 L269.1,804.2 L269.2,809.1 L269.3,806.2 L269.4,808.8 L269.5,803.9 L269.6,808.7 L269.7,805.2 L269.8,812.6 L269.9,803.8 L270.0,811.4 L270.1,806.5 L270.2,802.8 L270.3,812.8 L270.4,813.1 L270.5,804.8 L270.6,808.4 L270.7,806.9 L270.8,809.1 L270.9,805.4 L271.0,810.1 L271.1,805.2 L271.2,809.2 L271.3,805.4 L271.4,809.4 L271.5,805.4 L271.6,810.4 L271.7,805.8 L271.8,810.0 L271.9,806.9 L272.0,808.4 L272.1,805.1 L272.2,811.1 L272.3,802.8 L272.4,812.8 L272.5,804.7 L272.6,802.8 L272.7,812.9 L272.8,813.4 L272.9,805.8 L273.0,810.5 L273.1,803.7 L273.2,814.2 L273.3,803.7 L273.4,810.5 L273.5,804.1 L273.6,811.6 L273.7,806.4 L273.8,808.4 L273.9,803.9 L274.0,809.3 L274.1,803.7 L274.2,810.6 L274.3,806.0 L274.4,811.1 L274.5,805.5 L274.6,781.3 L274.7,831.4 L274.8,809.2 L274.9,806.0 L275.0,808.4 L275.1,805.8 L275.2,810.5 L275.3,805.3 L275.4,810.3 L275.5,806.5 L275.6,811.7 L275.7,807.2 L275.8,811.2 L275.9,806.5 L276.0,802.8 L276.1,794.8 L276.2,818.8 L276.3,805.9 L276.4,813.1 L276.5,805.3 L276.6,810.4 L276.7,802.6 L276.8,817.9 L276.9,801.7 L277.0,809.7 L277.1,803.2 L277.2,814.7 L277.3,806.7 L277.4,811.4 L277.5,803.9 L277.6,815.2 L277.7,805.2 L277.8,811.4 L277.9,805.4 L278.0,813.9 L278.1,782.3 L278.2,828.5 L278.3,799.6 L278.4,816.7 L278.5,790.1 L278.6,818.9 L278.7,797.8 L278.8,816.0 L278.9,779.0 L279.0,761.8 L279.1,836.8 L279.2,811.2 L279.3,795.3 L279.4,787.5 L279.5,824.6 L279.6,818.5 L279.7,799.0 L279.8,816.6 L279.9,805.8 L280.0,813.0 L280.1,792.2 L280.2,820.0 L280.3,798.8 L280.4,816.3 L280.5,800.3 L280.6,816.4 L280.7,800.9 L280.8,814.3 L280.9,801.4 L281.0,814.2 L281.1,804.0 L281.2,812.8 L281.3,804.4 L281.4,808.9 L281.5,802.9 L281.6,812.8 L281.7,800.7 L281.8,813.2 L281.9,797.7 L282.0,810.9 L282.1,805.8 L282.2,813.4 L282.3,805.5 L282.4,812.6 L282.5,805.8 L282.6,812.3 L282.7,805.5 L282.8,809.8 L282.9,806.5 L283.0,812.6 L283.1,803.5 L283.2,812.1 L283.3,805.5 L283.4,811.2 L283.5,806.8 L283.6,810.1 L283.7,803.4 L283.8,810.0 L283.9,804.8 L284.0,810.4 L284.1,803.4 L284.2,809.4 L284.3,805.3 L284.4,811.1 L284.5,803.1 L284.6,812.3 L284.7,807.1 L284.8,809.2 L284.9,804.9 L285.0,808.5 L285.1,806.7 L285.2,812.1 L285.3,805.3 L285.4,811.8 L285.5,804.0 L285.6,810.0 L285.7,805.2 L285.8,812.1 L285.9,806.6 L286.0,809.1 L286.1,806.4 L286.2,808.7 L286.3,805.1 L286.4,808.4 L286.5,804.6 L286.6,811.5 L286.7,805.3 L286.8,809.1 L286.9,806.2 L287.0,809.9 L287.1,804.6 L287.2,809.7 L287.3,803.2 L287.4,810.2 L287.5,806.6 L287.6,808.7 L287.7,803.3 L287.8,810.6 L287.9,806.2 L288.0,811.9 L288.1,807.0 L288.2,812.4 L288.3,802.9 L288.4,812.6 L288.5,805.7 L288.6,812.6 L288.7,803.1 L288.8,809.2 L288.9,804.0 L289.0,808.9 L289.1,806.2 L289.2,813.0 L289.3,806.4 L289.4,812.5 L289.5,803.1 L289.6,812.1 L289.7,806.6 L289.8,810.3 L289.9,804.6 L290.0,811.7 L290.1,805.2 L290.2,811.2 L290.3,806.8 L290.4,811.3 L290.5,806.0 L290.6,810.5 L290.7,804.0 L290.8,811.9 L290.9,804.4 L291.0,811.7 L291.1,806.1 L291.2,809.7 L291.3,803.8 L291.4,810.6 L291.5,804.4 L291.6,811.5 L291.7,804.6 L291.8,810.8 L291.9,806.1 L292.0,808.9 L292.1,806.9 L292.2,810.9 L292.3,804.2 L292.4,813.5 L292.5,805.7 L292.6,809.4 L292.7,806.7 L292.8,809.6 L292.9,806.9 L293.0,810.4 L293.1,805.5 L293.2,809.6 L293.3,805.9 L293.4,810.5 L293.5,805.7 L293.6,809.8 L293.7,806.8 L293.8,811.7 L293.9,806.7 L294.0,810.2 L294.1,804.1 L294.2,808.5 L294.3,805.3 L294.4,810.8 L294.5,805.3 L294.6,808.7 L294.7,803.1 L294.8,813.2 L294.9,806.3 L295.0,786.8 L295.1,828.2 L295.2,809.2 L295.3,805.2 L295.4,813.0 L295.5,805.3 L295.6,814.4 L295.7,802.9 L295.8,814.7 L295.9,801.9 L296.0,813.9 L296.1,787.5 L296.2,827.1 L296.3,806.1 L296.4,811.5 L296.5,804.1 L296.6,815.9 L296.7,801.8 L296.8,812.8 L296.9,804.2 L297.0,816.2 L297.1,803.4 L297.2,816.2 L297.3,802.9 L297.4,815.3 L297.5,799.0 L297.6,815.4 L297.7,798.9 L297.8,814.3 L297.9,804.8 L298.0,811.0 L298.1,805.3 L298.2,812.9 L298.3,805.8 L298.4,811.4 L298.5,802.2 L298.6,819.3 L298.7,801.2 L298.8,781.6 L298.9,833.5 L299.0,821.9 L299.1,795.1 L299.2,821.3 L299.3,798.5 L299.4,813.2 L299.5,799.3 L299.6,818.5 L299.7,792.4 L299.8,823.0 L299.9,800.2 L300.0,754.8 L300.1,856.8 L300.2,817.5 L300.3,778.3 L300.4,833.3 L300.5,766.1 L300.6,834.3 L300.7,793.3 L300.8,816.1 L300.9,793.9 L301.0,811.4 L301.1,799.8 L301.2,816.6 L301.3,798.6 L301.4,818.6 L301.5,801.5 L301.6,812.4 L301.7,794.0 L301.8,819.0 L301.9,802.5 L302.0,819.0 L302.1,805.0 L302.2,815.6 L302.3,805.3 L302.4,821.7 L302.5,801.6 L302.6,817.1 L302.7,799.3 L302.8,809.6 L302.9,797.2 L303.0,811.1 L303.1,789.8 L303.2,825.8 L303.3,797.5 L303.4,817.5 L303.5,802.0 L303.6,816.1 L303.7,804.1 L303.8,813.1 L303.9,803.3 L304.0,811.0 L304.1,803.6 L304.2,809.3 L304.3,803.4 L304.4,808.9 L304.5,805.9 L304.6,814.6 L304.7,802.6 L304.8,810.6 L304.9,803.5 L305.0,810.5 L305.1,806.1 L305.2,810.8 L305.3,806.9 L305.4,778.2 L305.5,838.4 L305.6,811.4 L305.7,804.5 L305.8,812.4 L305.9,803.1 L306.0,811.7 L306.1,804.0 L306.2,811.9 L306.3,804.1 L306.4,811.2 L306.5,805.0 L306.6,811.9 L306.7,804.9 L306.8,811.6 L306.9,804.7 L307.0,808.7 L307.1,804.4 L307.2,811.1 L307.3,805.9 L307.4,810.5 L307.5,805.9 L307.6,811.8 L307.7,805.8 L307.8,810.7 L307.9,805.6 L308.0,810.5 L308.1,806.8 L308.2,808.8 L308.3,806.2 L308.4,810.8 L308.5,804.9 L308.6,809.7 L308.7,804.6 L308.8,809.6 L308.9,804.7 L309.0,810.0 L309.1,806.1 L309.2,808.8 L309.3,805.9 L309.4,809.6 L309.5,807.1 L309.6,810.5 L309.7,807.0 L309.8,810.6 L309.9,806.2 L310.0,811.2 L310.1,806.0 L310.2,808.3 L310.3,805.6 L310.4,809.0 L310.5,805.9 L310.6,811.3 L310.7,807.0 L310.8,808.9 L310.9,807.0 L311.0,809.0 L311.1,807.3 L311.2,809.8 L311.3,805.0 L311.4,809.6 L311.5,805.4 L311.6,810.7 L311.7,805.5 L311.8,808.6 L311.9,802.6 L312.0,811.0 L312.1,804.6 L312.2,808.8 L312.3,805.1 L312.4,808.9 L312.5,806.6 L312.6,809.3 L312.7,805.7 L312.8,810.3 L312.9,806.7 L313.0,809.0 L313.1,807.4 L313.2,809.7 L313.3,805.7 L313.4,809.4 L313.5,804.9 L313.6,810.3 L313.7,806.4 L313.8,809.9 L313.9,805.9 L314.0,808.8 L314.1,806.3 L314.2,810.2 L314.3,806.3 L314.4,808.7 L314.5,806.2 L314.6,808.9 L314.7,806.3 L314.8,808.5 L314.9,805.6 L315.0,809.7 L315.1,806.3 L315.2,810.6 L315.3,804.3 L315.4,809.7 L315.5,806.2 L315.6,810.9 L315.7,801.6 L315.8,809.4 L315.9,805.8 L316.0,808.8 L316.1,804.3 L316.2,810.3 L316.3,804.0 L316.4,810.1 L316.5,806.0 L316.6,815.2 L316.7,807.3 L316.8,810.0 L316.9,805.2 L317.0,811.8 L317.1,804.5 L317.2,811.3 L317.3,804.5 L317.4,809.6 L317.5,805.3 L317.6,809.0 L317.7,807.0 L317.8,808.5 L317.9,804.3 L318.0,810.4 L318.1,805.2 L318.2,810.9 L318.3,804.6 L318.4,813.5 L318.5,805.4 L318.6,811.3 L318.7,806.6 L318.8,810.8 L318.9,805.9 L319.0,808.8 L319.1,801.7 L319.2,811.7 L319.3,805.8 L319.4,808.7 L319.5,805.3 L319.6,810.0 L319.7,807.0 L319.8,809.2 L319.9,805.4 L320.0,808.8 L320.1,805.3 L320.2,808.6 L320.3,805.1 L320.4,810.4 L320.5,804.9 L320.6,811.3 L320.7,804.0 L320.8,811.2 L320.9,805.0 L321.0,811.2 L321.1,804.9 L321.2,811.5 L321.3,804.4 L321.4,811.2 L321.5,806.5 L321.6,812.2 L321.7,806.0 L321.8,816.8 L321.9,802.2 L322.0,811.3 L322.1,803.1 L322.2,808.7 L322.3,802.0 L322.4,810.4 L322.5,806.2 L322.6,811.3 L322.7,805.8 L322.8,810.8 L322.9,798.8 L323.0,819.8 L323.1,801.2 L323.2,811.9 L323.3,802.7 L323.4,810.4 L323.5,803.2 L323.6,814.2 L323.7,805.6 L323.8,811.7 L323.9,806.2 L324.0,785.8 L324.1,837.8 L324.2,809.5 L324.3,801.0 L324.4,813.4 L324.5,806.1 L324.6,791.9 L324.7,798.4 L324.8,819.5 L324.9,820.1 L325.0,822.6 L325.1,797.6 L325.2,822.1 L325.3,804.8 L325.4,809.3 L325.5,805.7 L325.6,809.7 L325.7,802.3 L325.8,812.5 L325.9,807.1 L326.0,808.6 L326.1,806.8 L326.2,810.0 L326.3,804.5 L326.4,812.2 L326.5,805.5 L326.6,809.1 L326.7,803.7 L326.8,810.5 L326.9,807.1 L327.0,808.9 L327.1,795.9 L327.2,828.0 L327.3,805.2 L327.4,808.3 L327.5,805.2 L327.6,809.0 L327.7,803.1 L327.8,808.2 L327.9,806.7 L328.0,809.2 L328.1,806.0 L328.2,808.9 L328.3,806.7 L328.4,809.5 L328.5,807.2 L328.6,808.6 L328.7,806.6 L328.8,808.7 L328.9,806.9 L329.0,808.4 L329.1,807.0 L329.2,808.2 L329.3,806.8 L329.4,809.0 L329.5,807.3 L329.6,808.3 L329.7,806.7 L329.8,809.2 L329.9,807.4 L330.0,809.2 L330.1,805.2 L330.2,810.1 L330.3,806.5 L330.4,809.0 L330.5,806.7 L330.6,808.4 L330.7,807.6 L330.8,809.2 L330.9,807.1 L331.0,810.5 L331.1,807.0 L331.2,808.1 L331.3,806.5 L331.4,809.0 L331.5,806.3 L331.6,809.0 L331.7,806.3 L331.8,808.8 L331.9,807.4 L332.0,809.4 L332.1,807.4 L332.2,808.8 L332.3,807.5 L332.4,808.5 L332.5,807.4 L332.6,808.1 L332.7,806.2 L332.8,808.9 L332.9,807.3 L333.0,808.9 L333.1,806.6 L333.2,808.3 L333.3,807.6 L333.4,809.2 L333.5,806.7 L333.6,808.5 L333.7,806.5 L333.8,808.2 L333.9,805.5 L334.0,808.6 L334.1,806.8 L334.2,810.1 L334.3,806.2 L334.4,808.7 L334.5,807.5 L334.6,808.2 L334.7,806.6 L334.8,808.9 L334.9,806.2 L335.0,808.5 L335.1,806.3 L335.2,808.8 L335.3,804.5 L335.4,808.5 L335.5,807.3 L335.6,809.1 L335.7,807.1 L335.8,808.9 L335.9,806.6 L336.0,809.5 L336.1,806.4 L336.2,809.1 L336.3,807.6 L336.4,809.4 L336.5,807.3 L336.6,808.0 L336.7,806.1 L336.8,810.1 L336.9,806.9 L337.0,808.4 L337.1,806.2 L337.2,809.1 L337.3,806.1 L337.4,809.5 L337.5,807.0 L337.6,809.3 L337.7,807.2 L337.8,809.5 L337.9,806.3 L338.0,808.8 L338.1,807.3 L338.2,808.0 L338.3,806.9 L338.4,809.2 L338.5,806.8 L338.6,809.3 L338.7,807.2 L338.8,809.4 L338.9,807.1 L339.0,808.4 L339.1,806.9 L339.2,808.5 L339.3,807.3 L339.4,808.4 L339.5,807.6 L339.6,808.2 L339.7,807.0 L339.8,809.4 L339.9,807.4 L340.0,808.9 L340.1,807.2 L340.2,808.3 L340.3,806.6 L340.4,808.3 L340.5,807.1 L340.6,808.7 L340.7,807.6 L340.8,808.6 L340.9,806.5 L341.0,809.0 L341.1,807.6 L341.2,808.0 L341.3,806.7 L341.4,808.5 L341.5,806.9 L341.6,808.4 L341.7,807.6 L341.8,808.8 L341.9,806.8 L342.0,808.2 L342.1,806.9 L342.2,808.3 L342.3,806.9 L342.4,808.8 L342.5,807.0 L342.6,808.2 L342.7,807.0 L342.8,808.1 L342.9,806.8 L343.0,808.9 L343.1,806.9 L343.2,808.0 L343.3,807.1 L343.4,808.6 L343.5,807.4 L343.6,808.0 L343.7,806.9 L343.8,808.0 L343.9,807.3 L344.0,808.5 L344.1,807.5 L344.2,808.2 L344.3,807.5 L344.4,808.6 L344.5,805.5 L344.6,808.5 L344.7,807.2 L344.8,808.8 L344.9,806.9 L345.0,808.7 L345.1,807.5 L345.2,808.4 L345.3,807.3 L345.4,808.4 L345.5,806.7 L345.6,809.8 L345.7,806.6 L345.8,808.9 L345.9,807.2 L346.0,808.6 L346.1,807.1 L346.2,808.0 L346.3,806.6 L346.4,808.8 L346.5,807.5 L346.6,808.7 L346.7,807.4 L346.8,808.3 L346.9,805.7 L347.0,809.0 L347.1,806.9 L347.2,808.1 L347.3,807.2 L347.4,808.9 L347.5,807.3 L347.6,808.5 L347.7,807.1 L347.8,808.4 L347.9,807.0 L348.0,808.1 L348.1,807.2 L348.2,808.4 L348.3,806.8 L348.4,808.5 L348.5,806.9 L348.6,808.0 L348.7,806.8 L348.8,808.0 L348.9,807.1 L349.0,808.7 L349.1,806.7 L349.2,809.3 L349.3,807.1 L349.4,808.0 L349.5,807.2 L349.6,808.3 L349.7,806.5 L349.8,808.0 L349.9,807.2 L350.0,810.3 L350.1,806.9 L350.2,808.1 L350.3,807.4 L350.4,808.6 L350.5,807.1 L350.6,808.6 L350.7,806.8 L350.8,808.3 L350.9,807.1 L351.0,808.0 L351.1,807.0 L351.2,808.9 L351.3,806.6 L351.4,808.7 L351.5,807.1 L351.6,808.0 L351.7,807.3 L351.8,808.6 L351.9,807.2 L352.0,808.5 L352.1,807.5 L352.2,808.2 L352.3,807.4 L352.4,808.0 L352.5,806.8 L352.6,808.1 L352.7,807.2 L352.8,808.4 L352.9,806.8 L353.0,808.7 L353.1,807.5 L353.2,808.8 L353.3,806.9 L353.4,808.7 L353.5,806.9 L353.6,808.9 L353.7,806.8 L353.8,808.6 L353.9,807.1 L354.0,808.6 L354.1,806.8 L354.2,808.2 L354.3,806.8 L354.4,808.6 L354.5,807.2 L354.6,808.5 L354.7,806.9 L354.8,808.1 L354.9,807.3 L355.0,808.1 L355.1,807.2 L355.2,808.6 L355.3,807.2 L355.4,808.6 L355.5,807.2 L355.6,808.8 L355.7,806.8 L355.8,808.2 L355.9,807.1 L356.0,808.9 L356.1,807.2 L356.2,808.2 L356.3,807.6 L356.4,808.3 L356.5,806.6 L356.6,808.6 L356.7,807.3 L356.8,808.0 L356.9,807.1 L357.0,808.1 L357.1,807.4 L357.2,808.7 L357.3,806.8 L357.4,809.0 L357.5,806.7 L357.6,809.0 L357.7,807.0 L357.8,808.5 L357.9,807.2 L358.0,809.0 L358.1,806.7 L358.2,808.9 L358.3,807.5 L358.4,808.2 L358.5,806.7 L358.6,808.7 L358.7,806.6 L358.8,808.2 L358.9,807.4 L359.0,808.1 L359.1,807.5 L359.2,808.1 L359.3,806.5 L359.4,808.3 L359.5,806.7 L359.6,808.7 L359.7,807.5 L359.8,809.1 L359.9,806.7 L360.0,808.2 L360.1,806.9 L360.2,808.6 L360.3,807.1 L360.4,808.4 L360.5,807.2 L360.6,809.1 L360.7,806.7 L360.8,808.2 L360.9,806.5 L361.0,809.0 L361.1,807.5 L361.2,808.6 L361.3,807.1 L361.4,808.5 L361.5,807.1 L361.6,808.1 L361.7,806.8 L361.8,808.0 L361.9,806.7 L362.0,808.7 L362.1,807.2 L362.2,808.6 L362.3,806.4 L362.4,808.9 L362.5,807.6 L362.6,808.0 L362.7,807.1 L362.8,808.8 L362.9,807.3 L363.0,808.9 L363.1,807.6 L363.2,808.3 L363.3,806.8 L363.4,808.7 L363.5,807.6 L363.6,808.6 L363.7,807.6 L363.8,808.0 L363.9,807.5 L364.0,808.8 L364.1,807.5 L364.2,808.1 L364.3,807.2 L364.4,808.3 L364.5,807.3 L364.6,808.2 L364.7,807.1 L364.8,808.6 L364.9,806.9 L365.0,808.7 L365.1,806.8 L365.2,808.0 L365.3,807.2 L365.4,808.2 L365.5,807.4 L365.6,808.3 L365.7,807.1 L365.8,808.4 L365.9,807.6 L366.0,808.4 L366.1,806.8 L366.2,808.8 L366.3,806.9 L366.4,808.7 L366.5,807.4 L366.6,808.8 L366.7,807.5 L366.8,808.1 L366.9,806.8 L367.0,808.6 L367.1,806.8 L367.2,808.6 L367.3,807.0 L367.4,808.5 L367.5,807.0 L367.6,808.8 L367.7,806.7 L367.8,808.0 L367.9,806.7 L368.0,808.2 L368.1,807.7 L368.2,808.8 L368.3,807.4 L368.4,809.6 L368.5,807.5 L368.6,808.9 L368.7,807.2 L368.8,809.0 L368.9,806.9 L369.0,808.9 L369.1,806.9 L369.2,809.0 L369.3,807.6 L369.4,808.0 L369.5,807.6 L369.6,809.0 L369.7,806.6 L369.8,808.3 L369.9,807.5 L370.0,808.4 L370.1,806.6 L370.2,809.0 L370.3,807.1 L370.4,808.2 L370.5,806.8 L370.6,808.9 L370.7,807.3 L370.8,808.7 L370.9,806.8 L371.0,808.2 L371.1,807.0 L371.2,808.3 L371.3,806.8 L371.4,808.8 L371.5,807.6 L371.6,808.0 L371.7,807.6" fill="none" stroke="#f00000" stroke-width="0.55" stroke-linejoin="bevel"/>
<path d="M174.1,864.3 L174.2,867.0 L174.3,865.1 L174.4,868.5 L174.5,863.9 L174.6,869.7 L174.7,862.5 L174.8,869.3 L174.9,865.2 L175.0,868.4 L175.1,863.2 L175.2,866.6 L175.3,863.7 L175.4,867.6 L175.5,864.6 L175.6,869.2 L175.7,862.1 L175.8,866.8 L175.9,864.1 L176.0,872.8 L176.1,864.0 L176.2,867.1 L176.3,865.2 L176.4,868.2 L176.5,863.1 L176.6,867.8 L176.7,862.6 L176.8,868.2 L176.9,862.8 L177.0,868.3 L177.1,863.4 L177.2,867.8 L177.3,864.3 L177.4,868.7 L177.5,862.6 L177.6,868.7 L177.7,864.0 L177.8,866.7 L177.9,864.8 L178.0,868.2 L178.1,863.3 L178.2,866.4 L178.3,862.5 L178.4,868.6 L178.5,863.2 L178.6,869.3 L178.7,863.6 L178.8,867.8 L178.9,864.8 L179.0,868.4 L179.1,863.4 L179.2,869.1 L179.3,862.8 L179.4,867.7 L179.5,863.1 L179.6,869.0 L179.7,864.3 L179.8,868.0 L179.9,863.9 L180.0,867.6 L180.1,864.2 L180.2,866.9 L180.3,865.0 L180.4,867.1 L180.5,864.0 L180.6,868.0 L180.7,863.5 L180.8,867.0 L180.9,864.2 L181.0,867.4 L181.1,865.1 L181.2,868.6 L181.3,864.7 L181.4,867.9 L181.5,863.9 L181.6,868.1 L181.7,863.6 L181.8,868.5 L181.9,864.8 L182.0,867.8 L182.1,864.8 L182.2,867.0 L182.3,863.7 L182.4,868.0 L182.5,863.9 L182.6,866.5 L182.7,863.4 L182.8,867.7 L182.9,864.5 L183.0,868.3 L183.1,865.3 L183.2,866.9 L183.3,865.2 L183.4,867.0 L183.5,863.8 L183.6,866.6 L183.7,863.9 L183.8,867.6 L183.9,864.8 L184.0,868.1 L184.1,865.5 L184.2,866.8 L184.3,864.5 L184.4,867.1 L184.5,864.7 L184.6,868.4 L184.7,864.4 L184.8,867.7 L184.9,864.6 L185.0,866.7 L185.1,865.3 L185.2,867.9 L185.3,864.0 L185.4,868.4 L185.5,864.2 L185.6,867.1 L185.7,864.7 L185.8,867.5 L185.9,865.5 L186.0,868.0 L186.1,864.0 L186.2,866.4 L186.3,864.0 L186.4,867.0 L186.5,864.6 L186.6,867.4 L186.7,864.1 L186.8,867.5 L186.9,865.5 L187.0,866.6 L187.1,864.0 L187.2,866.5 L187.3,864.5 L187.4,867.8 L187.5,865.1 L187.6,867.5 L187.7,864.5 L187.8,866.6 L187.9,863.6 L188.0,866.5 L188.1,863.4 L188.2,867.2 L188.3,864.5 L188.4,866.9 L188.5,863.2 L188.6,869.0 L188.7,864.9 L188.8,868.1 L188.9,865.4 L189.0,867.5 L189.1,864.8 L189.2,868.3 L189.3,864.8 L189.4,868.3 L189.5,862.5 L189.6,867.2 L189.7,865.0 L189.8,869.1 L189.9,865.2 L190.0,861.9 L190.1,873.9 L190.2,866.9 L190.3,863.7 L190.4,869.7 L190.5,864.9 L190.6,869.2 L190.7,863.1 L190.8,866.6 L190.9,864.8 L191.0,869.5 L191.1,865.2 L191.2,867.7 L191.3,865.3 L191.4,867.3 L191.5,864.6 L191.6,869.1 L191.7,865.1 L191.8,866.8 L191.9,863.5 L192.0,867.1 L192.1,863.5 L192.2,866.6 L192.3,864.7 L192.4,867.7 L192.5,862.8 L192.6,869.3 L192.7,864.7 L192.8,868.2 L192.9,862.4 L193.0,868.3 L193.1,862.6 L193.2,869.4 L193.3,864.2 L193.4,868.5 L193.5,863.6 L193.6,867.1 L193.7,863.0 L193.8,869.2 L193.9,865.3 L194.0,869.4 L194.1,865.3 L194.2,867.6 L194.3,865.2 L194.4,867.5 L194.5,863.7 L194.6,867.8 L194.7,864.4 L194.8,867.8 L194.9,863.5 L195.0,868.2 L195.1,865.1 L195.2,867.8 L195.3,865.3 L195.4,868.0 L195.5,865.4 L195.6,867.7 L195.7,864.9 L195.8,866.4 L195.9,864.3 L196.0,868.0 L196.1,865.4 L196.2,868.1 L196.3,865.0 L196.4,867.9 L196.5,864.5 L196.6,868.3 L196.7,864.7 L196.8,866.6 L196.9,864.6 L197.0,868.1 L197.1,863.4 L197.2,868.6 L197.3,864.5 L197.4,866.9 L197.5,863.8 L197.6,868.0 L197.7,863.7 L197.8,866.4 L197.9,863.8 L198.0,868.2 L198.1,865.0 L198.2,866.5 L198.3,863.9 L198.4,868.5 L198.5,865.3 L198.6,869.0 L198.7,864.3 L198.8,867.4 L198.9,863.4 L199.0,866.7 L199.1,862.5 L199.2,869.6 L199.3,865.3 L199.4,867.6 L199.5,864.5 L199.6,867.6 L199.7,862.8 L199.8,871.1 L199.9,864.7 L200.0,862.9 L200.1,875.9 L200.2,867.8 L200.3,863.2 L200.4,868.7 L200.5,863.0 L200.6,867.7 L200.7,863.7 L200.8,869.0 L200.9,864.3 L201.0,867.7 L201.1,864.5 L201.2,868.1 L201.3,863.9 L201.4,868.2 L201.5,863.5 L201.6,866.6 L201.7,863.4 L201.8,868.1 L201.9,865.3 L202.0,867.2 L202.1,863.9 L202.2,867.9 L202.3,863.2 L202.4,867.2 L202.5,864.7 L202.6,867.4 L202.7,863.6 L202.8,866.7 L202.9,863.9 L203.0,867.0 L203.1,863.9 L203.2,868.2 L203.3,864.7 L203.4,868.3 L203.5,864.1 L203.6,867.5 L203.7,864.1 L203.8,866.5 L203.9,865.1 L204.0,867.7 L204.1,863.5 L204.2,866.4 L204.3,864.2 L204.4,868.4 L204.5,864.0 L204.6,868.0 L204.7,863.6 L204.8,867.4 L204.9,864.3 L205.0,868.3 L205.1,865.4 L205.2,867.9 L205.3,863.8 L205.4,868.3 L205.5,864.2 L205.6,868.3 L205.7,863.2 L205.8,866.4 L205.9,865.5 L206.0,866.7 L206.1,863.7 L206.2,866.7 L206.3,865.4 L206.4,868.1 L206.5,864.9 L206.6,866.9 L206.7,863.5 L206.8,867.9 L206.9,861.2 L207.0,867.4 L207.1,863.6 L207.2,868.3 L207.3,865.4 L207.4,868.2 L207.5,863.9 L207.6,868.0 L207.7,864.0 L207.8,869.6 L207.9,863.5 L208.0,868.2 L208.1,862.2 L208.2,866.5 L208.3,864.4 L208.4,869.0 L208.5,863.2 L208.6,867.0 L208.7,863.0 L208.8,867.4 L208.9,863.5 L209.0,867.6 L209.1,863.9 L209.2,868.3 L209.3,865.2 L209.4,868.6 L209.5,864.6 L209.6,866.5 L209.7,864.8 L209.8,866.7 L209.9,865.1 L210.0,868.4 L210.1,865.1 L210.2,868.1 L210.3,863.1 L210.4,866.4 L210.5,864.4 L210.6,868.6 L210.7,864.5 L210.8,867.7 L210.9,864.5 L211.0,868.2 L211.1,863.5 L211.2,867.4 L211.3,865.5 L211.4,868.6 L211.5,864.9 L211.6,868.2 L211.7,863.1 L211.8,867.4 L211.9,864.4 L212.0,867.5 L212.1,865.0 L212.2,866.9 L212.3,862.8 L212.4,868.7 L212.5,864.9 L212.6,867.9 L212.7,864.0 L212.8,866.5 L212.9,862.6 L213.0,866.8 L213.1,865.3 L213.2,869.1 L213.3,863.6 L213.4,869.4 L213.5,865.4 L213.6,867.4 L213.7,863.3 L213.8,867.8 L213.9,862.4 L214.0,866.7 L214.1,863.0 L214.2,868.1 L214.3,865.0 L214.4,867.5 L214.5,864.6 L214.6,868.9 L214.7,864.3 L214.8,868.6 L214.9,863.0 L215.0,869.3 L215.1,864.4 L215.2,867.6 L215.3,862.5 L215.4,866.7 L215.5,864.5 L215.6,869.2 L215.7,864.6 L215.8,867.7 L215.9,865.3 L216.0,868.8 L216.1,864.5 L216.2,867.7 L216.3,864.6 L216.4,866.5 L216.5,864.9 L216.6,867.5 L216.7,864.6 L216.8,867.4 L216.9,864.6 L217.0,869.3 L217.1,864.6 L217.2,868.3 L217.3,863.8 L217.4,868.5 L217.5,862.7 L217.6,868.8 L217.7,864.5 L217.8,867.7 L217.9,864.5 L218.0,868.7 L218.1,864.7 L218.2,867.8 L218.3,863.1 L218.4,867.7 L218.5,863.3 L218.6,868.2 L218.7,864.6 L218.8,867.5 L218.9,863.7 L219.0,867.8 L219.1,863.3 L219.2,868.4 L219.3,865.0 L219.4,866.8 L219.5,865.2 L219.6,867.3 L219.7,865.4 L219.8,867.8 L219.9,864.4 L220.0,866.6 L220.1,863.0 L220.2,866.5 L220.3,861.2 L220.4,867.0 L220.5,863.4 L220.6,868.8 L220.7,864.7 L220.8,868.4 L220.9,864.1 L221.0,868.6 L221.1,865.1 L221.2,866.4 L221.3,863.8 L221.4,868.4 L221.5,865.3 L221.6,868.6 L221.7,863.7 L221.8,867.0 L221.9,863.4 L222.0,867.6 L222.1,862.1 L222.2,869.3 L222.3,863.8 L222.4,857.9 L222.5,875.9 L222.6,869.2 L222.7,862.3 L222.8,871.1 L222.9,863.2 L223.0,871.7 L223.1,861.2 L223.2,872.7 L223.3,862.1 L223.4,870.7 L223.5,864.6 L223.6,868.9 L223.7,860.2 L223.8,870.5 L223.9,860.9 L224.0,871.7 L224.1,859.5 L224.2,869.4 L224.3,860.9 L224.4,872.4 L224.5,865.0 L224.6,872.1 L224.7,864.0 L224.8,870.0 L224.9,853.1 L225.0,885.9 L225.1,863.4 L225.2,871.1 L225.3,860.2 L225.4,871.1 L225.5,859.7 L225.6,869.0 L225.7,864.3 L225.8,857.9 L225.9,875.9 L226.0,846.9 L226.1,891.9 L226.2,867.7 L226.3,860.4 L226.4,868.4 L226.5,859.8 L226.6,871.4 L226.7,864.7 L226.8,870.9 L226.9,863.2 L227.0,871.5 L227.1,856.5 L227.2,883.5 L227.3,859.1 L227.4,872.3 L227.5,860.3 L227.6,873.3 L227.7,862.9 L227.8,871.2 L227.9,862.8 L228.0,873.1 L228.1,860.2 L228.2,871.3 L228.3,861.8 L228.4,868.8 L228.5,862.9 L228.6,868.6 L228.7,861.6 L228.8,867.7 L228.9,864.1 L229.0,871.2 L229.1,862.6 L229.2,870.5 L229.3,864.9 L229.4,868.9 L229.5,861.0 L229.6,869.1 L229.7,862.2 L229.8,868.0 L229.9,862.2 L230.0,868.2 L230.1,864.6 L230.2,867.2 L230.3,865.3 L230.4,867.9 L230.5,862.9 L230.6,867.2 L230.7,864.3 L230.8,869.1 L230.9,862.8 L231.0,868.5 L231.1,863.4 L231.2,868.0 L231.3,864.9 L231.4,867.9 L231.5,862.3 L231.6,868.4 L231.7,864.4 L231.8,867.4 L231.9,864.6 L232.0,868.5 L232.1,863.3 L232.2,866.8 L232.3,863.4 L232.4,866.9 L232.5,863.8 L232.6,867.6 L232.7,863.2 L232.8,866.7 L232.9,865.3 L233.0,868.4 L233.1,864.8 L233.2,867.0 L233.3,864.5 L233.4,867.0 L233.5,863.9 L233.6,867.7 L233.7,863.3 L233.8,868.2 L233.9,863.3 L234.0,868.1 L234.1,865.3 L234.2,866.4 L234.3,865.5 L234.4,866.9 L234.5,864.6 L234.6,866.8 L234.7,865.4 L234.8,866.3 L234.9,865.3 L235.0,867.5 L235.1,865.3 L235.2,867.5 L235.3,863.3 L235.4,868.2 L235.5,864.4 L235.6,868.2 L235.7,865.2 L235.8,868.8 L235.9,863.4 L236.0,868.5 L236.1,865.5 L236.2,867.9 L236.3,863.5 L236.4,869.1 L236.5,863.2 L236.6,867.1 L236.7,862.6 L236.8,869.0 L236.9,864.0 L237.0,868.0 L237.1,864.5 L237.2,867.2 L237.3,864.4 L237.4,867.4 L237.5,863.0 L237.6,867.5 L237.7,864.7 L237.8,867.1 L237.9,865.3 L238.0,869.2 L238.1,862.6 L238.2,870.3 L238.3,864.3 L238.4,868.8 L238.5,864.6 L238.6,867.6 L238.7,862.8 L238.8,867.6 L238.9,863.8 L239.0,866.6 L239.1,862.6 L239.2,867.5 L239.3,863.7 L239.4,867.5 L239.5,862.4 L239.6,869.0 L239.7,863.8 L239.8,867.4 L239.9,865.4 L240.0,866.8 L240.1,864.4 L240.2,867.7 L240.3,865.1 L240.4,866.5 L240.5,863.1 L240.6,859.9 L240.7,871.9 L240.8,868.8 L240.9,862.7 L241.0,866.9 L241.1,864.9 L241.2,869.1 L241.3,861.6 L241.4,870.0 L241.5,862.5 L241.6,869.6 L241.7,861.2 L241.8,868.5 L241.9,862.0 L242.0,869.9 L242.1,864.6 L242.2,871.1 L242.3,850.9 L242.4,877.9 L242.5,860.5 L242.6,866.8 L242.7,862.1 L242.8,869.3 L242.9,864.9 L243.0,871.0 L243.1,859.9 L243.2,871.9 L243.3,863.2 L243.4,869.8 L243.5,864.9 L243.6,868.3 L243.7,863.0 L243.8,867.1 L243.9,855.8 L244.0,870.2 L244.1,862.6 L244.2,868.1 L244.3,862.0 L244.4,867.0 L244.5,862.9 L244.6,867.8 L244.7,865.3 L244.8,868.6 L244.9,865.1 L245.0,867.7 L245.1,864.1 L245.2,867.9 L245.3,864.3 L245.4,866.9 L245.5,860.8 L245.6,866.4 L245.7,864.3 L245.8,868.1 L245.9,863.0 L246.0,857.6 L246.1,872.7 L246.2,866.4 L246.3,863.1 L246.4,859.7 L246.5,872.8 L246.6,868.5 L246.7,865.5 L246.8,867.8 L246.9,865.4 L247.0,868.5 L247.1,863.3 L247.2,866.4 L247.3,863.5 L247.4,867.2 L247.5,864.0 L247.6,867.4 L247.7,863.6 L247.8,868.0 L247.9,864.5 L248.0,868.1 L248.1,864.3 L248.2,867.6 L248.3,863.8 L248.4,866.9 L248.5,864.9 L248.6,867.1 L248.7,864.7 L248.8,868.3 L248.9,865.0 L249.0,866.7 L249.1,864.3 L249.2,868.1 L249.3,864.1 L249.4,867.9 L249.5,864.3 L249.6,868.0 L249.7,863.9 L249.8,866.3 L249.9,863.6 L250.0,868.0 L250.1,864.2 L250.2,866.7 L250.3,865.0 L250.4,866.9 L250.5,864.2 L250.6,866.4 L250.7,865.2 L250.8,868.6 L250.9,863.9 L251.0,866.6 L251.1,864.7 L251.2,868.5 L251.3,863.4 L251.4,867.2 L251.5,863.8 L251.6,868.0 L251.7,863.7 L251.8,867.7 L251.9,862.0 L252.0,871.1 L252.1,864.4 L252.2,867.7 L252.3,862.7 L252.4,868.6 L252.5,864.7 L252.6,867.8 L252.7,864.6 L252.8,868.1 L252.9,864.7 L253.0,873.0 L253.1,865.3 L253.2,866.8 L253.3,862.1 L253.4,869.1 L253.5,864.9 L253.6,868.8 L253.7,862.7 L253.8,866.9 L253.9,865.2 L254.0,866.8 L254.1,862.4 L254.2,868.6 L254.3,864.9 L254.4,866.4 L254.5,863.5 L254.6,868.1 L254.7,864.0 L254.8,866.6 L254.9,863.0 L255.0,867.4 L255.1,863.1 L255.2,867.2 L255.3,864.1 L255.4,867.7 L255.5,863.1 L255.6,868.4 L255.7,863.9 L255.8,867.5 L255.9,864.3 L256.0,867.3 L256.1,865.0 L256.2,867.9 L256.3,865.3 L256.4,866.9 L256.5,863.8 L256.6,868.2 L256.7,863.2 L256.8,866.7 L256.9,865.3 L257.0,868.3 L257.1,863.3 L257.2,868.0 L257.3,864.1 L257.4,867.0 L257.5,865.0 L257.6,866.6 L257.7,864.3 L257.8,868.8 L257.9,864.7 L258.0,866.5 L258.1,863.5 L258.2,867.8 L258.3,864.3 L258.4,869.1 L258.5,863.0 L258.6,868.3 L258.7,863.2 L258.8,867.9 L258.9,864.2 L259.0,866.6 L259.1,864.4 L259.2,868.2 L259.3,863.9 L259.4,868.3 L259.5,864.5 L259.6,868.4 L259.7,865.4 L259.8,867.6 L259.9,863.0 L260.0,867.2 L260.1,865.5 L260.2,869.2 L260.3,864.3 L260.4,867.0 L260.5,865.5 L260.6,868.2 L260.7,865.5 L260.8,866.6 L260.9,863.7 L261.0,867.8 L261.1,864.1 L261.2,868.8 L261.3,864.9 L261.4,866.5 L261.5,863.3 L261.6,866.3 L261.7,864.2 L261.8,867.9 L261.9,863.2 L262.0,868.5 L262.1,864.1 L262.2,866.9 L262.3,864.2 L262.4,867.8 L262.5,864.4 L262.6,867.5 L262.7,864.4 L262.8,867.6 L262.9,865.2 L263.0,868.0 L263.1,863.4 L263.2,867.6 L263.3,864.2 L263.4,867.0 L263.5,865.4 L263.6,868.4 L263.7,863.6 L263.8,866.7 L263.9,865.4 L264.0,867.1 L264.1,863.3 L264.2,866.7 L264.3,864.3 L264.4,868.1 L264.5,863.1 L264.6,867.2 L264.7,864.8 L264.8,867.2 L264.9,863.7 L265.0,866.2 L265.1,863.9 L265.2,867.2 L265.3,865.2 L265.4,867.8 L265.5,860.7 L265.6,867.2 L265.7,864.7 L265.8,867.8 L265.9,863.2 L266.0,867.9 L266.1,865.2 L266.2,867.1 L266.3,865.0 L266.4,867.7 L266.5,864.2 L266.6,866.8 L266.7,864.3 L266.8,867.6 L266.9,863.8 L267.0,868.2 L267.1,864.4 L267.2,867.2 L267.3,865.1 L267.4,867.3 L267.5,865.0 L267.6,870.1 L267.7,865.3 L267.8,866.7 L267.9,863.1 L268.0,866.8 L268.1,863.8 L268.2,868.5 L268.3,864.6 L268.4,867.3 L268.5,863.4 L268.6,867.0 L268.7,863.7 L268.8,867.0 L268.9,863.4 L269.0,868.4 L269.1,863.9 L269.2,868.5 L269.3,863.7 L269.4,866.9 L269.5,863.5 L269.6,866.8 L269.7,864.6 L269.8,868.6 L269.9,864.1 L270.0,866.3 L270.1,864.0 L270.2,868.1 L270.3,863.8 L270.4,867.2 L270.5,863.6 L270.6,868.3 L270.7,863.7 L270.8,869.6 L270.9,863.2 L271.0,867.0 L271.1,863.0 L271.2,866.3 L271.3,865.0 L271.4,866.4 L271.5,864.8 L271.6,868.6 L271.7,864.9 L271.8,867.5 L271.9,863.9 L272.0,868.2 L272.1,864.0 L272.2,868.4 L272.3,864.6 L272.4,860.9 L272.5,871.7 L272.6,867.3 L272.7,864.7 L272.8,867.0 L272.9,864.4 L273.0,874.3 L273.1,860.8 L273.2,870.9 L273.3,862.7 L273.4,869.9 L273.5,861.0 L273.6,870.5 L273.7,861.2 L273.8,866.8 L273.9,864.3 L274.0,857.9 L274.1,875.9 L274.2,870.2 L274.3,860.7 L274.4,860.9 L274.5,860.9 L274.6,870.9 L274.7,860.4 L274.8,868.7 L274.9,862.4 L275.0,869.0 L275.1,865.1 L275.2,866.6 L275.3,858.9 L275.4,868.0 L275.5,862.6 L275.6,868.3 L275.7,864.2 L275.8,867.6 L275.9,863.7 L276.0,866.5 L276.1,863.8 L276.2,869.6 L276.3,864.1 L276.4,869.6 L276.5,864.0 L276.6,868.3 L276.7,862.6 L276.8,869.4 L276.9,863.5 L277.0,867.2 L277.1,864.6 L277.2,867.6 L277.3,864.9 L277.4,867.7 L277.5,863.9 L277.6,866.3 L277.7,865.0 L277.8,868.2 L277.9,863.6 L278.0,867.3 L278.1,864.7 L278.2,866.5 L278.3,863.0 L278.4,868.5 L278.5,863.1 L278.6,869.0 L278.7,864.0 L278.8,867.1 L278.9,863.6 L279.0,867.9 L279.1,863.7 L279.2,868.2 L279.3,863.7 L279.4,866.7 L279.5,863.3 L279.6,866.7 L279.7,864.2 L279.8,867.5 L279.9,865.5 L280.0,867.5 L280.1,863.7 L280.2,867.0 L280.3,863.7 L280.4,867.2 L280.5,863.4 L280.6,868.4 L280.7,863.9 L280.8,867.0 L280.9,864.2 L281.0,866.5 L281.1,864.0 L281.2,867.3 L281.3,863.4 L281.4,868.9 L281.5,865.3 L281.6,867.0 L281.7,863.4 L281.8,868.7 L281.9,862.9 L282.0,867.2 L282.1,865.4 L282.2,868.6 L282.3,863.1 L282.4,866.6 L282.5,862.7 L282.6,867.1 L282.7,865.1 L282.8,866.9 L282.9,862.4 L283.0,866.5 L283.1,863.5 L283.2,867.4 L283.3,865.4 L283.4,869.8 L283.5,865.3 L283.6,868.2 L283.7,864.8 L283.8,867.6 L283.9,864.1 L284.0,869.7 L284.1,862.5 L284.2,867.6 L284.3,864.6 L284.4,866.6 L284.5,863.7 L284.6,867.1 L284.7,862.8 L284.8,869.5 L284.9,860.1 L285.0,868.4 L285.1,862.6 L285.2,868.3 L285.3,863.4 L285.4,869.2 L285.5,864.4 L285.6,868.2 L285.7,863.4 L285.8,869.5 L285.9,863.6 L286.0,870.1 L286.1,865.1 L286.2,868.1 L286.3,863.6 L286.4,869.9 L286.5,863.7 L286.6,868.7 L286.7,863.2 L286.8,866.7 L286.9,862.5 L287.0,867.7 L287.1,861.2 L287.2,866.8 L287.3,865.4 L287.4,868.6 L287.5,864.9 L287.6,867.6 L287.7,863.8 L287.8,868.6 L287.9,863.6 L288.0,867.3 L288.1,865.2 L288.2,867.2 L288.3,863.4 L288.4,868.4 L288.5,865.1 L288.6,868.2 L288.7,863.1 L288.8,869.4 L288.9,863.1 L289.0,867.9 L289.1,864.2 L289.2,868.9 L289.3,864.6 L289.4,866.3 L289.5,863.7 L289.6,866.3 L289.7,865.4 L289.8,867.6 L289.9,863.5 L290.0,868.1 L290.1,864.9 L290.2,869.3 L290.3,864.1 L290.4,867.2 L290.5,862.6 L290.6,866.4 L290.7,864.0 L290.8,867.6 L290.9,865.1 L291.0,867.8 L291.1,864.4 L291.2,867.6 L291.3,863.5 L291.4,867.8 L291.5,862.6 L291.6,868.6 L291.7,863.5 L291.8,869.2 L291.9,865.2 L292.0,869.2 L292.1,864.7 L292.2,870.1 L292.3,862.5 L292.4,869.3 L292.5,862.9 L292.6,869.7 L292.7,862.3 L292.8,867.2 L292.9,862.2 L293.0,870.0 L293.1,861.9 L293.2,869.9 L293.3,862.6 L293.4,867.2 L293.5,862.3 L293.6,866.9 L293.7,861.8 L293.8,867.4 L293.9,864.6 L294.0,869.6 L294.1,863.4 L294.2,869.8 L294.3,864.6 L294.4,867.1 L294.5,862.5 L294.6,866.4 L294.7,863.8 L294.8,869.9 L294.9,864.5 L295.0,866.7 L295.1,859.4 L295.2,866.9 L295.3,863.6 L295.4,869.4 L295.5,864.9 L295.6,868.6 L295.7,860.7 L295.8,869.1 L295.9,862.1 L296.0,869.5 L296.1,864.6 L296.2,868.7 L296.3,862.7 L296.4,869.2 L296.5,863.5 L296.6,868.8 L296.7,864.2 L296.8,867.4 L296.9,864.0 L297.0,867.1 L297.1,863.6 L297.2,869.7 L297.3,863.1 L297.4,868.5 L297.5,864.3 L297.6,866.9 L297.7,863.9 L297.8,868.2 L297.9,862.4 L298.0,868.3 L298.1,863.9 L298.2,868.3 L298.3,864.8 L298.4,866.7 L298.5,864.5 L298.6,868.3 L298.7,863.1 L298.8,867.3 L298.9,864.5 L299.0,867.8 L299.1,863.5 L299.2,866.5 L299.3,862.6 L299.4,870.5 L299.5,864.2 L299.6,868.4 L299.7,862.9 L299.8,868.5 L299.9,863.8 L300.0,862.9 L300.1,874.9 L300.2,869.4 L300.3,864.6 L300.4,868.2 L300.5,863.3 L300.6,869.7 L300.7,861.8 L300.8,868.8 L300.9,863.1 L301.0,869.3 L301.1,862.6 L301.2,866.8 L301.3,864.0 L301.4,867.5 L301.5,863.5 L301.6,866.5 L301.7,864.6 L301.8,868.7 L301.9,862.3 L302.0,867.4 L302.1,865.4 L302.2,868.1 L302.3,860.5 L302.4,866.6 L302.5,863.1 L302.6,868.2 L302.7,865.0 L302.8,867.1 L302.9,863.3 L303.0,867.6 L303.1,862.8 L303.2,866.5 L303.3,864.4 L303.4,866.7 L303.5,862.8 L303.6,867.3 L303.7,863.6 L303.8,866.4 L303.9,863.4 L304.0,868.1 L304.1,862.9 L304.2,867.1 L304.3,863.1 L304.4,866.9 L304.5,864.6 L304.6,868.4 L304.7,863.9 L304.8,868.3 L304.9,863.4 L305.0,870.0 L305.1,865.4 L305.2,870.6 L305.3,863.6 L305.4,868.0 L305.5,865.2 L305.6,868.5 L305.7,863.3 L305.8,866.7 L305.9,865.3 L306.0,866.8 L306.1,863.3 L306.2,867.9 L306.3,863.9 L306.4,867.6 L306.5,864.9 L306.6,867.3 L306.7,862.7 L306.8,866.8 L306.9,865.4 L307.0,867.5 L307.1,864.2 L307.2,867.8 L307.3,864.7 L307.4,868.4 L307.5,865.1 L307.6,867.3 L307.7,863.8 L307.8,867.4 L307.9,864.2 L308.0,867.6 L308.1,865.4 L308.2,868.0 L308.3,862.9 L308.4,868.8 L308.5,862.8 L308.6,867.3 L308.7,861.5 L308.8,868.2 L308.9,864.5 L309.0,868.7 L309.1,862.8 L309.2,868.8 L309.3,862.3 L309.4,869.2 L309.5,865.4 L309.6,869.4 L309.7,865.2 L309.8,869.4 L309.9,863.8 L310.0,868.5 L310.1,863.7 L310.2,868.5 L310.3,863.0 L310.4,872.6 L310.5,864.8 L310.6,869.5 L310.7,861.0 L310.8,869.6 L310.9,864.0 L311.0,867.1 L311.1,863.9 L311.2,866.8 L311.3,864.3 L311.4,870.3 L311.5,863.5 L311.6,868.1 L311.7,860.9 L311.8,867.4 L311.9,865.1 L312.0,866.4 L312.1,863.3 L312.2,868.4 L312.3,863.5 L312.4,867.0 L312.5,863.5 L312.6,866.7 L312.7,865.0 L312.8,868.5 L312.9,865.2 L313.0,868.1 L313.1,863.5 L313.2,868.1 L313.3,864.0 L313.4,866.8 L313.5,864.9 L313.6,868.7 L313.7,863.4 L313.8,868.5 L313.9,865.1 L314.0,867.5 L314.1,863.3 L314.2,868.0 L314.3,863.7 L314.4,866.5 L314.5,863.9 L314.6,866.8 L314.7,864.4 L314.8,869.0 L314.9,863.8 L315.0,866.4 L315.1,864.9 L315.2,866.7 L315.3,865.2 L315.4,868.6 L315.5,864.9 L315.6,867.4 L315.7,864.9 L315.8,868.2 L315.9,862.6 L316.0,866.4 L316.1,862.4 L316.2,869.8 L316.3,863.6 L316.4,867.2 L316.5,862.1 L316.6,866.8 L316.7,863.0 L316.8,869.0 L316.9,864.2 L317.0,868.9 L317.1,862.5 L317.2,866.8 L317.3,862.1 L317.4,867.6 L317.5,863.0 L317.6,867.8 L317.7,862.9 L317.8,868.2 L317.9,863.8 L318.0,869.6 L318.1,862.6 L318.2,869.7 L318.3,864.3 L318.4,867.7 L318.5,863.4 L318.6,866.5 L318.7,864.3 L318.8,867.1 L318.9,863.7 L319.0,866.5 L319.1,862.8 L319.2,867.0 L319.3,865.2 L319.4,866.7 L319.5,862.2 L319.6,867.7 L319.7,864.1 L319.8,867.0 L319.9,859.7 L320.0,868.9 L320.1,863.7 L320.2,868.9 L320.3,864.5 L320.4,866.9 L320.5,863.4 L320.6,868.8 L320.7,863.1 L320.8,868.1 L320.9,865.2 L321.0,868.6 L321.1,864.8 L321.2,867.5 L321.3,864.4 L321.4,868.2 L321.5,864.4 L321.6,868.0 L321.7,865.1 L321.8,866.6 L321.9,865.5 L322.0,866.3 L322.1,864.4 L322.2,867.0 L322.3,864.8 L322.4,868.3 L322.5,864.8 L322.6,868.1 L322.7,863.2 L322.8,867.5 L322.9,864.1 L323.0,867.2 L323.1,865.5 L323.2,868.0 L323.3,864.6 L323.4,867.5 L323.5,865.3 L323.6,868.6 L323.7,863.5 L323.8,867.2 L323.9,864.2 L324.0,868.1 L324.1,863.9 L324.2,868.1 L324.3,863.2 L324.4,868.4 L324.5,863.9 L324.6,868.4 L324.7,864.9 L324.8,867.2 L324.9,864.1 L325.0,868.5 L325.1,862.7 L325.2,867.5 L325.3,865.5 L325.4,868.3 L325.5,863.8 L325.6,869.3 L325.7,863.9 L325.8,867.5 L325.9,864.3 L326.0,868.3 L326.1,863.7 L326.2,869.1 L326.3,863.1 L326.4,866.6 L326.5,862.6 L326.6,869.1 L326.7,864.9 L326.8,867.0 L326.9,864.8 L327.0,870.1 L327.1,863.2 L327.2,868.2 L327.3,862.9 L327.4,857.3 L327.5,874.4 L327.6,868.8 L327.7,863.8 L327.8,870.5 L327.9,861.9 L328.0,868.3 L328.1,850.9 L328.2,883.9 L328.3,863.8 L328.4,871.0 L328.5,865.2 L328.6,871.1 L328.7,861.1 L328.8,867.8 L328.9,861.7 L329.0,871.1 L329.1,862.0 L329.2,869.5 L329.3,864.7 L329.4,868.2 L329.5,861.8 L329.6,867.0 L329.7,862.7 L329.8,871.1 L329.9,860.1 L330.0,873.4 L330.1,864.3 L330.2,868.3 L330.3,862.0 L330.4,870.2 L330.5,862.2 L330.6,867.1 L330.7,862.7 L330.8,868.5 L330.9,860.1 L331.0,874.0 L331.1,861.7 L331.2,867.6 L331.3,864.9 L331.4,867.8 L331.5,862.8 L331.6,871.4 L331.7,864.4 L331.8,868.5 L331.9,863.4 L332.0,869.4 L332.1,863.4 L332.2,869.6 L332.3,864.6 L332.4,867.5 L332.5,863.5 L332.6,868.3 L332.7,859.6 L332.8,874.5 L332.9,862.6 L333.0,866.7 L333.1,863.0 L333.2,867.7 L333.3,864.5 L333.4,868.1 L333.5,862.7 L333.6,868.2 L333.7,863.8 L333.8,867.0 L333.9,865.2 L334.0,866.4 L334.1,863.3 L334.2,867.0 L334.3,863.3 L334.4,870.5 L334.5,864.2 L334.6,868.6 L334.7,865.1 L334.8,866.7 L334.9,865.4 L335.0,867.6 L335.1,863.4 L335.2,866.9 L335.3,864.7 L335.4,867.8 L335.5,863.9 L335.6,866.5 L335.7,863.6 L335.8,867.8 L335.9,865.0 L336.0,867.2 L336.1,864.4 L336.2,868.1 L336.3,865.2 L336.4,866.3 L336.5,864.4 L336.6,868.0 L336.7,864.1 L336.8,868.4 L336.9,865.3 L337.0,866.8 L337.1,865.6 L337.2,866.7 L337.3,863.9 L337.4,867.1 L337.5,864.9 L337.6,870.1 L337.7,863.6 L337.8,867.3 L337.9,865.0 L338.0,868.0 L338.1,863.6 L338.2,868.9 L338.3,865.4 L338.4,868.3 L338.5,865.3 L338.6,869.1 L338.7,865.2 L338.8,869.1 L338.9,862.8 L339.0,866.6 L339.1,863.9 L339.2,868.2 L339.3,864.6 L339.4,867.9 L339.5,862.2 L339.6,866.3 L339.7,863.0 L339.8,867.0 L339.9,864.5 L340.0,867.0 L340.1,863.9 L340.2,866.7 L340.3,862.7 L340.4,867.7 L340.5,863.3 L340.6,869.1 L340.7,863.7 L340.8,866.7 L340.9,863.7 L341.0,866.7 L341.1,865.4 L341.2,866.9 L341.3,864.1 L341.4,868.3 L341.5,865.2 L341.6,867.9 L341.7,864.8 L341.8,867.7 L341.9,865.2 L342.0,868.5 L342.1,863.3 L342.2,867.2 L342.3,863.2 L342.4,868.4 L342.5,863.8 L342.6,868.2 L342.7,863.6 L342.8,868.2 L342.9,863.8 L343.0,867.4 L343.1,863.4 L343.2,869.8 L343.3,864.6 L343.4,867.4 L343.5,864.0 L343.6,866.7 L343.7,863.0 L343.8,866.7 L343.9,863.4 L344.0,866.8 L344.1,863.7 L344.2,869.1 L344.3,864.3 L344.4,868.8 L344.5,862.8 L344.6,867.5 L344.7,864.0 L344.8,868.5 L344.9,863.7 L345.0,867.4 L345.1,863.9 L345.2,867.0 L345.3,862.4 L345.4,868.4 L345.5,863.2 L345.6,867.2 L345.7,862.8 L345.8,869.2 L345.9,863.2 L346.0,868.7 L346.1,862.6 L346.2,870.1 L346.3,864.7 L346.4,867.3 L346.5,862.9 L346.6,866.4 L346.7,861.7 L346.8,867.9 L346.9,864.9 L347.0,869.9 L347.1,864.3 L347.2,869.1 L347.3,861.9 L347.4,868.0 L347.5,862.4 L347.6,867.2 L347.7,865.1 L347.8,868.5 L347.9,863.2 L348.0,869.6 L348.1,863.1 L348.2,868.0 L348.3,863.7 L348.4,869.0 L348.5,862.4 L348.6,868.5 L348.7,862.8 L348.8,869.1 L348.9,864.1 L349.0,869.5 L349.1,861.7 L349.2,868.8 L349.3,864.1 L349.4,867.2 L349.5,862.3 L349.6,869.6 L349.7,863.3 L349.8,869.8 L349.9,863.9 L350.0,861.9 L350.1,872.9 L350.2,868.5 L350.3,862.7 L350.4,867.9 L350.5,863.9 L350.6,869.5 L350.7,863.8 L350.8,868.3 L350.9,864.0 L351.0,866.7 L351.1,864.7 L351.2,867.8 L351.3,864.9 L351.4,868.9 L351.5,863.8 L351.6,868.3 L351.7,863.7 L351.8,867.3 L351.9,863.5 L352.0,866.5 L352.1,865.0 L352.2,867.9 L352.3,865.0 L352.4,868.2 L352.5,862.9 L352.6,866.6 L352.7,865.5 L352.8,867.4 L352.9,863.6 L353.0,867.3 L353.1,863.7 L353.2,868.5 L353.3,864.3 L353.4,866.5 L353.5,860.9 L353.6,868.8 L353.7,862.9 L353.8,867.5 L353.9,863.2 L354.0,868.2 L354.1,863.1 L354.2,868.9 L354.3,864.4 L354.4,866.9 L354.5,863.8 L354.6,867.4 L354.7,864.7 L354.8,869.0 L354.9,862.9 L355.0,868.2 L355.1,865.5 L355.2,866.6 L355.3,865.5 L355.4,866.7 L355.5,864.1 L355.6,866.9 L355.7,863.8 L355.8,867.3 L355.9,864.5 L356.0,866.4 L356.1,862.9 L356.2,868.2 L356.3,863.6 L356.4,867.9 L356.5,863.3 L356.6,868.5 L356.7,865.3 L356.8,867.3 L356.9,863.0 L357.0,868.3 L357.1,865.0 L357.2,868.1 L357.3,864.7 L357.4,868.3 L357.5,863.1 L357.6,868.3 L357.7,864.2 L357.8,868.9 L357.9,863.8 L358.0,868.3 L358.1,863.6 L358.2,867.7 L358.3,862.9 L358.4,868.5 L358.5,864.8 L358.6,868.4 L358.7,863.5 L358.8,866.9 L358.9,864.5 L359.0,867.0 L359.1,865.2 L359.2,867.4 L359.3,864.9 L359.4,866.9 L359.5,865.0 L359.6,867.7 L359.7,863.7 L359.8,868.7 L359.9,864.7 L360.0,867.1 L360.1,863.8 L360.2,869.1 L360.3,863.2 L360.4,868.2 L360.5,865.0 L360.6,867.7 L360.7,863.3 L360.8,867.0 L360.9,865.4 L361.0,871.6 L361.1,863.0 L361.2,866.7 L361.3,863.5 L361.4,868.7 L361.5,865.4 L361.6,867.8 L361.7,865.5 L361.8,868.3 L361.9,864.9 L362.0,866.5 L362.1,863.0 L362.2,866.5 L362.3,863.5 L362.4,868.2 L362.5,865.4 L362.6,866.5 L362.7,864.1 L362.8,868.7 L362.9,864.8 L363.0,868.2 L363.1,864.1 L363.2,867.1 L363.3,864.7 L363.4,868.2 L363.5,864.1 L363.6,866.3 L363.7,864.0 L363.8,868.8 L363.9,863.5 L364.0,868.5 L364.1,864.7 L364.2,868.9 L364.3,865.0 L364.4,867.1 L364.5,865.4 L364.6,868.0 L364.7,863.6 L364.8,868.4 L364.9,865.1 L365.0,868.1 L365.1,863.9 L365.2,867.3 L365.3,865.3 L365.4,868.6 L365.5,863.8 L365.6,868.0 L365.7,864.5 L365.8,866.5 L365.9,865.5 L366.0,866.3 L366.1,865.4 L366.2,867.6 L366.3,863.3 L366.4,866.6 L366.5,863.5 L366.6,868.1 L366.7,863.8 L366.8,867.8 L366.9,863.2 L367.0,868.5 L367.1,863.1 L367.2,868.5 L367.3,863.9 L367.4,867.5 L367.5,864.1 L367.6,867.5 L367.7,864.2 L367.8,868.7 L367.9,863.7 L368.0,868.5 L368.1,864.0 L368.2,868.8 L368.3,863.7 L368.4,868.3 L368.5,862.9 L368.6,866.6 L368.7,862.6 L368.8,869.1 L368.9,863.4 L369.0,867.0 L369.1,865.3 L369.2,867.2 L369.3,865.1 L369.4,868.9 L369.5,864.0 L369.6,868.1 L369.7,862.8 L369.8,868.8 L369.9,863.4 L370.0,867.3 L370.1,863.8 L370.2,869.3 L370.3,863.6 L370.4,866.6 L370.5,863.4 L370.6,867.4 L370.7,863.2 L370.8,868.4 L370.9,864.7 L371.0,868.3 L371.1,864.2 L371.2,866.9 L371.3,863.0 L371.4,868.4 L371.5,864.2 L371.6,867.9 L371.7,864.8" fill="none" stroke="#f00000" stroke-width="0.55" stroke-linejoin="bevel"/>
<path d="M174.1,932.0 L174.2,935.9 L174.3,933.4 L174.4,934.6 L174.5,932.2 L174.6,936.3 L174.7,932.5 L174.8,934.8 L174.9,932.1 L175.0,935.4 L175.1,932.7 L175.2,935.1 L175.3,933.5 L175.4,935.4 L175.5,933.0 L175.6,935.2 L175.7,932.4 L175.8,935.9 L175.9,932.2 L176.0,936.1 L176.1,933.6 L176.2,935.9 L176.3,932.4 L176.4,936.4 L176.5,931.4 L176.6,934.4 L176.7,931.7 L176.8,935.0 L176.9,932.1 L177.0,936.2 L177.1,931.6 L177.2,936.7 L177.3,932.0 L177.4,936.5 L177.5,932.4 L177.6,935.0 L177.7,933.2 L177.8,935.7 L177.9,931.7 L178.0,935.6 L178.1,931.8 L178.2,934.7 L178.3,931.2 L178.4,937.0 L178.5,931.6 L178.6,936.2 L178.7,931.7 L178.8,935.3 L178.9,933.4 L179.0,935.4 L179.1,932.9 L179.2,935.3 L179.3,931.4 L179.4,935.1 L179.5,931.9 L179.6,934.7 L179.7,932.4 L179.8,935.1 L179.9,933.2 L180.0,935.2 L180.1,931.8 L180.2,935.5 L180.3,931.4 L180.4,935.9 L180.5,932.7 L180.6,934.5 L180.7,933.5 L180.8,935.7 L180.9,931.8 L181.0,934.7 L181.1,932.0 L181.2,934.8 L181.3,932.2 L181.4,934.9 L181.5,932.3 L181.6,935.4 L181.7,933.6 L181.8,935.8 L181.9,933.1 L182.0,935.2 L182.1,932.1 L182.2,936.5 L182.3,932.7 L182.4,935.8 L182.5,932.5 L182.6,935.9 L182.7,933.3 L182.8,936.7 L182.9,933.3 L183.0,936.0 L183.1,933.5 L183.2,935.1 L183.3,931.4 L183.4,936.3 L183.5,933.4 L183.6,935.2 L183.7,933.4 L183.8,936.9 L183.9,931.3 L184.0,936.6 L184.1,931.6 L184.2,936.3 L184.3,933.5 L184.4,934.6 L184.5,932.7 L184.6,936.0 L184.7,931.3 L184.8,935.7 L184.9,932.9 L185.0,936.2 L185.1,930.9 L185.2,935.8 L185.3,932.0 L185.4,935.2 L185.5,931.5 L185.6,934.8 L185.7,931.7 L185.8,935.0 L185.9,929.6 L186.0,935.8 L186.1,928.8 L186.2,936.0 L186.3,931.1 L186.4,935.7 L186.5,933.6 L186.6,937.1 L186.7,931.4 L186.8,936.7 L186.9,931.3 L187.0,934.8 L187.1,931.1 L187.2,934.6 L187.3,932.7 L187.4,934.9 L187.5,932.2 L187.6,934.9 L187.7,933.0 L187.8,936.0 L187.9,933.2 L188.0,935.7 L188.1,931.8 L188.2,934.4 L188.3,931.3 L188.4,936.4 L188.5,931.7 L188.6,936.2 L188.7,931.2 L188.8,934.8 L188.9,933.4 L189.0,936.2 L189.1,933.6 L189.2,935.9 L189.3,932.1 L189.4,936.6 L189.5,933.4 L189.6,936.3 L189.7,931.8 L189.8,935.2 L189.9,932.9 L190.0,934.8 L190.1,933.6 L190.2,935.6 L190.3,933.5 L190.4,935.4 L190.5,932.0 L190.6,935.3 L190.7,932.3 L190.8,936.5 L190.9,933.3 L191.0,935.8 L191.1,932.2 L191.2,936.8 L191.3,932.9 L191.4,935.3 L191.5,932.9 L191.6,936.9 L191.7,931.6 L191.8,934.9 L191.9,931.9 L192.0,935.9 L192.1,932.9 L192.2,936.8 L192.3,933.7 L192.4,936.3 L192.5,932.7 L192.6,934.6 L192.7,932.1 L192.8,936.0 L192.9,932.3 L193.0,936.2 L193.1,933.2 L193.2,935.4 L193.3,932.8 L193.4,935.6 L193.5,933.1 L193.6,935.7 L193.7,932.7 L193.8,935.2 L193.9,932.2 L194.0,934.9 L194.1,932.9 L194.2,936.6 L194.3,932.7 L194.4,935.2 L194.5,931.4 L194.6,936.6 L194.7,931.4 L194.8,934.6 L194.9,931.6 L195.0,934.9 L195.1,932.0 L195.2,936.6 L195.3,931.7 L195.4,934.5 L195.5,932.0 L195.6,934.9 L195.7,931.3 L195.8,935.1 L195.9,933.0 L196.0,936.8 L196.1,932.0 L196.2,937.0 L196.3,933.1 L196.4,936.8 L196.5,932.4 L196.6,937.1 L196.7,931.8 L196.8,935.0 L196.9,930.6 L197.0,936.4 L197.1,931.4 L197.2,935.6 L197.3,932.6 L197.4,936.3 L197.5,932.8 L197.6,938.2 L197.7,932.6 L197.8,938.1 L197.9,933.4 L198.0,935.0 L198.1,932.9 L198.2,935.1 L198.3,931.3 L198.4,936.4 L198.5,933.4 L198.6,935.7 L198.7,931.4 L198.8,936.2 L198.9,933.6 L199.0,936.0 L199.1,931.9 L199.2,936.4 L199.3,932.3 L199.4,935.4 L199.5,933.2 L199.6,935.8 L199.7,933.0 L199.8,935.1 L199.9,932.4 L200.0,934.5 L200.1,932.4 L200.2,935.9 L200.3,932.5 L200.4,934.8 L200.5,931.8 L200.6,936.5 L200.7,930.0 L200.8,936.6 L200.9,931.4 L201.0,935.9 L201.1,931.7 L201.2,934.8 L201.3,932.1 L201.4,936.9 L201.5,931.6 L201.6,937.0 L201.7,932.7 L201.8,934.8 L201.9,933.4 L202.0,934.4 L202.1,931.9 L202.2,938.5 L202.3,932.3 L202.4,937.1 L202.5,932.8 L202.6,935.1 L202.7,931.6 L202.8,934.5 L202.9,932.2 L203.0,936.3 L203.1,932.0 L203.2,935.1 L203.3,931.2 L203.4,936.1 L203.5,931.9 L203.6,935.6 L203.7,930.7 L203.8,935.1 L203.9,932.8 L204.0,936.6 L204.1,932.6 L204.2,936.7 L204.3,931.3 L204.4,935.7 L204.5,931.0 L204.6,938.9 L204.7,931.5 L204.8,936.1 L204.9,931.8 L205.0,937.3 L205.1,931.0 L205.2,935.2 L205.3,930.9 L205.4,936.3 L205.5,932.1 L205.6,936.0 L205.7,931.9 L205.8,935.9 L205.9,930.8 L206.0,936.6 L206.1,933.3 L206.2,935.2 L206.3,932.5 L206.4,937.1 L206.5,932.0 L206.6,936.1 L206.7,931.0 L206.8,936.6 L206.9,933.0 L207.0,935.1 L207.1,932.0 L207.2,935.7 L207.3,933.6 L207.4,935.8 L207.5,931.3 L207.6,937.9 L207.7,933.3 L207.8,936.1 L207.9,933.2 L208.0,936.7 L208.1,932.4 L208.2,936.5 L208.3,931.8 L208.4,936.7 L208.5,932.3 L208.6,935.6 L208.7,933.5 L208.8,936.1 L208.9,933.0 L209.0,935.1 L209.1,932.0 L209.2,936.2 L209.3,933.3 L209.4,935.9 L209.5,933.6 L209.6,934.5 L209.7,931.9 L209.8,936.5 L209.9,932.3 L210.0,936.3 L210.1,931.1 L210.2,936.1 L210.3,930.8 L210.4,936.0 L210.5,930.9 L210.6,939.0 L210.7,931.4 L210.8,936.2 L210.9,930.8 L211.0,936.8 L211.1,930.4 L211.2,937.6 L211.3,931.1 L211.4,935.9 L211.5,930.1 L211.6,936.8 L211.7,932.5 L211.8,940.6 L211.9,931.4 L212.0,934.5 L212.1,930.3 L212.2,935.4 L212.3,932.2 L212.4,936.3 L212.5,933.1 L212.6,936.3 L212.7,932.1 L212.8,934.6 L212.9,932.2 L213.0,936.9 L213.1,930.2 L213.2,936.7 L213.3,930.2 L213.4,936.7 L213.5,932.1 L213.6,939.1 L213.7,931.3 L213.8,937.3 L213.9,931.8 L214.0,940.2 L214.1,932.7 L214.2,935.6 L214.3,932.0 L214.4,935.4 L214.5,932.4 L214.6,935.8 L214.7,930.8 L214.8,936.2 L214.9,932.6 L215.0,934.8 L215.1,930.4 L215.2,937.1 L215.3,930.9 L215.4,934.8 L215.5,933.4 L215.6,935.8 L215.7,933.3 L215.8,935.4 L215.9,929.8 L216.0,936.3 L216.1,930.5 L216.2,938.1 L216.3,931.5 L216.4,937.6 L216.5,931.1 L216.6,936.4 L216.7,930.3 L216.8,935.4 L216.9,932.4 L217.0,937.0 L217.1,932.3 L217.2,935.1 L217.3,928.3 L217.4,937.6 L217.5,931.7 L217.6,936.4 L217.7,930.6 L217.8,936.0 L217.9,929.8 L218.0,935.5 L218.1,930.0 L218.2,937.0 L218.3,929.6 L218.4,937.3 L218.5,929.3 L218.6,938.0 L218.7,922.0 L218.8,948.0 L218.9,929.8 L219.0,935.7 L219.1,930.8 L219.2,935.6 L219.3,929.2 L219.4,937.7 L219.5,928.6 L219.6,937.0 L219.7,928.3 L219.8,935.2 L219.9,932.7 L220.0,939.5 L220.1,931.7 L220.2,938.1 L220.3,931.5 L220.4,939.9 L220.5,928.2 L220.6,940.9 L220.7,927.8 L220.8,936.2 L220.9,931.5 L221.0,942.2 L221.1,926.6 L221.2,943.3 L221.3,926.2 L221.4,939.8 L221.5,930.7 L221.6,935.6 L221.7,928.8 L221.8,935.8 L221.9,928.2 L222.0,936.6 L222.1,931.3 L222.2,937.8 L222.3,928.7 L222.4,937.6 L222.5,929.3 L222.6,944.2 L222.7,929.2 L222.8,943.8 L222.9,929.4 L223.0,937.2 L223.1,929.8 L223.2,943.9 L223.3,927.5 L223.4,922.0 L223.5,948.0 L223.6,942.4 L223.7,924.4 L223.8,944.3 L223.9,931.1 L224.0,919.0 L224.1,954.0 L224.2,948.0 L224.3,927.4 L224.4,943.3 L224.5,930.6 L224.6,948.4 L224.7,926.7 L224.8,945.2 L224.9,927.4 L225.0,945.6 L225.1,922.0 L225.2,948.3 L225.3,948.0 L225.4,945.0 L225.5,922.0 L225.6,948.0 L225.7,922.0 L225.8,948.0 L225.9,923.0 L226.0,944.3 L226.1,930.1 L226.2,939.7 L226.3,932.4 L226.4,941.0 L226.5,932.1 L226.6,936.2 L226.7,928.5 L226.8,939.5 L226.9,928.1 L227.0,936.6 L227.1,933.0 L227.2,940.6 L227.3,922.0 L227.4,948.0 L227.5,932.1 L227.6,938.6 L227.7,930.1 L227.8,937.8 L227.9,932.8 L228.0,935.5 L228.1,931.3 L228.2,936.8 L228.3,928.6 L228.4,935.5 L228.5,929.1 L228.6,935.6 L228.7,930.2 L228.8,939.4 L228.9,932.8 L229.0,939.5 L229.1,929.6 L229.2,939.3 L229.3,930.4 L229.4,935.5 L229.5,927.8 L229.6,941.7 L229.7,932.3 L229.8,939.7 L229.9,931.1 L230.0,942.7 L230.1,930.7 L230.2,939.7 L230.3,926.0 L230.4,939.1 L230.5,931.9 L230.6,939.0 L230.7,928.9 L230.8,937.2 L230.9,922.8 L231.0,941.3 L231.1,928.3 L231.2,945.7 L231.3,927.9 L231.4,945.4 L231.5,922.2 L231.6,946.0 L231.7,931.0 L231.8,952.7 L231.9,917.3 L232.0,945.2 L232.1,924.6 L232.2,949.1 L232.3,925.2 L232.4,942.9 L232.5,926.5 L232.6,938.6 L232.7,916.5 L232.8,938.8 L232.9,925.9 L233.0,954.0 L233.1,917.7 L233.2,908.0 L233.3,964.0 L233.4,944.2 L233.5,922.6 L233.6,908.0 L233.7,964.0 L233.8,946.9 L233.9,908.0 L234.0,899.0 L234.1,997.0 L234.2,965.1 L234.3,914.7 L234.4,952.0 L234.5,929.7 L234.6,966.0 L234.7,920.4 L234.8,953.5 L234.9,923.5 L235.0,940.3 L235.1,916.8 L235.2,940.4 L235.3,908.0 L235.4,971.1 L235.5,908.0 L235.6,964.0 L235.7,908.0 L235.8,964.0 L235.9,919.7 L236.0,951.3 L236.1,925.5 L236.2,942.2 L236.3,928.5 L236.4,946.4 L236.5,921.1 L236.6,943.7 L236.7,922.3 L236.8,940.2 L236.9,925.0 L237.0,937.1 L237.1,927.5 L237.2,940.4 L237.3,908.0 L237.4,980.3 L237.5,927.4 L237.6,939.4 L237.7,930.7 L237.8,940.3 L237.9,930.6 L238.0,942.7 L238.1,929.5 L238.2,937.4 L238.3,927.7 L238.4,939.9 L238.5,925.7 L238.6,941.3 L238.7,929.8 L238.8,939.0 L238.9,930.5 L239.0,935.4 L239.1,931.4 L239.2,939.5 L239.3,905.7 L239.4,959.8 L239.5,932.4 L239.6,938.8 L239.7,929.6 L239.8,941.7 L239.9,932.3 L240.0,942.3 L240.1,927.1 L240.2,943.3 L240.3,931.3 L240.4,940.7 L240.5,930.6 L240.6,942.1 L240.7,930.3 L240.8,943.3 L240.9,931.3 L241.0,936.6 L241.1,932.0 L241.2,936.6 L241.3,916.0 L241.4,958.0 L241.5,924.5 L241.6,947.5 L241.7,924.9 L241.8,939.4 L241.9,911.4 L242.0,958.0 L242.1,929.5 L242.2,952.4 L242.3,928.8 L242.4,949.7 L242.5,919.2 L242.6,942.1 L242.7,927.1 L242.8,946.3 L242.9,916.0 L243.0,958.0 L243.1,929.2 L243.2,953.0 L243.3,916.9 L243.4,937.8 L243.5,928.0 L243.6,896.0 L243.7,976.0 L243.8,938.8 L243.9,925.4 L244.0,952.4 L244.1,920.0 L244.2,949.8 L244.3,915.1 L244.4,944.1 L244.5,928.5 L244.6,944.1 L244.7,930.7 L244.8,916.0 L244.9,912.4 L245.0,958.0 L245.1,965.7 L245.2,964.2 L245.3,923.5 L245.4,945.6 L245.5,919.8 L245.6,947.6 L245.7,931.9 L245.8,952.0 L245.9,921.6 L246.0,939.7 L246.1,914.0 L246.2,960.4 L246.3,925.0 L246.4,951.5 L246.5,925.9 L246.6,936.4 L246.7,930.8 L246.8,949.0 L246.9,923.4 L247.0,942.0 L247.1,923.7 L247.2,936.3 L247.3,925.4 L247.4,945.4 L247.5,926.9 L247.6,939.5 L247.7,919.0 L247.8,952.0 L247.9,929.8 L248.0,938.6 L248.1,927.2 L248.2,939.1 L248.3,932.5 L248.4,939.5 L248.5,929.0 L248.6,936.3 L248.7,929.8 L248.8,937.0 L248.9,932.3 L249.0,935.3 L249.1,932.7 L249.2,935.0 L249.3,931.1 L249.4,939.9 L249.5,932.5 L249.6,938.1 L249.7,932.2 L249.8,941.1 L249.9,931.0 L250.0,936.6 L250.1,928.9 L250.2,940.3 L250.3,928.8 L250.4,935.2 L250.5,930.7 L250.6,936.6 L250.7,931.6 L250.8,941.0 L250.9,920.2 L251.0,938.3 L251.1,931.9 L251.2,957.1 L251.3,925.3 L251.4,946.7 L251.5,926.2 L251.6,940.9 L251.7,926.6 L251.8,948.5 L251.9,931.6 L252.0,939.3 L252.1,929.0 L252.2,936.3 L252.3,925.5 L252.4,938.2 L252.5,925.4 L252.6,938.3 L252.7,922.1 L252.8,949.5 L252.9,929.4 L253.0,940.8 L253.1,908.0 L253.2,957.0 L253.3,920.5 L253.4,941.5 L253.5,919.7 L253.6,946.8 L253.7,926.4 L253.8,919.0 L253.9,952.0 L254.0,941.3 L254.1,929.3 L254.2,948.8 L254.3,922.6 L254.4,942.4 L254.5,930.2 L254.6,941.1 L254.7,919.0 L254.8,952.0 L254.9,952.0 L255.0,938.7 L255.1,930.4 L255.2,939.7 L255.3,925.9 L255.4,939.3 L255.5,927.7 L255.6,942.9 L255.7,923.6 L255.8,942.9 L255.9,930.3 L256.0,942.1 L256.1,930.0 L256.2,943.1 L256.3,929.1 L256.4,939.4 L256.5,932.0 L256.6,939.8 L256.7,931.8 L256.8,936.3 L256.9,931.3 L257.0,919.0 L257.1,952.0 L257.2,938.3 L257.3,929.9 L257.4,936.2 L257.5,928.4 L257.6,939.9 L257.7,929.1 L257.8,938.2 L257.9,932.4 L258.0,938.8 L258.1,932.7 L258.2,935.2 L258.3,929.3 L258.4,935.1 L258.5,933.1 L258.6,935.6 L258.7,926.1 L258.8,936.7 L258.9,928.8 L259.0,935.0 L259.1,932.7 L259.2,938.5 L259.3,929.3 L259.4,937.9 L259.5,929.1 L259.6,939.2 L259.7,930.5 L259.8,938.5 L259.9,930.1 L260.0,935.3 L260.1,929.6 L260.2,939.0 L260.3,932.2 L260.4,938.1 L260.5,931.0 L260.6,937.3 L260.7,930.0 L260.8,935.4 L260.9,928.5 L261.0,934.7 L261.1,928.7 L261.2,937.6 L261.3,931.4 L261.4,937.8 L261.5,930.8 L261.6,936.7 L261.7,929.5 L261.8,934.9 L261.9,933.0 L262.0,935.6 L262.1,931.1 L262.2,936.0 L262.3,933.2 L262.4,937.4 L262.5,926.1 L262.6,937.8 L262.7,932.6 L262.8,938.3 L262.9,930.6 L263.0,938.3 L263.1,932.8 L263.2,939.6 L263.3,930.9 L263.4,940.0 L263.5,931.7 L263.6,935.4 L263.7,930.0 L263.8,935.5 L263.9,930.1 L264.0,937.2 L264.1,929.6 L264.2,935.1 L264.3,929.9 L264.4,934.9 L264.5,924.3 L264.6,936.3 L264.7,930.4 L264.8,939.3 L264.9,932.3 L265.0,937.4 L265.1,931.9 L265.2,938.9 L265.3,927.6 L265.4,936.3 L265.5,928.8 L265.6,938.2 L265.7,927.9 L265.8,940.5 L265.9,931.8 L266.0,935.6 L266.1,928.8 L266.2,940.0 L266.3,927.6 L266.4,938.6 L266.5,930.8 L266.6,935.3 L266.7,929.9 L266.8,937.7 L266.9,928.9 L267.0,939.6 L267.1,928.6 L267.2,938.5 L267.3,928.7 L267.4,939.4 L267.5,930.9 L267.6,936.0 L267.7,928.0 L267.8,937.6 L267.9,931.5 L268.0,936.2 L268.1,932.2 L268.2,935.8 L268.3,928.2 L268.4,934.7 L268.5,931.4 L268.6,938.6 L268.7,933.2 L268.8,934.9 L268.9,932.9 L269.0,935.3 L269.1,932.6 L269.2,936.8 L269.3,930.0 L269.4,937.2 L269.5,928.6 L269.6,938.1 L269.7,931.1 L269.8,935.6 L269.9,928.9 L270.0,937.5 L270.1,929.5 L270.2,937.5 L270.3,928.6 L270.4,936.1 L270.5,931.2 L270.6,937.6 L270.7,931.7 L270.8,939.2 L270.9,929.0 L271.0,935.9 L271.1,928.9 L271.2,938.5 L271.3,929.1 L271.4,937.0 L271.5,930.0 L271.6,935.9 L271.7,931.9 L271.8,935.6 L271.9,931.9 L272.0,938.7 L272.1,931.8 L272.2,938.4 L272.3,932.0 L272.4,937.0 L272.5,930.8 L272.6,936.6 L272.7,930.2 L272.8,938.8 L272.9,932.2 L273.0,935.8 L273.1,931.0 L273.2,937.3 L273.3,932.6 L273.4,936.9 L273.5,932.2 L273.6,935.3 L273.7,930.0 L273.8,938.0 L273.9,930.8 L274.0,935.9 L274.1,931.9 L274.2,935.5 L274.3,931.1 L274.4,937.0 L274.5,930.5 L274.6,937.7 L274.7,931.1 L274.8,939.3 L274.9,929.7 L275.0,937.8 L275.1,930.7 L275.2,938.5 L275.3,932.4 L275.4,939.5 L275.5,930.3 L275.6,935.7 L275.7,928.5 L275.8,935.4 L275.9,928.8 L276.0,936.2 L276.1,928.2 L276.2,938.7 L276.3,932.4 L276.4,935.7 L276.5,931.8 L276.6,935.2 L276.7,928.6 L276.8,937.3 L276.9,928.2 L277.0,936.0 L277.1,933.2 L277.2,936.3 L277.3,929.1 L277.4,937.6 L277.5,929.5 L277.6,937.0 L277.7,928.4 L277.8,936.2 L277.9,929.8 L278.0,937.1 L278.1,931.4 L278.2,936.9 L278.3,929.6 L278.4,937.1 L278.5,929.9 L278.6,936.1 L278.7,930.8 L278.8,935.2 L278.9,928.4 L279.0,935.9 L279.1,931.1 L279.2,937.1 L279.3,929.5 L279.4,937.3 L279.5,930.1 L279.6,936.3 L279.7,931.6 L279.8,936.4 L279.9,928.8 L280.0,939.0 L280.1,933.0 L280.2,935.3 L280.3,933.0 L280.4,935.9 L280.5,931.0 L280.6,935.8 L280.7,930.1 L280.8,936.5 L280.9,930.4 L281.0,934.7 L281.1,933.4 L281.2,937.4 L281.3,929.2 L281.4,935.6 L281.5,930.9 L281.6,935.3 L281.7,932.7 L281.8,937.6 L281.9,932.9 L282.0,937.0 L282.1,930.5 L282.2,938.0 L282.3,930.3 L282.4,937.0 L282.5,932.0 L282.6,937.0 L282.7,932.3 L282.8,935.7 L282.9,931.7 L283.0,935.1 L283.1,930.8 L283.2,936.7 L283.3,933.1 L283.4,935.9 L283.5,933.0 L283.6,935.8 L283.7,932.0 L283.8,936.3 L283.9,930.5 L284.0,935.7 L284.1,930.4 L284.2,937.0 L284.3,933.1 L284.4,936.2 L284.5,931.0 L284.6,936.0 L284.7,930.9 L284.8,934.7 L284.9,932.8 L285.0,936.9 L285.1,931.7 L285.2,936.2 L285.3,932.2 L285.4,937.0 L285.5,931.2 L285.6,935.0 L285.7,931.9 L285.8,937.6 L285.9,930.5 L286.0,937.3 L286.1,932.3 L286.2,934.7 L286.3,931.7 L286.4,937.5 L286.5,931.5 L286.6,934.6 L286.7,932.4 L286.8,934.5 L286.9,931.1 L287.0,935.7 L287.1,932.1 L287.2,935.0 L287.3,930.8 L287.4,935.9 L287.5,931.6 L287.6,935.7 L287.7,933.3 L287.8,935.3 L287.9,932.5 L288.0,936.4 L288.1,931.9 L288.2,935.9 L288.3,930.9 L288.4,937.1 L288.5,932.0 L288.6,936.6 L288.7,930.7 L288.8,935.8 L288.9,931.8 L289.0,937.0 L289.1,933.0 L289.2,936.3 L289.3,932.5 L289.4,934.9 L289.5,932.5 L289.6,934.5 L289.7,932.1 L289.8,940.3 L289.9,933.5 L290.0,936.4 L290.1,931.1 L290.2,936.4 L290.3,931.8 L290.4,934.5 L290.5,930.9 L290.6,936.3 L290.7,931.6 L290.8,937.4 L290.9,930.6 L291.0,935.7 L291.1,932.5 L291.2,935.9 L291.3,931.0 L291.4,935.3 L291.5,932.9 L291.6,935.2 L291.7,931.5 L291.8,936.8 L291.9,932.3 L292.0,936.1 L292.1,932.8 L292.2,937.1 L292.3,930.7 L292.4,936.3 L292.5,931.6 L292.6,935.0 L292.7,932.0 L292.8,937.3 L292.9,933.6 L293.0,936.4 L293.1,932.2 L293.2,935.2 L293.3,933.2 L293.4,935.5 L293.5,930.9 L293.6,935.5 L293.7,932.2 L293.8,936.6 L293.9,933.4 L294.0,936.3 L294.1,931.6 L294.2,935.7 L294.3,932.5 L294.4,934.8 L294.5,933.4 L294.6,935.2 L294.7,932.2 L294.8,935.4 L294.9,932.5 L295.0,935.5 L295.1,931.4 L295.2,937.0 L295.3,933.4 L295.4,935.1 L295.5,932.6 L295.6,936.0 L295.7,932.6 L295.8,936.6 L295.9,933.4 L296.0,936.2 L296.1,932.4 L296.2,935.2 L296.3,932.1 L296.4,936.4 L296.5,932.1 L296.6,936.5 L296.7,932.4 L296.8,936.3 L296.9,932.7 L297.0,935.2 L297.1,932.3 L297.2,936.1 L297.3,933.1 L297.4,936.4 L297.5,931.7 L297.6,935.6 L297.7,933.5 L297.8,935.9 L297.9,933.0 L298.0,935.9 L298.1,932.4 L298.2,934.4 L298.3,933.3 L298.4,936.1 L298.5,932.5 L298.6,935.5 L298.7,931.9 L298.8,934.7 L298.9,932.2 L299.0,935.5 L299.1,931.7 L299.2,934.7 L299.3,931.9 L299.4,935.9 L299.5,931.7 L299.6,936.1 L299.7,932.5 L299.8,935.1 L299.9,933.3 L300.0,936.6 L300.1,933.1 L300.2,936.2 L300.3,932.8 L300.4,936.6 L300.5,932.6 L300.6,936.1 L300.7,932.0 L300.8,934.8 L300.9,931.7 L301.0,934.7 L301.1,931.6 L301.2,934.7 L301.3,933.2 L301.4,935.5 L301.5,931.2 L301.6,935.5 L301.7,932.1 L301.8,936.6 L301.9,932.8 L302.0,936.1 L302.1,931.4 L302.2,935.9 L302.3,933.3 L302.4,936.3 L302.5,931.2 L302.6,935.5 L302.7,932.4 L302.8,938.8 L302.9,931.5 L303.0,935.1 L303.1,931.6 L303.2,934.9 L303.3,932.0 L303.4,936.7 L303.5,930.4 L303.6,935.3 L303.7,931.5 L303.8,936.5 L303.9,931.2 L304.0,934.9 L304.1,932.9 L304.2,934.3 L304.3,931.4 L304.4,935.8 L304.5,932.0 L304.6,936.6 L304.7,933.2 L304.8,934.6 L304.9,932.7 L305.0,934.5 L305.1,933.3 L305.2,934.9 L305.3,933.7 L305.4,935.3 L305.5,931.4 L305.6,936.4 L305.7,932.6 L305.8,935.9 L305.9,931.8 L306.0,934.6 L306.1,931.9 L306.2,935.9 L306.3,931.3 L306.4,936.3 L306.5,931.7 L306.6,936.0 L306.7,933.0 L306.8,938.7 L306.9,931.9 L307.0,936.5 L307.1,932.6 L307.2,936.8 L307.3,929.1 L307.4,936.3 L307.5,932.9 L307.6,934.8 L307.7,932.0 L307.8,935.3 L307.9,932.2 L308.0,935.3 L308.1,931.4 L308.2,935.4 L308.3,932.1 L308.4,934.9 L308.5,930.8 L308.6,934.4 L308.7,931.9 L308.8,934.9 L308.9,933.3 L309.0,936.0 L309.1,932.8 L309.2,935.8 L309.3,932.7 L309.4,934.7 L309.5,933.4 L309.6,934.8 L309.7,932.4 L309.8,935.7 L309.9,933.4 L310.0,934.3 L310.1,932.5 L310.2,934.8 L310.3,933.0 L310.4,935.4 L310.5,932.8 L310.6,934.7 L310.7,933.6 L310.8,934.9 L310.9,932.4 L311.0,936.3 L311.1,932.4 L311.2,935.6 L311.3,933.0 L311.4,935.5 L311.5,932.3 L311.6,935.4 L311.7,933.4 L311.8,935.7 L311.9,932.6 L312.0,935.5 L312.1,933.4 L312.2,935.0 L312.3,932.2 L312.4,935.9 L312.5,932.4 L312.6,934.7 L312.7,932.6 L312.8,935.7 L312.9,932.4 L313.0,934.8 L313.1,933.4 L313.2,935.6 L313.3,933.3 L313.4,935.0 L313.5,933.7 L313.6,934.9 L313.7,931.9 L313.8,934.4 L313.9,932.4 L314.0,934.5 L314.1,931.2 L314.2,935.0 L314.3,932.5 L314.4,935.5 L314.5,933.0 L314.6,935.1 L314.7,931.8 L314.8,934.6 L314.9,931.8 L315.0,935.3 L315.1,933.5 L315.2,935.5 L315.3,932.6 L315.4,934.4 L315.5,933.3 L315.6,934.9 L315.7,932.4 L315.8,935.3 L315.9,932.5 L316.0,936.6 L316.1,931.9 L316.2,935.6 L316.3,933.3 L316.4,934.9 L316.5,932.5 L316.6,934.3 L316.7,932.4 L316.8,935.7 L316.9,932.8 L317.0,935.0 L317.1,931.3 L317.2,936.3 L317.3,932.2 L317.4,937.3 L317.5,931.7 L317.6,934.3 L317.7,932.2 L317.8,934.5 L317.9,932.2 L318.0,935.2 L318.1,932.5 L318.2,934.4 L318.3,932.7 L318.4,935.1 L318.5,932.2 L318.6,935.8 L318.7,932.3 L318.8,935.3 L318.9,932.5 L319.0,934.5 L319.1,932.8 L319.2,934.7 L319.3,932.6 L319.4,935.0 L319.5,932.8 L319.6,934.9 L319.7,932.7 L319.8,934.7 L319.9,933.1 L320.0,936.2 L320.1,933.0 L320.2,934.8 L320.3,933.1 L320.4,935.9 L320.5,931.6 L320.6,935.3 L320.7,931.8 L320.8,935.6 L320.9,932.2 L321.0,934.8 L321.1,932.7 L321.2,935.8 L321.3,932.7 L321.4,935.3 L321.5,932.3 L321.6,935.7 L321.7,932.3 L321.8,935.4 L321.9,933.1 L322.0,936.4 L322.1,931.9 L322.2,935.3 L322.3,933.4 L322.4,935.2 L322.5,933.0 L322.6,936.4 L322.7,932.5 L322.8,936.4 L322.9,932.4 L323.0,935.2 L323.1,932.4 L323.2,934.6 L323.3,932.5 L323.4,934.4 L323.5,933.6 L323.6,934.7 L323.7,933.3 L323.8,935.2 L323.9,932.5 L324.0,934.9 L324.1,932.0 L324.2,936.1 L324.3,933.5 L324.4,935.0 L324.5,933.0 L324.6,934.3 L324.7,932.9 L324.8,935.0 L324.9,932.9 L325.0,935.0 L325.1,932.8 L325.2,935.3 L325.3,932.5 L325.4,935.5 L325.5,932.4 L325.6,934.7 L325.7,933.4 L325.8,935.7 L325.9,933.1 L326.0,934.5 L326.1,933.0 L326.2,936.7 L326.3,932.5 L326.4,935.8 L326.5,932.8 L326.6,935.8 L326.7,933.2 L326.8,934.5 L326.9,933.6 L327.0,935.5 L327.1,932.9 L327.2,935.0 L327.3,933.1 L327.4,935.6 L327.5,933.1 L327.6,934.5 L327.7,933.4 L327.8,935.1 L327.9,932.3 L328.0,935.8 L328.1,933.1 L328.2,935.2 L328.3,932.3 L328.4,935.1 L328.5,933.4 L328.6,935.5 L328.7,933.6 L328.8,934.6 L328.9,931.9 L329.0,936.0 L329.1,932.9 L329.2,934.9 L329.3,933.7 L329.4,934.3 L329.5,933.5 L329.6,934.3 L329.7,932.0 L329.8,934.6 L329.9,933.1 L330.0,935.8 L330.1,932.8 L330.2,935.3 L330.3,932.6 L330.4,934.7 L330.5,932.6 L330.6,936.0 L330.7,932.2 L330.8,936.2 L330.9,931.8 L331.0,935.9 L331.1,933.5 L331.2,935.9 L331.3,933.1 L331.4,936.1 L331.5,932.4 L331.6,936.4 L331.7,933.6 L331.8,934.4 L331.9,932.3 L332.0,936.2 L332.1,932.9 L332.2,936.2 L332.3,932.0 L332.4,935.4 L332.5,931.9 L332.6,936.0 L332.7,933.2 L332.8,936.2 L332.9,933.3 L333.0,934.3 L333.1,933.4 L333.2,935.7 L333.3,932.2 L333.4,934.9 L333.5,933.5 L333.6,934.7 L333.7,933.0 L333.8,935.3 L333.9,931.9 L334.0,934.9 L334.1,932.7 L334.2,935.1 L334.3,932.8 L334.4,935.0 L334.5,932.0 L334.6,934.4 L334.7,933.0 L334.8,936.5 L334.9,932.5 L335.0,935.0 L335.1,933.3 L335.2,936.1 L335.3,932.6 L335.4,935.0 L335.5,931.8 L335.6,935.4 L335.7,933.6 L335.8,934.8 L335.9,932.0 L336.0,935.2 L336.1,933.1 L336.2,934.8 L336.3,932.6 L336.4,935.7 L336.5,932.5 L336.6,936.2 L336.7,933.0 L336.8,935.6 L336.9,933.4 L337.0,935.3 L337.1,932.5 L337.2,935.4 L337.3,932.2 L337.4,935.2 L337.5,932.2 L337.6,935.5 L337.7,933.1 L337.8,934.4 L337.9,931.9 L338.0,935.3 L338.1,932.5 L338.2,935.1 L338.3,931.9 L338.4,934.9 L338.5,932.3 L338.6,936.4 L338.7,931.6 L338.8,935.6 L338.9,933.1 L339.0,934.7 L339.1,932.6 L339.2,935.9 L339.3,933.5 L339.4,936.4 L339.5,932.0 L339.6,935.1 L339.7,932.1 L339.8,935.0 L339.9,931.8 L340.0,934.4 L340.1,931.8 L340.2,938.9 L340.3,932.0 L340.4,936.2 L340.5,933.1 L340.6,935.4 L340.7,931.4 L340.8,935.6 L340.9,933.1 L341.0,935.8 L341.1,932.8 L341.2,934.4 L341.3,933.5 L341.4,936.3 L341.5,932.3 L341.6,935.4 L341.7,932.3 L341.8,935.0 L341.9,932.8 L342.0,935.1 L342.1,932.6 L342.2,936.1 L342.3,932.9 L342.4,935.2 L342.5,933.3 L342.6,936.1 L342.7,932.0 L342.8,936.1 L342.9,932.5 L343.0,935.3 L343.1,933.0 L343.2,934.7 L343.3,932.2 L343.4,936.4 L343.5,932.7 L343.6,935.2 L343.7,933.4 L343.8,935.4 L343.9,931.8 L344.0,936.1 L344.1,931.9 L344.2,936.5 L344.3,932.3 L344.4,935.3 L344.5,933.2 L344.6,935.2 L344.7,931.5 L344.8,936.3 L344.9,932.6 L345.0,935.9 L345.1,932.0 L345.2,936.5 L345.3,932.9 L345.4,935.8 L345.5,933.3 L345.6,936.6 L345.7,932.4 L345.8,935.1 L345.9,932.7 L346.0,936.2 L346.1,931.3 L346.2,936.8 L346.3,933.3 L346.4,935.7 L346.5,933.3 L346.6,934.6 L346.7,932.2 L346.8,936.5 L346.9,932.7 L347.0,936.4 L347.1,933.2 L347.2,936.2 L347.3,931.6 L347.4,935.8 L347.5,932.0 L347.6,935.3 L347.7,932.5 L347.8,935.9 L347.9,932.3 L348.0,934.6 L348.1,933.3 L348.2,934.4 L348.3,933.4 L348.4,935.8 L348.5,933.5 L348.6,936.1 L348.7,932.4 L348.8,935.0 L348.9,932.5 L349.0,935.8 L349.1,933.6 L349.2,937.6 L349.3,932.0 L349.4,936.1 L349.5,933.1 L349.6,935.6 L349.7,933.4 L349.8,935.2 L349.9,932.9 L350.0,936.6 L350.1,932.0 L350.2,934.8 L350.3,932.1 L350.4,935.1 L350.5,932.3 L350.6,935.9 L350.7,932.1 L350.8,936.4 L350.9,932.8 L351.0,935.8 L351.1,932.3 L351.2,936.6 L351.3,932.3 L351.4,934.5 L351.5,930.3 L351.6,934.9 L351.7,933.5 L351.8,935.3 L351.9,931.3 L352.0,935.2 L352.1,932.3 L352.2,936.1 L352.3,931.2 L352.4,936.7 L352.5,932.1 L352.6,934.7 L352.7,933.0 L352.8,934.9 L352.9,931.6 L353.0,934.3 L353.1,932.4 L353.2,936.1 L353.3,932.6 L353.4,935.9 L353.5,932.3 L353.6,936.3 L353.7,932.4 L353.8,936.0 L353.9,932.3 L354.0,934.6 L354.1,931.8 L354.2,936.0 L354.3,933.0 L354.4,935.4 L354.5,932.0 L354.6,935.6 L354.7,932.7 L354.8,934.6 L354.9,932.3 L355.0,934.9 L355.1,932.4 L355.2,934.5 L355.3,932.5 L355.4,935.7 L355.5,932.0 L355.6,935.9 L355.7,933.0 L355.8,935.5 L355.9,933.3 L356.0,935.3 L356.1,932.8 L356.2,936.0 L356.3,932.8 L356.4,935.2 L356.5,931.6 L356.6,934.9 L356.7,933.1 L356.8,935.4 L356.9,932.6 L357.0,935.3 L357.1,932.2 L357.2,936.6 L357.3,931.4 L357.4,934.8 L357.5,932.0 L357.6,936.4 L357.7,931.1 L357.8,934.9 L357.9,931.5 L358.0,935.8 L358.1,931.2 L358.2,934.8 L358.3,931.4 L358.4,935.8 L358.5,932.9 L358.6,936.9 L358.7,933.5 L358.8,934.4 L358.9,931.9 L359.0,935.1 L359.1,931.7 L359.2,935.2 L359.3,932.2 L359.4,935.9 L359.5,931.9 L359.6,935.9 L359.7,932.7 L359.8,934.6 L359.9,933.6 L360.0,936.5 L360.1,932.0 L360.2,935.2 L360.3,932.6 L360.4,935.5 L360.5,933.0 L360.6,935.8 L360.7,933.6 L360.8,936.0 L360.9,932.3 L361.0,935.5 L361.1,932.5 L361.2,935.2 L361.3,932.3 L361.4,935.4 L361.5,932.3 L361.6,934.5 L361.7,932.1 L361.8,935.9 L361.9,932.9 L362.0,935.9 L362.1,933.4 L362.2,935.1 L362.3,932.0 L362.4,935.7 L362.5,932.8 L362.6,934.9 L362.7,932.1 L362.8,934.8 L362.9,932.6 L363.0,935.4 L363.1,933.6 L363.2,934.7 L363.3,932.5 L363.4,934.7 L363.5,931.9 L363.6,935.9 L363.7,932.0 L363.8,934.5 L363.9,932.6 L364.0,934.6 L364.1,932.7 L364.2,935.1 L364.3,933.6 L364.4,935.9 L364.5,932.9 L364.6,935.0 L364.7,933.6 L364.8,934.8 L364.9,933.2 L365.0,934.9 L365.1,932.6 L365.2,934.7 L365.3,932.3 L365.4,936.5 L365.5,933.7 L365.6,936.9 L365.7,932.9 L365.8,935.3 L365.9,933.3 L366.0,935.3 L366.1,932.2 L366.2,935.5 L366.3,932.2 L366.4,935.6 L366.5,932.7 L366.6,935.6 L366.7,932.4 L366.8,934.4 L366.9,932.8 L367.0,935.2 L367.1,933.6 L367.2,934.5 L367.3,933.5 L367.4,935.1 L367.5,933.5 L367.6,934.3 L367.7,932.6 L367.8,935.4 L367.9,933.7 L368.0,935.3 L368.1,933.4 L368.2,935.9 L368.3,933.6 L368.4,935.9 L368.5,931.7 L368.6,934.8 L368.7,933.2 L368.8,936.0 L368.9,932.2" fill="none" stroke="#f00000" stroke-width="0.55" stroke-linejoin="bevel"/>
<text x="403.0" y="773.8" font-size="18" fill="#000" font-weight="bold">N</text>
<rect x="450.80" y="807.00" width="33.50" height="20.00" fill="#f2cb79" stroke="none" stroke-width="1" />
<text x="418.0" y="822.3" font-size="14" fill="#111" textLength="28.3" lengthAdjust="spacingAndGlyphs">OFF</text>
<text x="457.0" y="822.3" font-size="14" fill="#111" textLength="21.0" lengthAdjust="spacingAndGlyphs">ON</text>
<text x="489.5" y="822.3" font-size="14" fill="#111" textLength="28.0" lengthAdjust="spacingAndGlyphs">OFF</text>
<rect x="416.15" y="827.75" width="6.12" height="15.25" fill="#fceaec" stroke="none" stroke-width="1" />
<rect x="416.15" y="842.65" width="6.12" height="15.25" fill="#fbd6d8" stroke="none" stroke-width="1" />
<rect x="416.15" y="857.55" width="6.12" height="15.25" fill="#fbc6c8" stroke="none" stroke-width="1" />
<rect x="416.15" y="872.45" width="6.12" height="15.25" fill="#fab6b8" stroke="none" stroke-width="1" />
<rect x="416.15" y="887.35" width="6.12" height="15.25" fill="#faaeb0" stroke="none" stroke-width="1" />
<rect x="416.15" y="902.25" width="6.12" height="15.25" fill="#f77f81" stroke="none" stroke-width="1" />
<rect x="416.15" y="917.15" width="6.12" height="15.25" fill="#fce5e7" stroke="none" stroke-width="1" />
<rect x="416.15" y="932.05" width="6.12" height="15.25" fill="#fdfdff" stroke="none" stroke-width="1" />
<rect x="421.92" y="827.75" width="6.12" height="15.25" fill="#fcf0f2" stroke="none" stroke-width="1" />
<rect x="421.92" y="842.65" width="6.12" height="15.25" fill="#fcf0f2" stroke="none" stroke-width="1" />
<rect x="421.92" y="857.55" width="6.12" height="15.25" fill="#fcdee0" stroke="none" stroke-width="1" />
<rect x="421.92" y="872.45" width="6.12" height="15.25" fill="#fabec0" stroke="none" stroke-width="1" />
<rect x="421.92" y="887.35" width="6.12" height="15.25" fill="#fce5e7" stroke="none" stroke-width="1" />
<rect x="421.92" y="902.25" width="6.12" height="15.25" fill="#f89799" stroke="none" stroke-width="1" />
<rect x="421.92" y="917.15" width="6.12" height="15.25" fill="#fbced0" stroke="none" stroke-width="1" />
<rect x="421.92" y="932.05" width="6.12" height="15.25" fill="#fdf5f7" stroke="none" stroke-width="1" />
<rect x="427.68" y="827.75" width="6.12" height="15.25" fill="#fcedef" stroke="none" stroke-width="1" />
<rect x="427.68" y="842.65" width="6.12" height="15.25" fill="#fdfdff" stroke="none" stroke-width="1" />
<rect x="427.68" y="857.55" width="6.12" height="15.25" fill="#fcdee0" stroke="none" stroke-width="1" />
<rect x="427.68" y="872.45" width="6.12" height="15.25" fill="#fcedef" stroke="none" stroke-width="1" />
<rect x="427.68" y="887.35" width="6.12" height="15.25" fill="#94bbe4" stroke="none" stroke-width="1" />
<rect x="427.68" y="902.25" width="6.12" height="15.25" fill="#94bbe4" stroke="none" stroke-width="1" />
<rect x="427.68" y="917.15" width="6.12" height="15.25" fill="#d5e4f5" stroke="none" stroke-width="1" />
<rect x="427.68" y="932.05" width="6.12" height="15.25" fill="#fdf5f7" stroke="none" stroke-width="1" />
<rect x="433.45" y="827.75" width="6.12" height="15.25" fill="#fdf5f7" stroke="none" stroke-width="1" />
<rect x="433.45" y="842.65" width="6.12" height="15.25" fill="#fdfdff" stroke="none" stroke-width="1" />
<rect x="433.45" y="857.55" width="6.12" height="15.25" fill="#fcdee0" stroke="none" stroke-width="1" />
<rect x="433.45" y="872.45" width="6.12" height="15.25" fill="#fdfdff" stroke="none" stroke-width="1" />
<rect x="433.45" y="887.35" width="6.12" height="15.25" fill="#fcedef" stroke="none" stroke-width="1" />
<rect x="433.45" y="902.25" width="6.12" height="15.25" fill="#b5d0ed" stroke="none" stroke-width="1" />
<rect x="433.45" y="917.15" width="6.12" height="15.25" fill="#9cc0e6" stroke="none" stroke-width="1" />
<rect x="433.45" y="932.05" width="6.12" height="15.25" fill="#fdf5f7" stroke="none" stroke-width="1" />
<rect x="439.22" y="827.75" width="6.12" height="15.25" fill="#fdfdff" stroke="none" stroke-width="1" />
<rect x="439.22" y="842.65" width="6.12" height="15.25" fill="#fcdee0" stroke="none" stroke-width="1" />
<rect x="439.22" y="857.55" width="6.12" height="15.25" fill="#fbd6d8" stroke="none" stroke-width="1" />
<rect x="439.22" y="872.45" width="6.12" height="15.25" fill="#fdfdff" stroke="none" stroke-width="1" />
<rect x="439.22" y="887.35" width="6.12" height="15.25" fill="#dde9f7" stroke="none" stroke-width="1" />
<rect x="439.22" y="902.25" width="6.12" height="15.25" fill="#fcedef" stroke="none" stroke-width="1" />
<rect x="439.22" y="917.15" width="6.12" height="15.25" fill="#fcedef" stroke="none" stroke-width="1" />
<rect x="439.22" y="932.05" width="6.12" height="15.25" fill="#fcedef" stroke="none" stroke-width="1" />
<rect x="444.98" y="827.75" width="6.12" height="15.25" fill="#fbd6d8" stroke="none" stroke-width="1" />
<rect x="444.98" y="842.65" width="6.12" height="15.25" fill="#fcdee0" stroke="none" stroke-width="1" />
<rect x="444.98" y="857.55" width="6.12" height="15.25" fill="#fdfdff" stroke="none" stroke-width="1" />
<rect x="444.98" y="872.45" width="6.12" height="15.25" fill="#dde9f7" stroke="none" stroke-width="1" />
<rect x="444.98" y="887.35" width="6.12" height="15.25" fill="#dde9f7" stroke="none" stroke-width="1" />
<rect x="444.98" y="902.25" width="6.12" height="15.25" fill="#dde9f7" stroke="none" stroke-width="1" />
<rect x="444.98" y="917.15" width="6.12" height="15.25" fill="#cddff3" stroke="none" stroke-width="1" />
<rect x="444.98" y="932.05" width="6.12" height="15.25" fill="#cddff3" stroke="none" stroke-width="1" />
<rect x="450.75" y="827.75" width="6.05" height="15.25" fill="#a4c5e8" stroke="none" stroke-width="1" />
<rect x="450.75" y="842.65" width="6.05" height="15.25" fill="#a4c5e8" stroke="none" stroke-width="1" />
<rect x="450.75" y="857.55" width="6.05" height="15.25" fill="#a4c5e8" stroke="none" stroke-width="1" />
<rect x="450.75" y="872.45" width="6.05" height="15.25" fill="#b5d0ed" stroke="none" stroke-width="1" />
<rect x="450.75" y="887.35" width="6.05" height="15.25" fill="#dde9f7" stroke="none" stroke-width="1" />
<rect x="450.75" y="902.25" width="6.05" height="15.25" fill="#edf3fb" stroke="none" stroke-width="1" />
<rect x="450.75" y="917.15" width="6.05" height="15.25" fill="#cddff3" stroke="none" stroke-width="1" />
<rect x="450.75" y="932.05" width="6.05" height="15.25" fill="#c5daf1" stroke="none" stroke-width="1" />
<rect x="456.45" y="827.75" width="6.05" height="15.25" fill="#a4c5e8" stroke="none" stroke-width="1" />
<rect x="456.45" y="842.65" width="6.05" height="15.25" fill="#a4c5e8" stroke="none" stroke-width="1" />
<rect x="456.45" y="857.55" width="6.05" height="15.25" fill="#a4c5e8" stroke="none" stroke-width="1" />
<rect x="456.45" y="872.45" width="6.05" height="15.25" fill="#a4c5e8" stroke="none" stroke-width="1" />
<rect x="456.45" y="887.35" width="6.05" height="15.25" fill="#8cb6e2" stroke="none" stroke-width="1" />
<rect x="456.45" y="902.25" width="6.05" height="15.25" fill="#bdd5ef" stroke="none" stroke-width="1" />
<rect x="456.45" y="917.15" width="6.05" height="15.25" fill="#fcedef" stroke="none" stroke-width="1" />
<rect x="456.45" y="932.05" width="6.05" height="15.25" fill="#fdfdff" stroke="none" stroke-width="1" />
<rect x="462.15" y="827.75" width="6.05" height="15.25" fill="#fdfdff" stroke="none" stroke-width="1" />
<rect x="462.15" y="842.65" width="6.05" height="15.25" fill="#fcedef" stroke="none" stroke-width="1" />
<rect x="462.15" y="857.55" width="6.05" height="15.25" fill="#bdd5ef" stroke="none" stroke-width="1" />
<rect x="462.15" y="872.45" width="6.05" height="15.25" fill="#7cacde" stroke="none" stroke-width="1" />
<rect x="462.15" y="887.35" width="6.05" height="15.25" fill="#dde9f7" stroke="none" stroke-width="1" />
<rect x="462.15" y="902.25" width="6.05" height="15.25" fill="#bdd5ef" stroke="none" stroke-width="1" />
<rect x="462.15" y="917.15" width="6.05" height="15.25" fill="#bdd5ef" stroke="none" stroke-width="1" />
<rect x="462.15" y="932.05" width="6.05" height="15.25" fill="#a4c5e8" stroke="none" stroke-width="1" />
<rect x="467.85" y="827.75" width="6.05" height="15.25" fill="#7cacde" stroke="none" stroke-width="1" />
<rect x="467.85" y="842.65" width="6.05" height="15.25" fill="#7cacde" stroke="none" stroke-width="1" />
<rect x="467.85" y="857.55" width="6.05" height="15.25" fill="#7cacde" stroke="none" stroke-width="1" />
<rect x="467.85" y="872.45" width="6.05" height="15.25" fill="#7cacde" stroke="none" stroke-width="1" />
<rect x="467.85" y="887.35" width="6.05" height="15.25" fill="#84b1e0" stroke="none" stroke-width="1" />
<rect x="467.85" y="902.25" width="6.05" height="15.25" fill="#fdfdff" stroke="none" stroke-width="1" />
<rect x="467.85" y="917.15" width="6.05" height="15.25" fill="#fcf0f2" stroke="none" stroke-width="1" />
<rect x="467.85" y="932.05" width="6.05" height="15.25" fill="#b5d0ed" stroke="none" stroke-width="1" />
<rect x="473.55" y="827.75" width="6.05" height="15.25" fill="#7cacde" stroke="none" stroke-width="1" />
<rect x="473.55" y="842.65" width="6.05" height="15.25" fill="#bdd5ef" stroke="none" stroke-width="1" />
<rect x="473.55" y="857.55" width="6.05" height="15.25" fill="#bdd5ef" stroke="none" stroke-width="1" />
<rect x="473.55" y="872.45" width="6.05" height="15.25" fill="#b5d0ed" stroke="none" stroke-width="1" />
<rect x="473.55" y="887.35" width="6.05" height="15.25" fill="#fdfdff" stroke="none" stroke-width="1" />
<rect x="473.55" y="902.25" width="6.05" height="15.25" fill="#f5f8fd" stroke="none" stroke-width="1" />
<rect x="473.55" y="917.15" width="6.05" height="15.25" fill="#fcf0f2" stroke="none" stroke-width="1" />
<rect x="473.55" y="932.05" width="6.05" height="15.25" fill="#84b1e0" stroke="none" stroke-width="1" />
<rect x="479.25" y="827.75" width="6.05" height="15.25" fill="#7cacde" stroke="none" stroke-width="1" />
<rect x="479.25" y="842.65" width="6.05" height="15.25" fill="#7cacde" stroke="none" stroke-width="1" />
<rect x="479.25" y="857.55" width="6.05" height="15.25" fill="#94bbe4" stroke="none" stroke-width="1" />
<rect x="479.25" y="872.45" width="6.05" height="15.25" fill="#94bbe4" stroke="none" stroke-width="1" />
<rect x="479.25" y="887.35" width="6.05" height="15.25" fill="#cddff3" stroke="none" stroke-width="1" />
<rect x="479.25" y="902.25" width="6.05" height="15.25" fill="#f5f8fd" stroke="none" stroke-width="1" />
<rect x="479.25" y="917.15" width="6.05" height="15.25" fill="#fdfdff" stroke="none" stroke-width="1" />
<rect x="479.25" y="932.05" width="6.05" height="15.25" fill="#74a7dc" stroke="none" stroke-width="1" />
<rect x="484.95" y="827.75" width="6.12" height="15.25" fill="#fdfdff" stroke="none" stroke-width="1" />
<rect x="484.95" y="842.65" width="6.12" height="15.25" fill="#fcedef" stroke="none" stroke-width="1" />
<rect x="484.95" y="857.55" width="6.12" height="15.25" fill="#fcedef" stroke="none" stroke-width="1" />
<rect x="484.95" y="872.45" width="6.12" height="15.25" fill="#cddff3" stroke="none" stroke-width="1" />
<rect x="484.95" y="887.35" width="6.12" height="15.25" fill="#fdfdff" stroke="none" stroke-width="1" />
<rect x="484.95" y="902.25" width="6.12" height="15.25" fill="#f77f81" stroke="none" stroke-width="1" />
<rect x="484.95" y="917.15" width="6.12" height="15.25" fill="#c5daf1" stroke="none" stroke-width="1" />
<rect x="484.95" y="932.05" width="6.12" height="15.25" fill="#cddff3" stroke="none" stroke-width="1" />
<rect x="490.72" y="827.75" width="6.12" height="15.25" fill="#e5eef9" stroke="none" stroke-width="1" />
<rect x="490.72" y="842.65" width="6.12" height="15.25" fill="#c5daf1" stroke="none" stroke-width="1" />
<rect x="490.72" y="857.55" width="6.12" height="15.25" fill="#c5daf1" stroke="none" stroke-width="1" />
<rect x="490.72" y="872.45" width="6.12" height="15.25" fill="#b5d0ed" stroke="none" stroke-width="1" />
<rect x="490.72" y="887.35" width="6.12" height="15.25" fill="#fdfdff" stroke="none" stroke-width="1" />
<rect x="490.72" y="902.25" width="6.12" height="15.25" fill="#fcedef" stroke="none" stroke-width="1" />
<rect x="490.72" y="917.15" width="6.12" height="15.25" fill="#94bbe4" stroke="none" stroke-width="1" />
<rect x="490.72" y="932.05" width="6.12" height="15.25" fill="#cddff3" stroke="none" stroke-width="1" />
<rect x="496.48" y="827.75" width="6.12" height="15.25" fill="#cddff3" stroke="none" stroke-width="1" />
<rect x="496.48" y="842.65" width="6.12" height="15.25" fill="#fce5e7" stroke="none" stroke-width="1" />
<rect x="496.48" y="857.55" width="6.12" height="15.25" fill="#fcedef" stroke="none" stroke-width="1" />
<rect x="496.48" y="872.45" width="6.12" height="15.25" fill="#fcedef" stroke="none" stroke-width="1" />
<rect x="496.48" y="887.35" width="6.12" height="15.25" fill="#fcedef" stroke="none" stroke-width="1" />
<rect x="496.48" y="902.25" width="6.12" height="15.25" fill="#fcedef" stroke="none" stroke-width="1" />
<rect x="496.48" y="917.15" width="6.12" height="15.25" fill="#94bbe4" stroke="none" stroke-width="1" />
<rect x="496.48" y="932.05" width="6.12" height="15.25" fill="#fdfdff" stroke="none" stroke-width="1" />
<rect x="502.25" y="827.75" width="6.12" height="15.25" fill="#fdfdff" stroke="none" stroke-width="1" />
<rect x="502.25" y="842.65" width="6.12" height="15.25" fill="#fcdee0" stroke="none" stroke-width="1" />
<rect x="502.25" y="857.55" width="6.12" height="15.25" fill="#f88f91" stroke="none" stroke-width="1" />
<rect x="502.25" y="872.45" width="6.12" height="15.25" fill="#fdfdff" stroke="none" stroke-width="1" />
<rect x="502.25" y="887.35" width="6.12" height="15.25" fill="#fbd6d8" stroke="none" stroke-width="1" />
<rect x="502.25" y="902.25" width="6.12" height="15.25" fill="#fcedef" stroke="none" stroke-width="1" />
<rect x="502.25" y="917.15" width="6.12" height="15.25" fill="#fcedef" stroke="none" stroke-width="1" />
<rect x="502.25" y="932.05" width="6.12" height="15.25" fill="#cddff3" stroke="none" stroke-width="1" />
<rect x="508.02" y="827.75" width="6.12" height="15.25" fill="#fcedef" stroke="none" stroke-width="1" />
<rect x="508.02" y="842.65" width="6.12" height="15.25" fill="#fce5e7" stroke="none" stroke-width="1" />
<rect x="508.02" y="857.55" width="6.12" height="15.25" fill="#fdfdff" stroke="none" stroke-width="1" />
<rect x="508.02" y="872.45" width="6.12" height="15.25" fill="#e5eef9" stroke="none" stroke-width="1" />
<rect x="508.02" y="887.35" width="6.12" height="15.25" fill="#fcedef" stroke="none" stroke-width="1" />
<rect x="508.02" y="902.25" width="6.12" height="15.25" fill="#fcedef" stroke="none" stroke-width="1" />
<rect x="508.02" y="917.15" width="6.12" height="15.25" fill="#c5daf1" stroke="none" stroke-width="1" />
<rect x="508.02" y="932.05" width="6.12" height="15.25" fill="#c5daf1" stroke="none" stroke-width="1" />
<rect x="513.78" y="827.75" width="6.12" height="15.25" fill="#fdfdff" stroke="none" stroke-width="1" />
<rect x="513.78" y="842.65" width="6.12" height="15.25" fill="#accaea" stroke="none" stroke-width="1" />
<rect x="513.78" y="857.55" width="6.12" height="15.25" fill="#cddff3" stroke="none" stroke-width="1" />
<rect x="513.78" y="872.45" width="6.12" height="15.25" fill="#e5eef9" stroke="none" stroke-width="1" />
<rect x="513.78" y="887.35" width="6.12" height="15.25" fill="#fcedef" stroke="none" stroke-width="1" />
<rect x="513.78" y="902.25" width="6.12" height="15.25" fill="#fcedef" stroke="none" stroke-width="1" />
<rect x="513.78" y="917.15" width="6.12" height="15.25" fill="#a4c5e8" stroke="none" stroke-width="1" />
<rect x="513.78" y="932.05" width="6.12" height="15.25" fill="#a4c5e8" stroke="none" stroke-width="1" />
<rect x="415.60" y="827.10" width="104.50" height="120.00" fill="none" stroke="#8a8a8a" stroke-width="1.1" />
<rect x="450.80" y="827.60" width="34.20" height="119.20" fill="none" stroke="#f2cb79" stroke-width="1" />
<rect x="525.80" y="833.30" width="6.00" height="113.00" fill="url(#cbar)" stroke="#8a8a8a" stroke-width="1" />
<text x="522.5" y="826.3" font-size="10.5" fill="#111" textLength="50.0" lengthAdjust="spacingAndGlyphs">P-P value</text>
<text x="533.8" y="840.2" font-size="10.5" fill="#111" textLength="25.7" lengthAdjust="spacingAndGlyphs">3800</text>
<text x="533.8" y="895.2" font-size="10.5" fill="#111" textLength="25.7" lengthAdjust="spacingAndGlyphs">1975</text>
<text x="533.8" y="949.0" font-size="10.5" fill="#111" textLength="23.0" lengthAdjust="spacingAndGlyphs">-150</text>
<text x="576.9" y="774.5" font-size="18" fill="#000" font-weight="bold">O</text>
<rect x="680.00" y="799.90" width="20.40" height="143.20" fill="#f2cb79" stroke="none" stroke-width="1" />
<line x1="641.8" y1="798.9" x2="641.8" y2="943.8" stroke="#000" stroke-width="1.5" />
<line x1="636.8" y1="943.1" x2="641.8" y2="943.1" stroke="#000" stroke-width="1.2" />
<line x1="639.0" y1="931.1" x2="641.8" y2="931.1" stroke="#000" stroke-width="1.2" />
<line x1="639.0" y1="919.2" x2="641.8" y2="919.2" stroke="#000" stroke-width="1.2" />
<line x1="639.0" y1="907.2" x2="641.8" y2="907.2" stroke="#000" stroke-width="1.2" />
<line x1="636.8" y1="895.3" x2="641.8" y2="895.3" stroke="#000" stroke-width="1.2" />
<line x1="639.0" y1="883.3" x2="641.8" y2="883.3" stroke="#000" stroke-width="1.2" />
<line x1="639.0" y1="871.4" x2="641.8" y2="871.4" stroke="#000" stroke-width="1.2" />
<line x1="639.0" y1="859.4" x2="641.8" y2="859.4" stroke="#000" stroke-width="1.2" />
<line x1="636.8" y1="847.4" x2="641.8" y2="847.4" stroke="#000" stroke-width="1.2" />
<line x1="639.0" y1="835.5" x2="641.8" y2="835.5" stroke="#000" stroke-width="1.2" />
<line x1="639.0" y1="823.5" x2="641.8" y2="823.5" stroke="#000" stroke-width="1.2" />
<line x1="639.0" y1="811.6" x2="641.8" y2="811.6" stroke="#000" stroke-width="1.2" />
<line x1="636.8" y1="799.6" x2="641.8" y2="799.6" stroke="#000" stroke-width="1.2" />
<text x="634.2" y="947.8" font-size="13.1" fill="#111" text-anchor="end">0</text>
<text x="634.2" y="900.0" font-size="13.1" fill="#111" text-anchor="end">400</text>
<text x="634.2" y="852.1" font-size="13.1" fill="#111" text-anchor="end">800</text>
<text x="634.2" y="804.3" font-size="13.1" fill="#111" text-anchor="end">1200</text>
<line x1="637.7" y1="943.1" x2="738.6" y2="943.1" stroke="#000" stroke-width="1.5" />
<line x1="661.4" y1="943.1" x2="661.4" y2="948.1" stroke="#000" stroke-width="1.2" />
<line x1="689.5" y1="943.1" x2="689.5" y2="948.1" stroke="#000" stroke-width="1.2" />
<line x1="718.2" y1="943.1" x2="718.2" y2="948.1" stroke="#000" stroke-width="1.2" />
<line x1="661.3" y1="841.9" x2="661.3" y2="826.9" stroke="#000" stroke-width="1.4" />
<line x1="656.8" y1="826.9" x2="665.8" y2="826.9" stroke="#000" stroke-width="1.4" />
<rect x="652.20" y="841.90" width="18.20" height="101.20" fill="#fff" stroke="#000" stroke-width="1.5" />
<line x1="690.2" y1="931.4" x2="690.2" y2="927.3" stroke="#c8a04a" stroke-width="1.4" />
<line x1="685.7" y1="927.3" x2="694.7" y2="927.3" stroke="#c8a04a" stroke-width="1.4" />
<rect x="680.80" y="931.40" width="18.80" height="11.70" fill="none" stroke="#c8a04a" stroke-width="1.5" />
<line x1="718.5" y1="876.3" x2="718.5" y2="862.6" stroke="#000" stroke-width="1.4" />
<line x1="714.0" y1="862.6" x2="723.0" y2="862.6" stroke="#000" stroke-width="1.4" />
<rect x="709.40" y="876.30" width="18.30" height="66.80" fill="#fff" stroke="#000" stroke-width="1.5" />
<line x1="661.2" y1="821.6" x2="688.6" y2="821.6" stroke="#000" stroke-width="1.5" />
<text x="669.7" y="824.5" font-size="18" fill="#111" text-anchor="middle" font-weight="bold">*</text>
<text x="678.5" y="824.5" font-size="18" fill="#111" text-anchor="middle" font-weight="bold">*</text>
<line x1="692.7" y1="857.5" x2="720.0" y2="857.5" stroke="#000" stroke-width="1.5" />
<text x="702.3" y="860.4" font-size="18" fill="#111" text-anchor="middle" font-weight="bold">*</text>
<text x="710.9" y="860.4" font-size="18" fill="#111" text-anchor="middle" font-weight="bold">*</text>
<text x="666.6" y="963.0" font-size="14" fill="#111" text-anchor="end" transform="rotate(-45 666.6 963.0)">Baseline</text>
<text x="694.6" y="961.5" font-size="14" fill="#111" text-anchor="end" transform="rotate(-45 694.6 961.5)">Light-on</text>
<text x="724.2" y="961.5" font-size="14" fill="#111" text-anchor="end" transform="rotate(-45 724.2 961.5)">Light-off</text>
<text x="595.0" y="871.3" font-size="12" fill="#111" text-anchor="middle" textLength="57.3" lengthAdjust="spacingAndGlyphs" transform="rotate(-90 595 871.3)">P-P value</text>
</svg>
</body></html>
